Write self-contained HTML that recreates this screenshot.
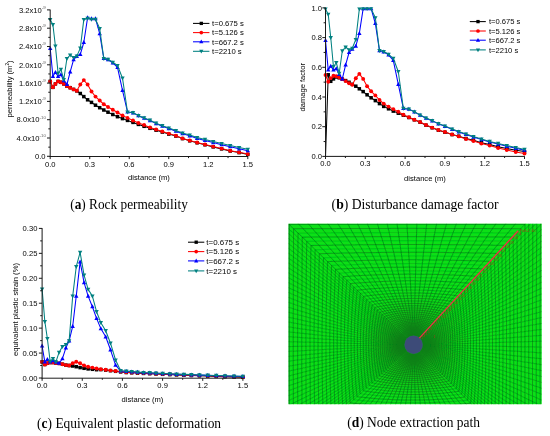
<!DOCTYPE html>
<html lang="en"><head><meta charset="utf-8"><title>Figure</title>
<style>html,body{margin:0;padding:0;background:#fff}svg{display:block}text{white-space:pre}</style>
</head><body>
<svg width="550" height="436" viewBox="0 0 550 436">
<rect width="550" height="436" fill="#ffffff"/>
<defs><filter id="soft" x="0" y="0" width="100%" height="100%" filterUnits="userSpaceOnUse"><feGaussianBlur stdDeviation="0.35"/></filter></defs>
<g filter="url(#soft)">
<clipPath id="ca"><rect x="47.2" y="9.3" width="203.60000000000002" height="149.6"/></clipPath>
<g clip-path="url(#ca)">
<polyline points="50.20,81.40 52.90,87.30 55.40,83.90 58.10,81.40 60.90,82.30 63.80,83.90 66.90,86.10 70.20,87.70 73.60,89.40 76.80,90.90 80.30,93.50 83.80,96.60 87.60,99.80 91.50,102.40 95.50,105.20 99.70,107.70 103.80,110.00 108.00,112.20 112.80,114.50 117.50,116.70 122.50,118.60 127.50,120.40 133.00,122.40 138.40,124.40 144.10,126.30 150.00,128.30 156.10,130.20 162.30,132.10 168.80,134.10 175.90,136.10 182.50,138.60 189.70,140.80 197.10,142.80 205.00,144.80 213.20,146.90 221.60,148.90 230.20,151.00 239.10,152.60 247.80,154.40" fill="none" stroke="#000000" stroke-width="1.05" stroke-linejoin="round"/>
<rect x="48.45" y="79.65" width="3.50" height="3.50" fill="#000000"/><rect x="51.15" y="85.55" width="3.50" height="3.50" fill="#000000"/><rect x="53.65" y="82.15" width="3.50" height="3.50" fill="#000000"/><rect x="56.35" y="79.65" width="3.50" height="3.50" fill="#000000"/><rect x="59.15" y="80.55" width="3.50" height="3.50" fill="#000000"/><rect x="62.05" y="82.15" width="3.50" height="3.50" fill="#000000"/><rect x="65.15" y="84.35" width="3.50" height="3.50" fill="#000000"/><rect x="68.45" y="85.95" width="3.50" height="3.50" fill="#000000"/><rect x="71.85" y="87.65" width="3.50" height="3.50" fill="#000000"/><rect x="75.05" y="89.15" width="3.50" height="3.50" fill="#000000"/><rect x="78.55" y="91.75" width="3.50" height="3.50" fill="#000000"/><rect x="82.05" y="94.85" width="3.50" height="3.50" fill="#000000"/><rect x="85.85" y="98.05" width="3.50" height="3.50" fill="#000000"/><rect x="89.75" y="100.65" width="3.50" height="3.50" fill="#000000"/><rect x="93.75" y="103.45" width="3.50" height="3.50" fill="#000000"/><rect x="97.95" y="105.95" width="3.50" height="3.50" fill="#000000"/><rect x="102.05" y="108.25" width="3.50" height="3.50" fill="#000000"/><rect x="106.25" y="110.45" width="3.50" height="3.50" fill="#000000"/><rect x="111.05" y="112.75" width="3.50" height="3.50" fill="#000000"/><rect x="115.75" y="114.95" width="3.50" height="3.50" fill="#000000"/><rect x="120.75" y="116.85" width="3.50" height="3.50" fill="#000000"/><rect x="125.75" y="118.65" width="3.50" height="3.50" fill="#000000"/><rect x="131.25" y="120.65" width="3.50" height="3.50" fill="#000000"/><rect x="136.65" y="122.65" width="3.50" height="3.50" fill="#000000"/><rect x="142.35" y="124.55" width="3.50" height="3.50" fill="#000000"/><rect x="148.25" y="126.55" width="3.50" height="3.50" fill="#000000"/><rect x="154.35" y="128.45" width="3.50" height="3.50" fill="#000000"/><rect x="160.55" y="130.35" width="3.50" height="3.50" fill="#000000"/><rect x="167.05" y="132.35" width="3.50" height="3.50" fill="#000000"/><rect x="174.15" y="134.35" width="3.50" height="3.50" fill="#000000"/><rect x="180.75" y="136.85" width="3.50" height="3.50" fill="#000000"/><rect x="187.95" y="139.05" width="3.50" height="3.50" fill="#000000"/><rect x="195.35" y="141.05" width="3.50" height="3.50" fill="#000000"/><rect x="203.25" y="143.05" width="3.50" height="3.50" fill="#000000"/><rect x="211.45" y="145.15" width="3.50" height="3.50" fill="#000000"/><rect x="219.85" y="147.15" width="3.50" height="3.50" fill="#000000"/><rect x="228.45" y="149.25" width="3.50" height="3.50" fill="#000000"/><rect x="237.35" y="150.85" width="3.50" height="3.50" fill="#000000"/><rect x="246.05" y="152.65" width="3.50" height="3.50" fill="#000000"/>
<polyline points="50.20,81.40 52.90,87.30 55.40,83.90 58.10,81.40 60.90,82.30 63.80,83.90 66.90,86.10 70.20,87.70 73.60,89.40 76.80,90.70 80.30,84.50 83.80,80.10 87.60,84.50 91.50,91.50 95.50,96.60 99.70,100.50 103.80,104.30 108.00,107.00 112.80,109.80 117.50,112.50 122.50,115.50 127.50,117.90 133.00,120.50 138.40,123.00 144.10,125.00 150.00,127.50 156.10,129.50 162.30,131.50 168.80,133.60 175.90,135.70 182.50,138.40 189.70,140.50 197.10,142.50 205.00,144.50 213.20,146.60 221.60,148.60 230.20,150.70 239.10,152.30 247.80,154.10" fill="none" stroke="#ff0000" stroke-width="1.05" stroke-linejoin="round"/>
<circle cx="50.20" cy="81.40" r="1.95" fill="#ff0000"/><circle cx="52.90" cy="87.30" r="1.95" fill="#ff0000"/><circle cx="55.40" cy="83.90" r="1.95" fill="#ff0000"/><circle cx="58.10" cy="81.40" r="1.95" fill="#ff0000"/><circle cx="60.90" cy="82.30" r="1.95" fill="#ff0000"/><circle cx="63.80" cy="83.90" r="1.95" fill="#ff0000"/><circle cx="66.90" cy="86.10" r="1.95" fill="#ff0000"/><circle cx="70.20" cy="87.70" r="1.95" fill="#ff0000"/><circle cx="73.60" cy="89.40" r="1.95" fill="#ff0000"/><circle cx="76.80" cy="90.70" r="1.95" fill="#ff0000"/><circle cx="80.30" cy="84.50" r="1.95" fill="#ff0000"/><circle cx="83.80" cy="80.10" r="1.95" fill="#ff0000"/><circle cx="87.60" cy="84.50" r="1.95" fill="#ff0000"/><circle cx="91.50" cy="91.50" r="1.95" fill="#ff0000"/><circle cx="95.50" cy="96.60" r="1.95" fill="#ff0000"/><circle cx="99.70" cy="100.50" r="1.95" fill="#ff0000"/><circle cx="103.80" cy="104.30" r="1.95" fill="#ff0000"/><circle cx="108.00" cy="107.00" r="1.95" fill="#ff0000"/><circle cx="112.80" cy="109.80" r="1.95" fill="#ff0000"/><circle cx="117.50" cy="112.50" r="1.95" fill="#ff0000"/><circle cx="122.50" cy="115.50" r="1.95" fill="#ff0000"/><circle cx="127.50" cy="117.90" r="1.95" fill="#ff0000"/><circle cx="133.00" cy="120.50" r="1.95" fill="#ff0000"/><circle cx="138.40" cy="123.00" r="1.95" fill="#ff0000"/><circle cx="144.10" cy="125.00" r="1.95" fill="#ff0000"/><circle cx="150.00" cy="127.50" r="1.95" fill="#ff0000"/><circle cx="156.10" cy="129.50" r="1.95" fill="#ff0000"/><circle cx="162.30" cy="131.50" r="1.95" fill="#ff0000"/><circle cx="168.80" cy="133.60" r="1.95" fill="#ff0000"/><circle cx="175.90" cy="135.70" r="1.95" fill="#ff0000"/><circle cx="182.50" cy="138.40" r="1.95" fill="#ff0000"/><circle cx="189.70" cy="140.50" r="1.95" fill="#ff0000"/><circle cx="197.10" cy="142.50" r="1.95" fill="#ff0000"/><circle cx="205.00" cy="144.50" r="1.95" fill="#ff0000"/><circle cx="213.20" cy="146.60" r="1.95" fill="#ff0000"/><circle cx="221.60" cy="148.60" r="1.95" fill="#ff0000"/><circle cx="230.20" cy="150.70" r="1.95" fill="#ff0000"/><circle cx="239.10" cy="152.30" r="1.95" fill="#ff0000"/><circle cx="247.80" cy="154.10" r="1.95" fill="#ff0000"/>
<polyline points="50.20,48.30 52.90,76.30 55.40,72.50 58.10,76.30 60.90,74.60 63.80,80.70 66.90,84.50 70.20,71.80 73.60,59.70 76.80,56.50 80.30,54.30 83.80,42.50 87.60,17.70 91.50,18.70 95.50,18.70 99.70,33.60 103.80,58.50 108.00,59.70 112.80,62.90 117.50,67.40 122.50,90.30 127.50,112.00 133.00,112.78 138.40,115.66 144.10,118.15 150.00,120.53 156.10,123.61 162.30,126.19 168.80,128.58 175.90,131.26 182.50,133.74 189.70,135.82 197.10,138.41 205.00,140.39 213.20,142.57 221.60,144.75 230.20,146.74 239.10,148.82 247.80,150.70" fill="none" stroke="#0000ff" stroke-width="1.05" stroke-linejoin="round"/>
<path d="M48.00 49.90L52.40 49.90L50.20 45.90Z" fill="#0000ff"/><path d="M50.70 77.90L55.10 77.90L52.90 73.90Z" fill="#0000ff"/><path d="M53.20 74.10L57.60 74.10L55.40 70.10Z" fill="#0000ff"/><path d="M55.90 77.90L60.30 77.90L58.10 73.90Z" fill="#0000ff"/><path d="M58.70 76.20L63.10 76.20L60.90 72.20Z" fill="#0000ff"/><path d="M61.60 82.30L66.00 82.30L63.80 78.30Z" fill="#0000ff"/><path d="M64.70 86.10L69.10 86.10L66.90 82.10Z" fill="#0000ff"/><path d="M68.00 73.40L72.40 73.40L70.20 69.40Z" fill="#0000ff"/><path d="M71.40 61.30L75.80 61.30L73.60 57.30Z" fill="#0000ff"/><path d="M74.60 58.10L79.00 58.10L76.80 54.10Z" fill="#0000ff"/><path d="M78.10 55.90L82.50 55.90L80.30 51.90Z" fill="#0000ff"/><path d="M81.60 44.10L86.00 44.10L83.80 40.10Z" fill="#0000ff"/><path d="M85.40 19.30L89.80 19.30L87.60 15.30Z" fill="#0000ff"/><path d="M89.30 20.30L93.70 20.30L91.50 16.30Z" fill="#0000ff"/><path d="M93.30 20.30L97.70 20.30L95.50 16.30Z" fill="#0000ff"/><path d="M97.50 35.20L101.90 35.20L99.70 31.20Z" fill="#0000ff"/><path d="M101.60 60.10L106.00 60.10L103.80 56.10Z" fill="#0000ff"/><path d="M105.80 61.30L110.20 61.30L108.00 57.30Z" fill="#0000ff"/><path d="M110.60 64.50L115.00 64.50L112.80 60.50Z" fill="#0000ff"/><path d="M115.30 69.00L119.70 69.00L117.50 65.00Z" fill="#0000ff"/><path d="M120.30 91.90L124.70 91.90L122.50 87.90Z" fill="#0000ff"/><path d="M125.30 113.60L129.70 113.60L127.50 109.60Z" fill="#0000ff"/><path d="M130.80 114.38L135.20 114.38L133.00 110.38Z" fill="#0000ff"/><path d="M136.20 117.26L140.60 117.26L138.40 113.26Z" fill="#0000ff"/><path d="M141.90 119.75L146.30 119.75L144.10 115.75Z" fill="#0000ff"/><path d="M147.80 122.13L152.20 122.13L150.00 118.13Z" fill="#0000ff"/><path d="M153.90 125.21L158.30 125.21L156.10 121.21Z" fill="#0000ff"/><path d="M160.10 127.79L164.50 127.79L162.30 123.79Z" fill="#0000ff"/><path d="M166.60 130.18L171.00 130.18L168.80 126.18Z" fill="#0000ff"/><path d="M173.70 132.86L178.10 132.86L175.90 128.86Z" fill="#0000ff"/><path d="M180.30 135.34L184.70 135.34L182.50 131.34Z" fill="#0000ff"/><path d="M187.50 137.42L191.90 137.42L189.70 133.42Z" fill="#0000ff"/><path d="M194.90 140.01L199.30 140.01L197.10 136.01Z" fill="#0000ff"/><path d="M202.80 141.99L207.20 141.99L205.00 137.99Z" fill="#0000ff"/><path d="M211.00 144.17L215.40 144.17L213.20 140.17Z" fill="#0000ff"/><path d="M219.40 146.35L223.80 146.35L221.60 142.35Z" fill="#0000ff"/><path d="M228.00 148.34L232.40 148.34L230.20 144.34Z" fill="#0000ff"/><path d="M236.90 150.42L241.30 150.42L239.10 146.42Z" fill="#0000ff"/><path d="M245.60 152.30L250.00 152.30L247.80 148.30Z" fill="#0000ff"/>
<polyline points="50.20,19.60 52.90,24.70 55.40,46.00 58.10,73.30 60.90,69.30 63.80,79.50 66.90,58.50 70.20,55.00 73.60,57.60 76.80,56.10 80.30,48.10 83.80,19.60 87.60,18.40 91.50,19.30 95.50,19.30 99.70,28.50 103.80,58.50 108.00,59.30 112.80,62.30 117.50,65.50 122.50,78.20 127.50,112.00 133.00,112.70 138.40,115.50 144.10,117.90 150.00,120.20 156.10,123.20 162.30,125.70 168.80,128.00 175.90,130.60 182.50,133.00 189.70,135.00 197.10,137.50 205.00,139.40 213.20,141.50 221.60,143.60 230.20,145.50 239.10,147.50 247.80,149.30" fill="none" stroke="#008080" stroke-width="1.05" stroke-linejoin="round"/>
<path d="M48.00 18.00L52.40 18.00L50.20 22.00Z" fill="#008080"/><path d="M50.70 23.10L55.10 23.10L52.90 27.10Z" fill="#008080"/><path d="M53.20 44.40L57.60 44.40L55.40 48.40Z" fill="#008080"/><path d="M55.90 71.70L60.30 71.70L58.10 75.70Z" fill="#008080"/><path d="M58.70 67.70L63.10 67.70L60.90 71.70Z" fill="#008080"/><path d="M61.60 77.90L66.00 77.90L63.80 81.90Z" fill="#008080"/><path d="M64.70 56.90L69.10 56.90L66.90 60.90Z" fill="#008080"/><path d="M68.00 53.40L72.40 53.40L70.20 57.40Z" fill="#008080"/><path d="M71.40 56.00L75.80 56.00L73.60 60.00Z" fill="#008080"/><path d="M74.60 54.50L79.00 54.50L76.80 58.50Z" fill="#008080"/><path d="M78.10 46.50L82.50 46.50L80.30 50.50Z" fill="#008080"/><path d="M81.60 18.00L86.00 18.00L83.80 22.00Z" fill="#008080"/><path d="M85.40 16.80L89.80 16.80L87.60 20.80Z" fill="#008080"/><path d="M89.30 17.70L93.70 17.70L91.50 21.70Z" fill="#008080"/><path d="M93.30 17.70L97.70 17.70L95.50 21.70Z" fill="#008080"/><path d="M97.50 26.90L101.90 26.90L99.70 30.90Z" fill="#008080"/><path d="M101.60 56.90L106.00 56.90L103.80 60.90Z" fill="#008080"/><path d="M105.80 57.70L110.20 57.70L108.00 61.70Z" fill="#008080"/><path d="M110.60 60.70L115.00 60.70L112.80 64.70Z" fill="#008080"/><path d="M115.30 63.90L119.70 63.90L117.50 67.90Z" fill="#008080"/><path d="M120.30 76.60L124.70 76.60L122.50 80.60Z" fill="#008080"/><path d="M125.30 110.40L129.70 110.40L127.50 114.40Z" fill="#008080"/><path d="M130.80 111.10L135.20 111.10L133.00 115.10Z" fill="#008080"/><path d="M136.20 113.90L140.60 113.90L138.40 117.90Z" fill="#008080"/><path d="M141.90 116.30L146.30 116.30L144.10 120.30Z" fill="#008080"/><path d="M147.80 118.60L152.20 118.60L150.00 122.60Z" fill="#008080"/><path d="M153.90 121.60L158.30 121.60L156.10 125.60Z" fill="#008080"/><path d="M160.10 124.10L164.50 124.10L162.30 128.10Z" fill="#008080"/><path d="M166.60 126.40L171.00 126.40L168.80 130.40Z" fill="#008080"/><path d="M173.70 129.00L178.10 129.00L175.90 133.00Z" fill="#008080"/><path d="M180.30 131.40L184.70 131.40L182.50 135.40Z" fill="#008080"/><path d="M187.50 133.40L191.90 133.40L189.70 137.40Z" fill="#008080"/><path d="M194.90 135.90L199.30 135.90L197.10 139.90Z" fill="#008080"/><path d="M202.80 137.80L207.20 137.80L205.00 141.80Z" fill="#008080"/><path d="M211.00 139.90L215.40 139.90L213.20 143.90Z" fill="#008080"/><path d="M219.40 142.00L223.80 142.00L221.60 146.00Z" fill="#008080"/><path d="M228.00 143.90L232.40 143.90L230.20 147.90Z" fill="#008080"/><path d="M236.90 145.90L241.30 145.90L239.10 149.90Z" fill="#008080"/><path d="M245.60 147.70L250.00 147.70L247.80 151.70Z" fill="#008080"/>
</g>
<g stroke="#1a1a1a" stroke-width="1" fill="none">
<path d="M50.20 9.60V157.00"/>
<path d="M49.70 156.50H248.10"/>
<path d="M47.00 156.30H50.20"/>
<path d="M48.30 147.15H50.20"/>
<path d="M47.00 138.00H50.20"/>
<path d="M48.30 128.85H50.20"/>
<path d="M47.00 119.70H50.20"/>
<path d="M48.30 110.55H50.20"/>
<path d="M47.00 101.40H50.20"/>
<path d="M48.30 92.25H50.20"/>
<path d="M47.00 83.10H50.20"/>
<path d="M48.30 73.95H50.20"/>
<path d="M47.00 64.80H50.20"/>
<path d="M48.30 55.65H50.20"/>
<path d="M47.00 46.50H50.20"/>
<path d="M48.30 37.35H50.20"/>
<path d="M47.00 28.20H50.20"/>
<path d="M48.30 19.05H50.20"/>
<path d="M47.00 9.90H50.20"/>
<path d="M50.20 156.50V159.10"/>
<path d="M69.96 156.50V158.10"/>
<path d="M89.72 156.50V159.10"/>
<path d="M109.48 156.50V158.10"/>
<path d="M129.24 156.50V159.10"/>
<path d="M149.00 156.50V158.10"/>
<path d="M168.76 156.50V159.10"/>
<path d="M188.52 156.50V158.10"/>
<path d="M208.28 156.50V159.10"/>
<path d="M228.04 156.50V158.10"/>
<path d="M247.80 156.50V159.10"/>
</g>
<g font-family='"Liberation Sans", Arial, sans-serif' font-size="7.6" fill="#0a0a0a">
<text x="50.20" y="167.30" text-anchor="middle">0.0</text>
<text x="89.72" y="167.30" text-anchor="middle">0.3</text>
<text x="129.24" y="167.30" text-anchor="middle">0.6</text>
<text x="168.76" y="167.30" text-anchor="middle">0.9</text>
<text x="208.28" y="167.30" text-anchor="middle">1.2</text>
<text x="247.80" y="167.30" text-anchor="middle">1.5</text>
<text x="45.50" y="159.05" text-anchor="end">0.0</text>
<text x="39.40" y="140.75" text-anchor="end">4.0x10</text>
<text x="39.60" y="136.80" font-size="4.4" fill="#666">-10</text>
<text x="39.40" y="122.45" text-anchor="end">8.0x10</text>
<text x="39.60" y="118.50" font-size="4.4" fill="#666">-10</text>
<text x="41.70" y="104.15" text-anchor="end">1.2x10</text>
<text x="41.90" y="100.20" font-size="4.4" fill="#666">-9</text>
<text x="41.70" y="85.85" text-anchor="end">1.6x10</text>
<text x="41.90" y="81.90" font-size="4.4" fill="#666">-9</text>
<text x="41.70" y="67.55" text-anchor="end">2.0x10</text>
<text x="41.90" y="63.60" font-size="4.4" fill="#666">-9</text>
<text x="41.70" y="49.25" text-anchor="end">2.4x10</text>
<text x="41.90" y="45.30" font-size="4.4" fill="#666">-9</text>
<text x="41.70" y="30.95" text-anchor="end">2.8x10</text>
<text x="41.90" y="27.00" font-size="4.4" fill="#666">-9</text>
<text x="41.70" y="12.65" text-anchor="end">3.2x10</text>
<text x="41.90" y="8.70" font-size="4.4" fill="#666">-9</text>
<text x="149.00" y="180.20" text-anchor="middle">distance (m)</text>
<text transform="translate(11.90 89.00) rotate(-90)" text-anchor="middle">permeability (m<tspan font-size="4.6" dy="-2.8">2</tspan><tspan dy="2.8">)</tspan></text>
<path d="M193 23.4H209.4" stroke="#000000" stroke-width="1.05"/>
<rect x="199.64" y="21.74" width="3.32" height="3.32" fill="#000000"/>
<text x="212" y="26.10" font-size="7.7">t=0.675 s</text>
<path d="M193 32.6H209.4" stroke="#ff0000" stroke-width="1.05"/>
<circle cx="201.30" cy="32.60" r="1.85" fill="#ff0000"/>
<text x="212" y="35.30" font-size="7.7">t=5.126 s</text>
<path d="M193 41.8H209.4" stroke="#0000ff" stroke-width="1.05"/>
<path d="M199.21 43.32L203.39 43.32L201.30 39.52Z" fill="#0000ff"/>
<text x="212" y="44.50" font-size="7.7">t=667.2 s</text>
<path d="M193 51.3H209.4" stroke="#008080" stroke-width="1.05"/>
<path d="M199.21 49.78L203.39 49.78L201.30 53.58Z" fill="#008080"/>
<text x="212" y="54.00" font-size="7.7">t=2210 s</text>
</g>
<clipPath id="cb"><rect x="322.5" y="7.300000000000001" width="205.0" height="151.5"/></clipPath>
<g clip-path="url(#cb)">
<polyline points="325.50,156.40 328.22,74.80 330.74,81.30 333.46,78.90 336.28,77.00 339.20,77.80 342.32,79.20 345.64,80.60 349.07,82.30 352.29,84.30 355.81,86.20 359.34,88.80 363.17,91.60 367.09,94.80 371.12,97.80 375.35,100.60 379.48,103.60 383.71,106.40 388.54,108.80 393.28,111.10 398.31,113.20 403.35,115.20 408.89,117.50 414.33,119.80 420.07,122.20 426.01,125.20 432.15,127.80 438.39,130.20 444.94,132.20 452.09,134.60 458.74,136.18 465.99,138.56 473.44,140.33 481.40,142.71 489.66,144.49 498.11,146.67 506.78,148.44 515.74,150.22 524.50,151.60" fill="none" stroke="#000000" stroke-width="1.05" stroke-linejoin="round"/>
<rect x="326.47" y="73.05" width="3.50" height="3.50" fill="#000000"/><rect x="328.99" y="79.55" width="3.50" height="3.50" fill="#000000"/><rect x="331.71" y="77.15" width="3.50" height="3.50" fill="#000000"/><rect x="334.53" y="75.25" width="3.50" height="3.50" fill="#000000"/><rect x="337.45" y="76.05" width="3.50" height="3.50" fill="#000000"/><rect x="340.57" y="77.45" width="3.50" height="3.50" fill="#000000"/><rect x="343.89" y="78.85" width="3.50" height="3.50" fill="#000000"/><rect x="347.32" y="80.55" width="3.50" height="3.50" fill="#000000"/><rect x="350.54" y="82.55" width="3.50" height="3.50" fill="#000000"/><rect x="354.06" y="84.45" width="3.50" height="3.50" fill="#000000"/><rect x="357.59" y="87.05" width="3.50" height="3.50" fill="#000000"/><rect x="361.42" y="89.85" width="3.50" height="3.50" fill="#000000"/><rect x="365.34" y="93.05" width="3.50" height="3.50" fill="#000000"/><rect x="369.37" y="96.05" width="3.50" height="3.50" fill="#000000"/><rect x="373.60" y="98.85" width="3.50" height="3.50" fill="#000000"/><rect x="377.73" y="101.85" width="3.50" height="3.50" fill="#000000"/><rect x="381.96" y="104.65" width="3.50" height="3.50" fill="#000000"/><rect x="386.79" y="107.05" width="3.50" height="3.50" fill="#000000"/><rect x="391.53" y="109.35" width="3.50" height="3.50" fill="#000000"/><rect x="396.56" y="111.45" width="3.50" height="3.50" fill="#000000"/><rect x="401.60" y="113.45" width="3.50" height="3.50" fill="#000000"/><rect x="407.14" y="115.75" width="3.50" height="3.50" fill="#000000"/><rect x="412.58" y="118.05" width="3.50" height="3.50" fill="#000000"/><rect x="418.32" y="120.45" width="3.50" height="3.50" fill="#000000"/><rect x="424.26" y="123.45" width="3.50" height="3.50" fill="#000000"/><rect x="430.40" y="126.05" width="3.50" height="3.50" fill="#000000"/><rect x="436.64" y="128.45" width="3.50" height="3.50" fill="#000000"/><rect x="443.19" y="130.45" width="3.50" height="3.50" fill="#000000"/><rect x="450.34" y="132.85" width="3.50" height="3.50" fill="#000000"/><rect x="456.99" y="134.43" width="3.50" height="3.50" fill="#000000"/><rect x="464.24" y="136.81" width="3.50" height="3.50" fill="#000000"/><rect x="471.69" y="138.58" width="3.50" height="3.50" fill="#000000"/><rect x="479.65" y="140.96" width="3.50" height="3.50" fill="#000000"/><rect x="487.91" y="142.74" width="3.50" height="3.50" fill="#000000"/><rect x="496.36" y="144.92" width="3.50" height="3.50" fill="#000000"/><rect x="505.03" y="146.69" width="3.50" height="3.50" fill="#000000"/><rect x="513.99" y="148.47" width="3.50" height="3.50" fill="#000000"/><rect x="522.75" y="149.85" width="3.50" height="3.50" fill="#000000"/>
<polyline points="325.50,75.00 328.22,81.70 330.74,78.10 333.46,75.80 336.28,76.20 339.20,77.40 342.32,79.00 345.64,81.10 349.07,83.30 352.29,84.80 355.81,78.20 359.34,73.90 363.17,78.90 367.09,86.20 371.12,91.30 375.35,95.40 379.48,100.00 383.71,103.60 388.54,106.60 393.28,109.10 398.31,111.80 403.35,114.80 408.89,117.30 414.33,119.70 420.07,122.00 426.01,125.00 432.15,127.60 438.39,130.00 444.94,132.00 452.09,134.40 458.74,136.40 465.99,139.00 473.44,141.00 481.40,143.60 489.66,145.60 498.11,148.00 506.78,150.00 515.74,152.00 524.50,153.60" fill="none" stroke="#ff0000" stroke-width="1.05" stroke-linejoin="round"/>
<circle cx="325.50" cy="75.00" r="1.95" fill="#ff0000"/><circle cx="328.22" cy="81.70" r="1.95" fill="#ff0000"/><circle cx="330.74" cy="78.10" r="1.95" fill="#ff0000"/><circle cx="333.46" cy="75.80" r="1.95" fill="#ff0000"/><circle cx="336.28" cy="76.20" r="1.95" fill="#ff0000"/><circle cx="339.20" cy="77.40" r="1.95" fill="#ff0000"/><circle cx="342.32" cy="79.00" r="1.95" fill="#ff0000"/><circle cx="345.64" cy="81.10" r="1.95" fill="#ff0000"/><circle cx="349.07" cy="83.30" r="1.95" fill="#ff0000"/><circle cx="352.29" cy="84.80" r="1.95" fill="#ff0000"/><circle cx="355.81" cy="78.20" r="1.95" fill="#ff0000"/><circle cx="359.34" cy="73.90" r="1.95" fill="#ff0000"/><circle cx="363.17" cy="78.90" r="1.95" fill="#ff0000"/><circle cx="367.09" cy="86.20" r="1.95" fill="#ff0000"/><circle cx="371.12" cy="91.30" r="1.95" fill="#ff0000"/><circle cx="375.35" cy="95.40" r="1.95" fill="#ff0000"/><circle cx="379.48" cy="100.00" r="1.95" fill="#ff0000"/><circle cx="383.71" cy="103.60" r="1.95" fill="#ff0000"/><circle cx="388.54" cy="106.60" r="1.95" fill="#ff0000"/><circle cx="393.28" cy="109.10" r="1.95" fill="#ff0000"/><circle cx="398.31" cy="111.80" r="1.95" fill="#ff0000"/><circle cx="403.35" cy="114.80" r="1.95" fill="#ff0000"/><circle cx="408.89" cy="117.30" r="1.95" fill="#ff0000"/><circle cx="414.33" cy="119.70" r="1.95" fill="#ff0000"/><circle cx="420.07" cy="122.00" r="1.95" fill="#ff0000"/><circle cx="426.01" cy="125.00" r="1.95" fill="#ff0000"/><circle cx="432.15" cy="127.60" r="1.95" fill="#ff0000"/><circle cx="438.39" cy="130.00" r="1.95" fill="#ff0000"/><circle cx="444.94" cy="132.00" r="1.95" fill="#ff0000"/><circle cx="452.09" cy="134.40" r="1.95" fill="#ff0000"/><circle cx="458.74" cy="136.40" r="1.95" fill="#ff0000"/><circle cx="465.99" cy="139.00" r="1.95" fill="#ff0000"/><circle cx="473.44" cy="141.00" r="1.95" fill="#ff0000"/><circle cx="481.40" cy="143.60" r="1.95" fill="#ff0000"/><circle cx="489.66" cy="145.60" r="1.95" fill="#ff0000"/><circle cx="498.11" cy="148.00" r="1.95" fill="#ff0000"/><circle cx="506.78" cy="150.00" r="1.95" fill="#ff0000"/><circle cx="515.74" cy="152.00" r="1.95" fill="#ff0000"/><circle cx="524.50" cy="153.60" r="1.95" fill="#ff0000"/>
<polyline points="325.50,40.50 328.22,69.90 330.74,66.10 333.46,69.90 336.28,68.60 339.20,74.40 342.32,78.80 345.64,64.80 349.07,52.50 352.29,49.10 355.81,46.10 359.34,33.30 363.17,8.70 367.09,8.70 371.12,8.70 375.35,23.50 379.48,50.60 383.71,51.80 388.54,54.80 393.28,60.30 398.31,84.40 403.35,108.40 408.89,109.15 414.33,111.89 420.07,115.14 426.01,118.19 432.15,120.84 438.39,123.88 444.94,126.33 452.09,129.38 458.74,132.02 465.99,134.47 473.44,137.12 481.40,139.56 489.66,142.01 498.11,144.06 506.78,146.31 515.74,148.35 524.50,150.20" fill="none" stroke="#0000ff" stroke-width="1.05" stroke-linejoin="round"/>
<path d="M323.30 42.10L327.70 42.10L325.50 38.10Z" fill="#0000ff"/><path d="M326.02 71.50L330.42 71.50L328.22 67.50Z" fill="#0000ff"/><path d="M328.54 67.70L332.94 67.70L330.74 63.70Z" fill="#0000ff"/><path d="M331.26 71.50L335.66 71.50L333.46 67.50Z" fill="#0000ff"/><path d="M334.08 70.20L338.48 70.20L336.28 66.20Z" fill="#0000ff"/><path d="M337.00 76.00L341.40 76.00L339.20 72.00Z" fill="#0000ff"/><path d="M340.12 80.40L344.52 80.40L342.32 76.40Z" fill="#0000ff"/><path d="M343.44 66.40L347.84 66.40L345.64 62.40Z" fill="#0000ff"/><path d="M346.87 54.10L351.27 54.10L349.07 50.10Z" fill="#0000ff"/><path d="M350.09 50.70L354.49 50.70L352.29 46.70Z" fill="#0000ff"/><path d="M353.61 47.70L358.01 47.70L355.81 43.70Z" fill="#0000ff"/><path d="M357.14 34.90L361.54 34.90L359.34 30.90Z" fill="#0000ff"/><path d="M360.97 10.30L365.37 10.30L363.17 6.30Z" fill="#0000ff"/><path d="M364.89 10.30L369.29 10.30L367.09 6.30Z" fill="#0000ff"/><path d="M368.92 10.30L373.32 10.30L371.12 6.30Z" fill="#0000ff"/><path d="M373.15 25.10L377.55 25.10L375.35 21.10Z" fill="#0000ff"/><path d="M377.28 52.20L381.68 52.20L379.48 48.20Z" fill="#0000ff"/><path d="M381.51 53.40L385.91 53.40L383.71 49.40Z" fill="#0000ff"/><path d="M386.34 56.40L390.74 56.40L388.54 52.40Z" fill="#0000ff"/><path d="M391.08 61.90L395.48 61.90L393.28 57.90Z" fill="#0000ff"/><path d="M396.11 86.00L400.51 86.00L398.31 82.00Z" fill="#0000ff"/><path d="M401.15 110.00L405.55 110.00L403.35 106.00Z" fill="#0000ff"/><path d="M406.69 110.75L411.09 110.75L408.89 106.75Z" fill="#0000ff"/><path d="M412.13 113.49L416.53 113.49L414.33 109.49Z" fill="#0000ff"/><path d="M417.87 116.74L422.27 116.74L420.07 112.74Z" fill="#0000ff"/><path d="M423.81 119.79L428.21 119.79L426.01 115.79Z" fill="#0000ff"/><path d="M429.95 122.44L434.35 122.44L432.15 118.44Z" fill="#0000ff"/><path d="M436.19 125.48L440.59 125.48L438.39 121.48Z" fill="#0000ff"/><path d="M442.74 127.93L447.14 127.93L444.94 123.93Z" fill="#0000ff"/><path d="M449.89 130.98L454.29 130.98L452.09 126.98Z" fill="#0000ff"/><path d="M456.54 133.62L460.94 133.62L458.74 129.62Z" fill="#0000ff"/><path d="M463.79 136.07L468.19 136.07L465.99 132.07Z" fill="#0000ff"/><path d="M471.24 138.72L475.64 138.72L473.44 134.72Z" fill="#0000ff"/><path d="M479.20 141.16L483.60 141.16L481.40 137.16Z" fill="#0000ff"/><path d="M487.46 143.61L491.86 143.61L489.66 139.61Z" fill="#0000ff"/><path d="M495.91 145.66L500.31 145.66L498.11 141.66Z" fill="#0000ff"/><path d="M504.58 147.91L508.98 147.91L506.78 143.91Z" fill="#0000ff"/><path d="M513.54 149.95L517.94 149.95L515.74 145.95Z" fill="#0000ff"/><path d="M522.30 151.80L526.70 151.80L524.50 147.80Z" fill="#0000ff"/>
<polyline points="325.50,8.90 328.22,14.30 330.74,37.50 333.46,66.70 336.28,62.70 339.20,73.30 342.32,50.80 345.64,47.00 349.07,49.90 352.29,48.30 355.81,39.50 359.34,8.90 363.17,8.70 367.09,8.70 371.12,8.70 375.35,17.80 379.48,50.60 383.71,51.50 388.54,54.30 393.28,58.30 398.31,71.70 403.35,108.40 408.89,109.10 414.33,111.80 420.07,115.00 426.01,118.00 432.15,120.60 438.39,123.60 444.94,126.00 452.09,129.00 458.74,131.60 465.99,134.00 473.44,136.60 481.40,139.00 489.66,141.40 498.11,143.40 506.78,145.60 515.74,147.60 524.50,149.40" fill="none" stroke="#008080" stroke-width="1.05" stroke-linejoin="round"/>
<path d="M323.30 7.30L327.70 7.30L325.50 11.30Z" fill="#008080"/><path d="M326.02 12.70L330.42 12.70L328.22 16.70Z" fill="#008080"/><path d="M328.54 35.90L332.94 35.90L330.74 39.90Z" fill="#008080"/><path d="M331.26 65.10L335.66 65.10L333.46 69.10Z" fill="#008080"/><path d="M334.08 61.10L338.48 61.10L336.28 65.10Z" fill="#008080"/><path d="M337.00 71.70L341.40 71.70L339.20 75.70Z" fill="#008080"/><path d="M340.12 49.20L344.52 49.20L342.32 53.20Z" fill="#008080"/><path d="M343.44 45.40L347.84 45.40L345.64 49.40Z" fill="#008080"/><path d="M346.87 48.30L351.27 48.30L349.07 52.30Z" fill="#008080"/><path d="M350.09 46.70L354.49 46.70L352.29 50.70Z" fill="#008080"/><path d="M353.61 37.90L358.01 37.90L355.81 41.90Z" fill="#008080"/><path d="M357.14 7.30L361.54 7.30L359.34 11.30Z" fill="#008080"/><path d="M360.97 7.10L365.37 7.10L363.17 11.10Z" fill="#008080"/><path d="M364.89 7.10L369.29 7.10L367.09 11.10Z" fill="#008080"/><path d="M368.92 7.10L373.32 7.10L371.12 11.10Z" fill="#008080"/><path d="M373.15 16.20L377.55 16.20L375.35 20.20Z" fill="#008080"/><path d="M377.28 49.00L381.68 49.00L379.48 53.00Z" fill="#008080"/><path d="M381.51 49.90L385.91 49.90L383.71 53.90Z" fill="#008080"/><path d="M386.34 52.70L390.74 52.70L388.54 56.70Z" fill="#008080"/><path d="M391.08 56.70L395.48 56.70L393.28 60.70Z" fill="#008080"/><path d="M396.11 70.10L400.51 70.10L398.31 74.10Z" fill="#008080"/><path d="M401.15 106.80L405.55 106.80L403.35 110.80Z" fill="#008080"/><path d="M406.69 107.50L411.09 107.50L408.89 111.50Z" fill="#008080"/><path d="M412.13 110.20L416.53 110.20L414.33 114.20Z" fill="#008080"/><path d="M417.87 113.40L422.27 113.40L420.07 117.40Z" fill="#008080"/><path d="M423.81 116.40L428.21 116.40L426.01 120.40Z" fill="#008080"/><path d="M429.95 119.00L434.35 119.00L432.15 123.00Z" fill="#008080"/><path d="M436.19 122.00L440.59 122.00L438.39 126.00Z" fill="#008080"/><path d="M442.74 124.40L447.14 124.40L444.94 128.40Z" fill="#008080"/><path d="M449.89 127.40L454.29 127.40L452.09 131.40Z" fill="#008080"/><path d="M456.54 130.00L460.94 130.00L458.74 134.00Z" fill="#008080"/><path d="M463.79 132.40L468.19 132.40L465.99 136.40Z" fill="#008080"/><path d="M471.24 135.00L475.64 135.00L473.44 139.00Z" fill="#008080"/><path d="M479.20 137.40L483.60 137.40L481.40 141.40Z" fill="#008080"/><path d="M487.46 139.80L491.86 139.80L489.66 143.80Z" fill="#008080"/><path d="M495.91 141.80L500.31 141.80L498.11 145.80Z" fill="#008080"/><path d="M504.58 144.00L508.98 144.00L506.78 148.00Z" fill="#008080"/><path d="M513.54 146.00L517.94 146.00L515.74 150.00Z" fill="#008080"/><path d="M522.30 147.80L526.70 147.80L524.50 151.80Z" fill="#008080"/>
</g>
<g stroke="#1a1a1a" stroke-width="1" fill="none">
<path d="M325.50 7.60V156.90"/>
<path d="M325.00 156.40H524.80"/>
<path d="M322.30 156.40H325.50"/>
<path d="M323.60 141.55H325.50"/>
<path d="M322.30 126.70H325.50"/>
<path d="M323.60 111.85H325.50"/>
<path d="M322.30 97.00H325.50"/>
<path d="M323.60 82.15H325.50"/>
<path d="M322.30 67.30H325.50"/>
<path d="M323.60 52.45H325.50"/>
<path d="M322.30 37.60H325.50"/>
<path d="M323.60 22.75H325.50"/>
<path d="M322.30 7.90H325.50"/>
<path d="M325.50 156.40V159.00"/>
<path d="M345.40 156.40V158.00"/>
<path d="M365.30 156.40V159.00"/>
<path d="M385.20 156.40V158.00"/>
<path d="M405.10 156.40V159.00"/>
<path d="M425.00 156.40V158.00"/>
<path d="M444.90 156.40V159.00"/>
<path d="M464.80 156.40V158.00"/>
<path d="M484.70 156.40V159.00"/>
<path d="M504.60 156.40V158.00"/>
<path d="M524.50 156.40V159.00"/>
</g>
<g font-family='"Liberation Sans", Arial, sans-serif' font-size="7.6" fill="#0a0a0a">
<text x="325.50" y="166.10" text-anchor="middle">0.0</text>
<text x="365.30" y="166.10" text-anchor="middle">0.3</text>
<text x="405.10" y="166.10" text-anchor="middle">0.6</text>
<text x="444.90" y="166.10" text-anchor="middle">0.9</text>
<text x="484.70" y="166.10" text-anchor="middle">1.2</text>
<text x="524.50" y="166.10" text-anchor="middle">1.5</text>
<text x="322.00" y="159.15" text-anchor="end">0.0</text>
<text x="322.00" y="129.45" text-anchor="end">0.2</text>
<text x="322.00" y="99.75" text-anchor="end">0.4</text>
<text x="322.00" y="70.05" text-anchor="end">0.6</text>
<text x="322.00" y="40.35" text-anchor="end">0.8</text>
<text x="322.00" y="10.65" text-anchor="end">1.0</text>
<text x="425.00" y="180.60" text-anchor="middle">distance (m)</text>
<text transform="translate(305.10 87.30) rotate(-90)" text-anchor="middle">damage factor</text>
<path d="M469.8 21.6H485.8" stroke="#000000" stroke-width="1.05"/>
<rect x="476.34" y="19.94" width="3.32" height="3.32" fill="#000000"/>
<text x="488.9" y="24.30" font-size="7.6">t=0.675 s</text>
<path d="M469.8 31H485.8" stroke="#ff0000" stroke-width="1.05"/>
<circle cx="478.00" cy="31.00" r="1.85" fill="#ff0000"/>
<text x="488.9" y="33.70" font-size="7.6">t=5.126 s</text>
<path d="M469.8 40.2H485.8" stroke="#0000ff" stroke-width="1.05"/>
<path d="M475.91 41.72L480.09 41.72L478.00 37.92Z" fill="#0000ff"/>
<text x="488.9" y="42.90" font-size="7.6">t=667.2 s</text>
<path d="M469.8 49.9H485.8" stroke="#008080" stroke-width="1.05"/>
<path d="M475.91 48.38L480.09 48.38L478.00 52.18Z" fill="#008080"/>
<text x="488.9" y="52.60" font-size="7.6">t=2210 s</text>
</g>
<clipPath id="cc"><rect x="39.1" y="227.8" width="206.8" height="152.79999999999998"/></clipPath>
<g clip-path="url(#cc)">
<polyline points="42.10,361.90 44.84,364.50 47.38,363.20 50.13,362.50 52.97,362.50 55.92,363.00 59.07,363.40 62.42,364.20 65.88,365.10 69.13,365.50 72.69,366.00 76.24,366.70 80.11,367.60 84.07,368.30 88.13,368.90 92.40,369.30 96.57,369.70 100.84,369.60 105.71,370.10 110.49,370.70 115.57,371.30 120.65,371.90 126.24,372.50 131.73,372.80 137.52,373.10 143.52,373.40 149.72,373.70 156.02,374.00 162.62,374.30 169.84,374.60 176.54,374.90 183.86,375.20 191.38,375.50 199.41,375.80 207.74,376.10 216.28,376.40 225.02,376.70 234.06,377.00 242.90,377.30" fill="none" stroke="#000000" stroke-width="1.05" stroke-linejoin="round"/>
<rect x="40.35" y="360.15" width="3.50" height="3.50" fill="#000000"/><rect x="43.09" y="362.75" width="3.50" height="3.50" fill="#000000"/><rect x="45.63" y="361.45" width="3.50" height="3.50" fill="#000000"/><rect x="48.38" y="360.75" width="3.50" height="3.50" fill="#000000"/><rect x="51.22" y="360.75" width="3.50" height="3.50" fill="#000000"/><rect x="54.17" y="361.25" width="3.50" height="3.50" fill="#000000"/><rect x="57.32" y="361.65" width="3.50" height="3.50" fill="#000000"/><rect x="60.67" y="362.45" width="3.50" height="3.50" fill="#000000"/><rect x="64.13" y="363.35" width="3.50" height="3.50" fill="#000000"/><rect x="67.38" y="363.75" width="3.50" height="3.50" fill="#000000"/><rect x="70.94" y="364.25" width="3.50" height="3.50" fill="#000000"/><rect x="74.49" y="364.95" width="3.50" height="3.50" fill="#000000"/><rect x="78.36" y="365.85" width="3.50" height="3.50" fill="#000000"/><rect x="82.32" y="366.55" width="3.50" height="3.50" fill="#000000"/><rect x="86.38" y="367.15" width="3.50" height="3.50" fill="#000000"/><rect x="90.65" y="367.55" width="3.50" height="3.50" fill="#000000"/><rect x="94.82" y="367.95" width="3.50" height="3.50" fill="#000000"/><rect x="99.09" y="367.85" width="3.50" height="3.50" fill="#000000"/><rect x="103.96" y="368.35" width="3.50" height="3.50" fill="#000000"/><rect x="108.74" y="368.95" width="3.50" height="3.50" fill="#000000"/><rect x="113.82" y="369.55" width="3.50" height="3.50" fill="#000000"/><rect x="118.90" y="370.15" width="3.50" height="3.50" fill="#000000"/><rect x="124.49" y="370.75" width="3.50" height="3.50" fill="#000000"/><rect x="129.98" y="371.05" width="3.50" height="3.50" fill="#000000"/><rect x="135.77" y="371.35" width="3.50" height="3.50" fill="#000000"/><rect x="141.77" y="371.65" width="3.50" height="3.50" fill="#000000"/><rect x="147.97" y="371.95" width="3.50" height="3.50" fill="#000000"/><rect x="154.27" y="372.25" width="3.50" height="3.50" fill="#000000"/><rect x="160.87" y="372.55" width="3.50" height="3.50" fill="#000000"/><rect x="168.09" y="372.85" width="3.50" height="3.50" fill="#000000"/><rect x="174.79" y="373.15" width="3.50" height="3.50" fill="#000000"/><rect x="182.11" y="373.45" width="3.50" height="3.50" fill="#000000"/><rect x="189.63" y="373.75" width="3.50" height="3.50" fill="#000000"/><rect x="197.66" y="374.05" width="3.50" height="3.50" fill="#000000"/><rect x="205.99" y="374.35" width="3.50" height="3.50" fill="#000000"/><rect x="214.53" y="374.65" width="3.50" height="3.50" fill="#000000"/><rect x="223.27" y="374.95" width="3.50" height="3.50" fill="#000000"/><rect x="232.31" y="375.25" width="3.50" height="3.50" fill="#000000"/><rect x="241.15" y="375.55" width="3.50" height="3.50" fill="#000000"/>
<polyline points="42.10,361.90 44.84,364.50 47.38,363.20 50.13,362.50 52.97,362.50 55.92,363.00 59.07,363.40 62.42,364.20 65.88,365.10 69.13,365.50 72.69,363.20 76.24,361.70 80.11,363.20 84.07,365.50 88.13,366.70 92.40,367.60 96.57,368.50 100.84,369.30 105.71,369.80 110.49,370.40 115.57,371.00 120.65,371.60 126.24,372.20 131.73,372.50 137.52,372.80 143.52,373.10 149.72,373.40 156.02,373.70 162.62,374.00 169.84,374.30 176.54,374.60 183.86,374.90 191.38,375.20 199.41,375.50 207.74,375.80 216.28,376.10 225.02,376.40 234.06,376.70 242.90,377.00" fill="none" stroke="#ff0000" stroke-width="1.05" stroke-linejoin="round"/>
<circle cx="42.10" cy="361.90" r="1.95" fill="#ff0000"/><circle cx="44.84" cy="364.50" r="1.95" fill="#ff0000"/><circle cx="47.38" cy="363.20" r="1.95" fill="#ff0000"/><circle cx="50.13" cy="362.50" r="1.95" fill="#ff0000"/><circle cx="52.97" cy="362.50" r="1.95" fill="#ff0000"/><circle cx="55.92" cy="363.00" r="1.95" fill="#ff0000"/><circle cx="59.07" cy="363.40" r="1.95" fill="#ff0000"/><circle cx="62.42" cy="364.20" r="1.95" fill="#ff0000"/><circle cx="65.88" cy="365.10" r="1.95" fill="#ff0000"/><circle cx="69.13" cy="365.50" r="1.95" fill="#ff0000"/><circle cx="72.69" cy="363.20" r="1.95" fill="#ff0000"/><circle cx="76.24" cy="361.70" r="1.95" fill="#ff0000"/><circle cx="80.11" cy="363.20" r="1.95" fill="#ff0000"/><circle cx="84.07" cy="365.50" r="1.95" fill="#ff0000"/><circle cx="88.13" cy="366.70" r="1.95" fill="#ff0000"/><circle cx="92.40" cy="367.60" r="1.95" fill="#ff0000"/><circle cx="96.57" cy="368.50" r="1.95" fill="#ff0000"/><circle cx="100.84" cy="369.30" r="1.95" fill="#ff0000"/><circle cx="105.71" cy="369.80" r="1.95" fill="#ff0000"/><circle cx="110.49" cy="370.40" r="1.95" fill="#ff0000"/><circle cx="115.57" cy="371.00" r="1.95" fill="#ff0000"/><circle cx="120.65" cy="371.60" r="1.95" fill="#ff0000"/><circle cx="126.24" cy="372.20" r="1.95" fill="#ff0000"/><circle cx="131.73" cy="372.50" r="1.95" fill="#ff0000"/><circle cx="137.52" cy="372.80" r="1.95" fill="#ff0000"/><circle cx="143.52" cy="373.10" r="1.95" fill="#ff0000"/><circle cx="149.72" cy="373.40" r="1.95" fill="#ff0000"/><circle cx="156.02" cy="373.70" r="1.95" fill="#ff0000"/><circle cx="162.62" cy="374.00" r="1.95" fill="#ff0000"/><circle cx="169.84" cy="374.30" r="1.95" fill="#ff0000"/><circle cx="176.54" cy="374.60" r="1.95" fill="#ff0000"/><circle cx="183.86" cy="374.90" r="1.95" fill="#ff0000"/><circle cx="191.38" cy="375.20" r="1.95" fill="#ff0000"/><circle cx="199.41" cy="375.50" r="1.95" fill="#ff0000"/><circle cx="207.74" cy="375.80" r="1.95" fill="#ff0000"/><circle cx="216.28" cy="376.10" r="1.95" fill="#ff0000"/><circle cx="225.02" cy="376.40" r="1.95" fill="#ff0000"/><circle cx="234.06" cy="376.70" r="1.95" fill="#ff0000"/><circle cx="242.90" cy="377.00" r="1.95" fill="#ff0000"/>
<polyline points="42.10,346.00 44.84,361.90 47.38,359.40 50.13,361.90 52.97,360.60 55.92,362.20 59.07,363.20 62.42,358.70 65.88,347.90 69.13,340.90 72.69,326.30 76.24,296.10 80.11,261.90 84.07,282.70 88.13,296.10 92.40,306.70 96.57,318.40 100.84,328.60 105.71,336.80 110.49,349.80 115.57,365.20 120.65,371.00 126.24,371.30 131.73,371.80 137.52,372.20 143.52,372.70 149.72,372.90 156.02,373.20 162.62,373.60 169.84,374.00 176.54,374.28 183.86,374.56 191.38,374.83 199.41,375.11 207.74,375.39 216.28,375.67 225.02,375.94 234.06,376.22 242.90,376.50" fill="none" stroke="#0000ff" stroke-width="1.05" stroke-linejoin="round"/>
<path d="M39.90 347.60L44.30 347.60L42.10 343.60Z" fill="#0000ff"/><path d="M42.64 363.50L47.04 363.50L44.84 359.50Z" fill="#0000ff"/><path d="M45.18 361.00L49.58 361.00L47.38 357.00Z" fill="#0000ff"/><path d="M47.93 363.50L52.33 363.50L50.13 359.50Z" fill="#0000ff"/><path d="M50.77 362.20L55.17 362.20L52.97 358.20Z" fill="#0000ff"/><path d="M53.72 363.80L58.12 363.80L55.92 359.80Z" fill="#0000ff"/><path d="M56.87 364.80L61.27 364.80L59.07 360.80Z" fill="#0000ff"/><path d="M60.22 360.30L64.62 360.30L62.42 356.30Z" fill="#0000ff"/><path d="M63.68 349.50L68.08 349.50L65.88 345.50Z" fill="#0000ff"/><path d="M66.93 342.50L71.33 342.50L69.13 338.50Z" fill="#0000ff"/><path d="M70.49 327.90L74.89 327.90L72.69 323.90Z" fill="#0000ff"/><path d="M74.04 297.70L78.44 297.70L76.24 293.70Z" fill="#0000ff"/><path d="M77.91 263.50L82.31 263.50L80.11 259.50Z" fill="#0000ff"/><path d="M81.87 284.30L86.27 284.30L84.07 280.30Z" fill="#0000ff"/><path d="M85.93 297.70L90.33 297.70L88.13 293.70Z" fill="#0000ff"/><path d="M90.20 308.30L94.60 308.30L92.40 304.30Z" fill="#0000ff"/><path d="M94.37 320.00L98.77 320.00L96.57 316.00Z" fill="#0000ff"/><path d="M98.64 330.20L103.04 330.20L100.84 326.20Z" fill="#0000ff"/><path d="M103.51 338.40L107.91 338.40L105.71 334.40Z" fill="#0000ff"/><path d="M108.29 351.40L112.69 351.40L110.49 347.40Z" fill="#0000ff"/><path d="M113.37 366.80L117.77 366.80L115.57 362.80Z" fill="#0000ff"/><path d="M118.45 372.60L122.85 372.60L120.65 368.60Z" fill="#0000ff"/><path d="M124.04 372.90L128.44 372.90L126.24 368.90Z" fill="#0000ff"/><path d="M129.53 373.40L133.93 373.40L131.73 369.40Z" fill="#0000ff"/><path d="M135.32 373.80L139.72 373.80L137.52 369.80Z" fill="#0000ff"/><path d="M141.32 374.30L145.72 374.30L143.52 370.30Z" fill="#0000ff"/><path d="M147.52 374.50L151.92 374.50L149.72 370.50Z" fill="#0000ff"/><path d="M153.82 374.80L158.22 374.80L156.02 370.80Z" fill="#0000ff"/><path d="M160.42 375.20L164.82 375.20L162.62 371.20Z" fill="#0000ff"/><path d="M167.64 375.60L172.04 375.60L169.84 371.60Z" fill="#0000ff"/><path d="M174.34 375.88L178.74 375.88L176.54 371.88Z" fill="#0000ff"/><path d="M181.66 376.16L186.06 376.16L183.86 372.16Z" fill="#0000ff"/><path d="M189.18 376.43L193.58 376.43L191.38 372.43Z" fill="#0000ff"/><path d="M197.21 376.71L201.61 376.71L199.41 372.71Z" fill="#0000ff"/><path d="M205.54 376.99L209.94 376.99L207.74 372.99Z" fill="#0000ff"/><path d="M214.08 377.27L218.48 377.27L216.28 373.27Z" fill="#0000ff"/><path d="M222.82 377.54L227.22 377.54L225.02 373.54Z" fill="#0000ff"/><path d="M231.86 377.82L236.26 377.82L234.06 373.82Z" fill="#0000ff"/><path d="M240.70 378.10L245.10 378.10L242.90 374.10Z" fill="#0000ff"/>
<polyline points="42.10,289.10 44.84,321.50 47.38,338.70 50.13,361.30 52.97,358.70 55.92,361.90 59.07,352.40 62.42,346.60 65.88,344.70 69.13,340.90 72.69,296.10 76.24,266.70 80.11,252.40 84.07,275.10 88.13,289.30 92.40,296.10 96.57,311.70 100.84,322.70 105.71,330.70 110.49,343.20 115.57,360.00 120.65,370.70 126.24,371.10 131.73,371.60 137.52,372.00 143.52,372.50 149.72,372.70 156.02,373.00 162.62,373.40 169.84,373.80 176.54,374.08 183.86,374.36 191.38,374.63 199.41,374.91 207.74,375.19 216.28,375.47 225.02,375.74 234.06,376.02 242.90,376.30" fill="none" stroke="#008080" stroke-width="1.05" stroke-linejoin="round"/>
<path d="M39.90 287.50L44.30 287.50L42.10 291.50Z" fill="#008080"/><path d="M42.64 319.90L47.04 319.90L44.84 323.90Z" fill="#008080"/><path d="M45.18 337.10L49.58 337.10L47.38 341.10Z" fill="#008080"/><path d="M47.93 359.70L52.33 359.70L50.13 363.70Z" fill="#008080"/><path d="M50.77 357.10L55.17 357.10L52.97 361.10Z" fill="#008080"/><path d="M53.72 360.30L58.12 360.30L55.92 364.30Z" fill="#008080"/><path d="M56.87 350.80L61.27 350.80L59.07 354.80Z" fill="#008080"/><path d="M60.22 345.00L64.62 345.00L62.42 349.00Z" fill="#008080"/><path d="M63.68 343.10L68.08 343.10L65.88 347.10Z" fill="#008080"/><path d="M66.93 339.30L71.33 339.30L69.13 343.30Z" fill="#008080"/><path d="M70.49 294.50L74.89 294.50L72.69 298.50Z" fill="#008080"/><path d="M74.04 265.10L78.44 265.10L76.24 269.10Z" fill="#008080"/><path d="M77.91 250.80L82.31 250.80L80.11 254.80Z" fill="#008080"/><path d="M81.87 273.50L86.27 273.50L84.07 277.50Z" fill="#008080"/><path d="M85.93 287.70L90.33 287.70L88.13 291.70Z" fill="#008080"/><path d="M90.20 294.50L94.60 294.50L92.40 298.50Z" fill="#008080"/><path d="M94.37 310.10L98.77 310.10L96.57 314.10Z" fill="#008080"/><path d="M98.64 321.10L103.04 321.10L100.84 325.10Z" fill="#008080"/><path d="M103.51 329.10L107.91 329.10L105.71 333.10Z" fill="#008080"/><path d="M108.29 341.60L112.69 341.60L110.49 345.60Z" fill="#008080"/><path d="M113.37 358.40L117.77 358.40L115.57 362.40Z" fill="#008080"/><path d="M118.45 369.10L122.85 369.10L120.65 373.10Z" fill="#008080"/><path d="M124.04 369.50L128.44 369.50L126.24 373.50Z" fill="#008080"/><path d="M129.53 370.00L133.93 370.00L131.73 374.00Z" fill="#008080"/><path d="M135.32 370.40L139.72 370.40L137.52 374.40Z" fill="#008080"/><path d="M141.32 370.90L145.72 370.90L143.52 374.90Z" fill="#008080"/><path d="M147.52 371.10L151.92 371.10L149.72 375.10Z" fill="#008080"/><path d="M153.82 371.40L158.22 371.40L156.02 375.40Z" fill="#008080"/><path d="M160.42 371.80L164.82 371.80L162.62 375.80Z" fill="#008080"/><path d="M167.64 372.20L172.04 372.20L169.84 376.20Z" fill="#008080"/><path d="M174.34 372.48L178.74 372.48L176.54 376.48Z" fill="#008080"/><path d="M181.66 372.76L186.06 372.76L183.86 376.76Z" fill="#008080"/><path d="M189.18 373.03L193.58 373.03L191.38 377.03Z" fill="#008080"/><path d="M197.21 373.31L201.61 373.31L199.41 377.31Z" fill="#008080"/><path d="M205.54 373.59L209.94 373.59L207.74 377.59Z" fill="#008080"/><path d="M214.08 373.87L218.48 373.87L216.28 377.87Z" fill="#008080"/><path d="M222.82 374.14L227.22 374.14L225.02 378.14Z" fill="#008080"/><path d="M231.86 374.42L236.26 374.42L234.06 378.42Z" fill="#008080"/><path d="M240.70 374.70L245.10 374.70L242.90 378.70Z" fill="#008080"/>
</g>
<g stroke="#1a1a1a" stroke-width="1" fill="none">
<path d="M42.10 228.10V378.70"/>
<path d="M41.60 378.20H243.20"/>
<path d="M38.90 378.00H42.10"/>
<path d="M40.20 365.53H42.10"/>
<path d="M38.90 353.07H42.10"/>
<path d="M40.20 340.61H42.10"/>
<path d="M38.90 328.14H42.10"/>
<path d="M40.20 315.68H42.10"/>
<path d="M38.90 303.21H42.10"/>
<path d="M40.20 290.75H42.10"/>
<path d="M38.90 278.28H42.10"/>
<path d="M40.20 265.81H42.10"/>
<path d="M38.90 253.35H42.10"/>
<path d="M40.20 240.88H42.10"/>
<path d="M38.90 228.42H42.10"/>
<path d="M42.10 378.20V380.80"/>
<path d="M62.18 378.20V379.80"/>
<path d="M82.26 378.20V380.80"/>
<path d="M102.34 378.20V379.80"/>
<path d="M122.42 378.20V380.80"/>
<path d="M142.50 378.20V379.80"/>
<path d="M162.58 378.20V380.80"/>
<path d="M182.66 378.20V379.80"/>
<path d="M202.74 378.20V380.80"/>
<path d="M222.82 378.20V379.80"/>
<path d="M242.90 378.20V380.80"/>
</g>
<g font-family='"Liberation Sans", Arial, sans-serif' font-size="7.6" fill="#0a0a0a">
<text x="42.10" y="388.40" text-anchor="middle">0.0</text>
<text x="82.26" y="388.40" text-anchor="middle">0.3</text>
<text x="122.42" y="388.40" text-anchor="middle">0.6</text>
<text x="162.58" y="388.40" text-anchor="middle">0.9</text>
<text x="202.74" y="388.40" text-anchor="middle">1.2</text>
<text x="242.90" y="388.40" text-anchor="middle">1.5</text>
<text x="37.40" y="380.75" text-anchor="end">0.00</text>
<text x="37.40" y="355.82" text-anchor="end">0.05</text>
<text x="37.40" y="330.89" text-anchor="end">0.10</text>
<text x="37.40" y="305.96" text-anchor="end">0.15</text>
<text x="37.40" y="281.03" text-anchor="end">0.20</text>
<text x="37.40" y="256.10" text-anchor="end">0.25</text>
<text x="37.40" y="231.17" text-anchor="end">0.30</text>
<text x="142.50" y="402.20" text-anchor="middle">distance (m)</text>
<text transform="translate(17.50 309.50) rotate(-90)" text-anchor="middle">equivalent plastic strain (%)</text>
<path d="M188 242.2H204.3" stroke="#000000" stroke-width="1.05"/>
<rect x="194.54" y="240.54" width="3.32" height="3.32" fill="#000000"/>
<text x="206.3" y="244.90" font-size="7.95">t=0.675 s</text>
<path d="M188 251.6H204.3" stroke="#ff0000" stroke-width="1.05"/>
<circle cx="196.20" cy="251.60" r="1.85" fill="#ff0000"/>
<text x="206.3" y="254.30" font-size="7.95">t=5.126 s</text>
<path d="M188 260.9H204.3" stroke="#0000ff" stroke-width="1.05"/>
<path d="M194.11 262.42L198.29 262.42L196.20 258.62Z" fill="#0000ff"/>
<text x="206.3" y="263.60" font-size="7.95">t=667.2 s</text>
<path d="M188 270.9H204.3" stroke="#008080" stroke-width="1.05"/>
<path d="M194.11 269.38L198.29 269.38L196.20 273.18Z" fill="#008080"/>
<text x="206.3" y="273.60" font-size="7.95">t=2210 s</text>
</g>
<clipPath id="cm"><rect x="288.5" y="223.7" width="253.20000000000005" height="180.5"/></clipPath>
<rect x="288.5" y="223.7" width="253.20000000000005" height="180.5" fill="#07df14"/>
<defs><radialGradient id="rg" gradientUnits="userSpaceOnUse" cx="413.6" cy="344.8" r="40"><stop offset="0" stop-color="#999"/><stop offset="0.3" stop-color="#999"/><stop offset="0.6" stop-color="#ddd"/><stop offset="1" stop-color="#fff"/></radialGradient><mask id="mk" maskUnits="userSpaceOnUse" x="280" y="215" width="270" height="200"><rect x="280" y="215" width="270" height="200" fill="url(#rg)"/></mask></defs>
<defs><radialGradient id="rg2" gradientUnits="userSpaceOnUse" cx="413.6" cy="344.8" r="110"><stop offset="0" stop-color="#fff"/><stop offset="0.35" stop-color="#fff"/><stop offset="0.7" stop-color="#777"/><stop offset="1" stop-color="#6a6a6a"/></radialGradient><mask id="mk2" maskUnits="userSpaceOnUse" x="280" y="215" width="270" height="200"><rect x="280" y="215" width="270" height="200" fill="url(#rg2)"/></mask></defs>
<defs><radialGradient id="halo" gradientUnits="userSpaceOnUse" cx="413.6" cy="344.8" r="58"><stop offset="0" stop-color="#126a24" stop-opacity="0.55"/><stop offset="0.28" stop-color="#126a24" stop-opacity="0.5"/><stop offset="0.48" stop-color="#127024" stop-opacity="0.27"/><stop offset="0.75" stop-color="#127024" stop-opacity="0.09"/><stop offset="1" stop-color="#127024" stop-opacity="0"/></radialGradient></defs>
<g clip-path="url(#cm)">
<circle cx="413.6" cy="344.8" r="58" fill="url(#halo)"/>
<g mask="url(#mk)">
<path d="M407.0 338.4L401.4 333.0L261.9 198.1M407.4 338.0L402.2 332.2L273.9 198.2M407.9 337.6L403.0 331.5L285.9 198.4M408.3 337.3L403.9 330.9L297.9 198.6M408.8 336.9L404.8 330.3L309.9 198.7M409.4 336.6L405.8 329.7L321.9 198.8M409.9 336.4L406.7 329.2L333.8 198.9M410.4 336.2L407.8 328.8L345.8 199.0M411.0 336.0L408.8 328.5L357.7 199.1M411.6 335.8L409.9 328.2L369.7 199.2M412.2 335.7L410.9 328.0L381.6 199.2M412.7 335.6L412.0 327.9L393.6 199.3M413.3 335.6L413.1 327.8L405.5 199.3M413.9 335.6L414.2 327.8L417.4 199.3M414.5 335.6L415.3 327.9L429.4 199.3M415.1 335.7L416.4 328.0L441.3 199.2M415.7 335.8L417.5 328.2L453.3 199.2M416.3 336.0L418.5 328.5L465.2 199.1M416.8 336.2L419.6 328.9L477.2 199.0M417.4 336.4L420.6 329.3L489.1 198.9M417.9 336.7L421.6 329.8L501.1 198.8M418.4 337.0L422.5 330.3L513.1 198.7M418.9 337.3L423.4 330.9L525.0 198.6M419.4 337.7L424.3 331.6L537.0 198.4M406.1 337.5L406.5 337.0L407.1 336.6L407.6 336.2L408.2 335.8L408.8 335.5L409.4 335.2L410.0 334.9L410.6 334.7L411.3 334.6L412.0 334.4L412.6 334.4L413.3 334.3L414.0 334.3L414.7 334.4L415.3 334.5L416.0 334.6L416.6 334.8L417.3 335.0L417.9 335.2L418.5 335.5L419.1 335.9L419.7 336.2L420.2 336.7L420.7 337.1M405.0 336.5L405.6 335.9L406.1 335.4L406.8 335.0L407.4 334.6L408.1 334.2L408.8 333.9L409.5 333.6L410.2 333.3L411.0 333.1L411.7 333.0L412.5 332.9L413.3 332.8L414.0 332.8L414.8 332.9L415.6 333.0L416.3 333.2L417.1 333.4L417.8 333.6L418.5 333.9L419.2 334.2L419.9 334.6L420.5 335.0L421.1 335.5L421.7 336.0M403.8 335.3L404.4 334.7L405.1 334.1L405.8 333.6L406.5 333.1L407.3 332.7L408.1 332.3L408.9 332.0L409.8 331.7L410.6 331.5L411.5 331.3L412.3 331.2L413.2 331.2L414.1 331.2L415.0 331.2L415.8 331.4L416.7 331.5L417.6 331.8L418.4 332.0L419.2 332.4L420.0 332.8L420.8 333.2L421.5 333.7L422.2 334.2L422.9 334.8M402.4 334.0L403.2 333.3L403.9 332.7L404.7 332.1L405.6 331.5L406.4 331.0L407.3 330.6L408.3 330.2L409.2 329.9L410.2 329.7L411.2 329.5L412.2 329.3L413.2 329.3L414.2 329.3L415.2 329.4L416.2 329.5L417.1 329.7L418.1 329.9L419.1 330.3L420.0 330.6L420.9 331.1L421.7 331.6L422.6 332.1L423.4 332.7L424.1 333.4M400.7 332.3L401.5 331.5L402.4 330.8L403.3 330.2L404.3 329.6L405.3 329.1L406.4 328.6L407.4 328.2L408.5 327.8L409.7 327.6L410.8 327.4L411.9 327.2L413.1 327.2L414.2 327.2L415.4 327.2L416.5 327.4L417.7 327.6L418.8 327.9L419.9 328.2L420.9 328.6L422.0 329.1L423.0 329.7L424.0 330.3L424.9 330.9L425.8 331.6M398.1 329.8L399.2 329.1L400.3 328.4L401.4 327.8L402.6 327.2L403.8 326.7L405.0 326.2L406.3 325.8L407.6 325.5L408.9 325.2L410.3 325.0L411.6 324.9L412.9 324.8L414.3 324.8L415.6 324.9L417.0 325.0L418.3 325.2L419.6 325.5L420.9 325.9L422.2 326.3L423.4 326.7L424.6 327.3L425.8 327.8L426.9 328.5L428.0 329.2M395.3 327.1L396.5 326.3L397.9 325.7L399.2 325.0L400.6 324.5L402.1 324.0L403.5 323.5L405.0 323.1L406.6 322.8L408.1 322.6L409.7 322.4L411.2 322.2L412.8 322.2L414.4 322.2L415.9 322.2L417.5 322.4L419.0 322.6L420.6 322.9L422.1 323.2L423.6 323.6L425.1 324.0L426.5 324.6L427.9 325.1L429.3 325.8L430.6 326.4M392.0 323.9L393.6 323.2L395.2 322.6L396.8 322.0L398.4 321.4L400.1 320.9L401.9 320.5L403.6 320.1L405.4 319.8L407.2 319.6L409.0 319.4L410.8 319.3L412.6 319.2L414.4 319.2L416.3 319.3L418.1 319.4L419.9 319.6L421.7 319.9L423.4 320.2L425.2 320.6L426.9 321.0L428.6 321.5L430.2 322.1L431.9 322.7L433.4 323.3M388.4 320.4L390.2 319.8L392.1 319.1L394.0 318.6L396.0 318.0L398.0 317.5L400.0 317.1L402.0 316.8L404.1 316.5L406.1 316.2L408.2 316.0L410.3 315.9L412.4 315.9L414.5 315.9L416.6 315.9L418.7 316.1L420.8 316.2L422.9 316.5L424.9 316.8L427.0 317.2L429.0 317.6L430.9 318.1L432.9 318.6L434.8 319.2L436.7 319.8M384.4 316.5L386.5 315.9L388.7 315.3L391.0 314.7L393.2 314.2L395.5 313.8L397.8 313.3L400.2 313.0L402.6 312.7L405.0 312.5L407.4 312.3L409.8 312.2L412.2 312.1L414.6 312.1L417.0 312.2L419.4 312.3L421.8 312.5L424.2 312.7L426.6 313.0L428.9 313.4L431.3 313.8L433.6 314.3L435.8 314.8L438.1 315.3L440.3 316.0M379.9 312.2L382.4 311.6L384.9 311.0L387.5 310.5L390.2 310.0L392.8 309.5L395.5 309.2L398.2 308.8L400.9 308.5L403.7 308.3L406.4 308.2L409.2 308.0L411.9 308.0L414.7 308.0L417.5 308.1L420.2 308.2L423.0 308.3L425.7 308.6L428.5 308.9L431.2 309.2L433.8 309.6L436.5 310.0L439.1 310.5L441.7 311.1L444.2 311.6M374.9 307.4L377.8 306.8L380.8 306.3L383.8 305.8L386.8 305.3L389.8 304.9L392.9 304.5L396.0 304.2L399.1 303.9L402.2 303.7L405.4 303.6L408.5 303.5L411.7 303.4L414.8 303.4L418.0 303.5L421.1 303.6L424.3 303.8L427.4 304.0L430.5 304.2L433.6 304.6L436.7 304.9L439.7 305.4L442.7 305.8L445.7 306.3L448.6 306.9M369.5 302.1L372.8 301.6L376.2 301.1L379.6 300.6L383.1 300.2L386.6 299.8L390.1 299.4L393.6 299.2L397.1 298.9L400.7 298.7L404.2 298.6L407.8 298.5L411.4 298.4L415.0 298.4L418.5 298.5L422.1 298.6L425.7 298.7L429.2 298.9L432.7 299.2L436.3 299.5L439.8 299.8L443.2 300.2L446.7 300.7L450.1 301.1L453.5 301.6M363.6 296.4L367.4 295.9L371.3 295.4L375.2 295.0L379.1 294.6L383.0 294.2L387.0 293.9L391.0 293.6L395.0 293.4L399.0 293.2L403.0 293.1L407.0 293.0L411.1 293.0L415.1 293.0L419.1 293.0L423.2 293.1L427.2 293.3L431.2 293.4L435.2 293.7L439.2 294.0L443.1 294.3L447.1 294.6L451.0 295.0L454.9 295.5L458.7 296.0M357.2 290.2L361.5 289.8L365.9 289.3L370.3 288.9L374.7 288.6L379.2 288.3L383.6 288.0L388.1 287.7L392.6 287.5L397.1 287.3L401.7 287.2L406.2 287.1L410.7 287.1L415.2 287.1L419.8 287.1L424.3 287.2L428.8 287.4L433.3 287.5L437.8 287.7L442.3 288.0L446.8 288.3L451.2 288.6L455.6 289.0L460.0 289.4L464.4 289.8M350.4 283.6L355.3 283.2L360.2 282.8L365.1 282.5L370.1 282.2L375.1 281.9L380.1 281.6L385.1 281.4L390.1 281.2L395.2 281.0L400.2 280.9L405.3 280.8L410.3 280.8L415.4 280.8L420.5 280.9L425.5 280.9L430.6 281.1L435.6 281.2L440.6 281.4L445.6 281.6L450.6 281.9L455.6 282.2L460.6 282.5L465.5 282.9L470.4 283.3M343.1 276.7L348.6 276.3L354.1 275.9L359.6 275.6L365.2 275.3L370.7 275.1L376.3 274.8L381.9 274.6L387.5 274.5L393.1 274.3L398.7 274.2L404.3 274.2L409.9 274.1L415.6 274.2L421.2 274.2L426.8 274.3L432.4 274.4L438.0 274.5L443.6 274.7L449.2 274.9L454.8 275.1L460.3 275.4L465.9 275.7L471.4 276.0L476.9 276.3M335.6 269.3L341.6 269.0L347.7 268.7L353.9 268.4L360.0 268.2L366.2 267.9L372.3 267.7L378.5 267.6L384.7 267.4L390.9 267.3L397.1 267.2L403.3 267.2L409.5 267.1L415.7 267.2L422.0 267.2L428.2 267.2L434.4 267.3L440.6 267.5L446.8 267.6L452.9 267.8L459.1 268.0L465.3 268.2L471.4 268.5L477.5 268.7L483.6 269.0M327.6 261.6L334.4 261.4L341.1 261.1L347.8 260.9L354.6 260.7L361.4 260.5L368.2 260.3L375.0 260.2L381.8 260.1L388.6 260.0L395.4 259.9L402.3 259.9L409.1 259.8L415.9 259.8L422.8 259.9L429.6 259.9L436.4 260.0L443.2 260.1L450.0 260.2L456.8 260.4L463.6 260.5L470.4 260.7L477.2 260.9L483.9 261.2L490.7 261.4M319.4 253.7L326.8 253.5L334.2 253.3L341.6 253.1L349.0 253.0L356.5 252.8L363.9 252.7L371.3 252.6L378.8 252.5L386.3 252.4L393.7 252.3L401.2 252.3L408.6 252.3L416.1 252.3L423.6 252.3L431.0 252.4L438.5 252.4L446.0 252.5L453.4 252.6L460.9 252.7L468.3 252.8L475.7 253.0L483.1 253.1L490.5 253.3L497.9 253.5M311.0 245.5L319.0 245.4L327.1 245.3L335.2 245.1L343.3 245.0L351.4 244.9L359.5 244.8L367.6 244.7L375.7 244.6L383.8 244.6L391.9 244.6L400.1 244.5L408.2 244.5L416.3 244.5L424.4 244.5L432.6 244.6L440.7 244.6L448.8 244.7L456.9 244.7L465.0 244.8L473.1 244.9L481.2 245.0L489.3 245.1L497.4 245.3L505.4 245.4M302.3 237.2L311.1 237.1L319.9 237.0L328.6 236.9L337.4 236.9L346.2 236.8L355.0 236.7L363.8 236.7L372.5 236.6L381.3 236.6L390.1 236.6L398.9 236.6L407.7 236.6L416.5 236.6L425.3 236.6L434.1 236.6L442.9 236.6L451.7 236.6L460.5 236.7L469.2 236.7L478.0 236.8L486.8 236.9L495.6 236.9L504.3 237.0L513.1 237.1M293.6 228.7L303.0 228.6L312.5 228.6L322.0 228.6L331.4 228.6L340.9 228.5L350.4 228.5L359.8 228.5L369.3 228.5L378.8 228.5L388.3 228.5L397.8 228.4L407.2 228.4L416.7 228.4L426.2 228.5L435.7 228.5L445.1 228.5L454.6 228.5L464.1 228.5L473.6 228.5L483.0 228.5L492.5 228.6L502.0 228.6L511.5 228.6L520.9 228.7M284.6 220.0L294.8 220.1L305.0 220.1L315.2 220.1L325.3 220.1L335.5 220.2L345.7 220.2L355.9 220.2L366.1 220.2L376.2 220.2L386.4 220.2L396.6 220.2L406.7 220.2L416.9 220.2L427.1 220.2L437.3 220.2L447.4 220.2L457.6 220.2L467.8 220.2L478.0 220.2L488.1 220.2L498.3 220.1L508.5 220.1L518.7 220.1L528.9 220.1M275.6 211.3L286.5 211.4L297.4 211.5L308.3 211.6L319.2 211.6L330.1 211.7L341.0 211.7L351.9 211.8L362.7 211.8L373.6 211.9L384.5 211.9L395.4 211.9L406.3 211.9L417.1 211.9L428.0 211.9L438.9 211.9L449.8 211.9L460.6 211.8L471.5 211.8L482.4 211.7L493.3 211.7L504.2 211.6L515.1 211.5L526.0 211.5L536.9 211.4M266.5 202.5L278.1 202.6L289.8 202.8L301.4 202.9L313.0 203.0L324.6 203.1L336.2 203.2L347.8 203.3L359.4 203.4L371.0 203.4L382.6 203.5L394.2 203.5L405.8 203.5L417.3 203.5L428.9 203.5L440.5 203.5L452.1 203.4L463.7 203.4L475.3 203.3L486.9 203.2L498.5 203.1L510.1 203.0L521.7 202.9L533.3 202.8L545.0 202.6M420.3 337.6L420.5 337.8L420.8 338.1L421.0 338.3L421.2 338.6L421.4 338.9L421.6 339.1L421.8 339.4L422.0 339.7L422.2 340.0L422.4 340.3L422.5 340.6L422.6 341.0L422.8 341.3L422.9 341.6L423.0 341.9L423.1 342.3L423.2 342.6L423.2 342.9L423.3 343.3L423.4 343.6L423.4 344.0L423.4 344.3L423.4 344.7L423.4 345.0L423.4 345.4L423.4 345.7L423.3 346.1L423.3 346.4L423.2 346.7L423.2 347.1L423.1 347.4L423.0 347.7L422.9 348.1L422.7 348.4L422.6 348.7L422.5 349.0L422.3 349.3L422.1 349.6L422.0 349.9L421.8 350.2L421.6 350.5L421.4 350.8L421.2 351.1L420.9 351.3L420.7 351.6L420.5 351.8M420.7 337.1L421.0 337.4L421.2 337.6L421.5 337.9L421.7 338.2L422.0 338.5L422.2 338.8L422.4 339.1L422.6 339.4L422.8 339.7L422.9 340.0L423.1 340.4L423.3 340.7L423.4 341.0L423.5 341.4L423.6 341.7L423.7 342.1L423.8 342.5L423.9 342.8L424.0 343.2L424.0 343.6L424.1 343.9L424.1 344.3L424.1 344.7L424.1 345.0L424.1 345.4L424.0 345.8L424.0 346.1L424.0 346.5L423.9 346.9L423.8 347.2L423.7 347.6L423.6 347.9L423.5 348.3L423.4 348.6L423.2 349.0L423.1 349.3L422.9 349.7L422.7 350.0L422.5 350.3L422.3 350.6L422.1 350.9L421.9 351.2L421.7 351.5L421.4 351.8L421.2 352.0L420.9 352.3M421.2 336.6L421.5 336.8L421.8 337.1L422.0 337.4L422.3 337.7L422.5 338.0L422.8 338.4L423.0 338.7L423.2 339.0L423.4 339.4L423.6 339.7L423.8 340.1L423.9 340.4L424.1 340.8L424.2 341.2L424.3 341.5L424.4 341.9L424.5 342.3L424.6 342.7L424.7 343.1L424.7 343.5L424.8 343.9L424.8 344.3L424.8 344.7L424.8 345.0L424.8 345.4L424.8 345.8L424.7 346.2L424.7 346.6L424.6 347.0L424.5 347.4L424.4 347.8L424.3 348.2L424.2 348.5L424.0 348.9L423.9 349.3L423.7 349.6L423.5 350.0L423.3 350.3L423.1 350.7L422.9 351.0L422.7 351.3L422.5 351.6L422.2 352.0L422.0 352.3L421.7 352.5L421.4 352.8M421.7 336.0L422.0 336.3L422.3 336.6L422.6 336.9L422.9 337.2L423.1 337.6L423.4 337.9L423.6 338.3L423.8 338.6L424.1 339.0L424.3 339.4L424.4 339.7L424.6 340.1L424.8 340.5L424.9 340.9L425.0 341.3L425.2 341.7L425.3 342.1L425.3 342.5L425.4 343.0L425.5 343.4L425.5 343.8L425.5 344.2L425.6 344.6L425.6 345.1L425.5 345.5L425.5 345.9L425.5 346.3L425.4 346.7L425.3 347.2L425.2 347.6L425.1 348.0L425.0 348.4L424.9 348.8L424.7 349.2L424.6 349.6L424.4 350.0L424.2 350.3L424.0 350.7L423.8 351.1L423.6 351.4L423.3 351.8L423.1 352.1L422.8 352.4L422.5 352.8L422.2 353.1L421.9 353.4M422.3 335.4L422.6 335.7L422.9 336.1L423.2 336.4L423.5 336.7L423.8 337.1L424.0 337.5L424.3 337.8L424.5 338.2L424.8 338.6L425.0 339.0L425.2 339.4L425.4 339.8L425.5 340.2L425.7 340.7L425.8 341.1L425.9 341.5L426.0 342.0L426.1 342.4L426.2 342.8L426.3 343.3L426.3 343.7L426.4 344.2L426.4 344.6L426.4 345.1L426.3 345.5L426.3 346.0L426.3 346.4L426.2 346.9L426.1 347.3L426.0 347.8L425.9 348.2L425.8 348.6L425.6 349.1L425.5 349.5L425.3 349.9L425.1 350.3L424.9 350.7L424.7 351.1L424.5 351.5L424.2 351.9L424.0 352.2L423.7 352.6L423.4 353.0L423.1 353.3L422.8 353.6L422.5 353.9M422.9 334.8L423.2 335.1L423.5 335.5L423.9 335.8L424.2 336.2L424.5 336.6L424.7 337.0L425.0 337.4L425.3 337.8L425.5 338.2L425.7 338.6L426.0 339.0L426.1 339.5L426.3 339.9L426.5 340.4L426.6 340.8L426.8 341.3L426.9 341.8L427.0 342.2L427.1 342.7L427.1 343.2L427.2 343.7L427.2 344.1L427.2 344.6L427.2 345.1L427.2 345.6L427.2 346.1L427.1 346.5L427.1 347.0L427.0 347.5L426.9 348.0L426.7 348.4L426.6 348.9L426.5 349.3L426.3 349.8L426.1 350.2L425.9 350.7L425.7 351.1L425.5 351.5L425.2 351.9L425.0 352.3L424.7 352.7L424.4 353.1L424.1 353.5L423.8 353.9L423.5 354.2L423.1 354.6M423.5 334.1L423.8 334.5L424.2 334.8L424.5 335.2L424.9 335.6L425.2 336.0L425.5 336.4L425.8 336.9L426.1 337.3L426.3 337.7L426.6 338.2L426.8 338.6L427.0 339.1L427.2 339.6L427.4 340.1L427.5 340.6L427.7 341.1L427.8 341.6L427.9 342.1L428.0 342.6L428.0 343.1L428.1 343.6L428.1 344.1L428.1 344.6L428.1 345.1L428.1 345.6L428.1 346.1L428.0 346.7L428.0 347.2L427.9 347.7L427.8 348.2L427.6 348.7L427.5 349.2L427.3 349.6L427.1 350.1L426.9 350.6L426.7 351.1L426.5 351.5L426.3 352.0L426.0 352.4L425.7 352.9L425.4 353.3L425.1 353.7L424.8 354.1L424.5 354.5L424.1 354.9L423.8 355.2M424.1 333.4L424.5 333.8L424.9 334.2L425.3 334.6L425.6 335.0L426.0 335.4L426.3 335.9L426.6 336.3L426.9 336.8L427.2 337.3L427.4 337.7L427.7 338.2L427.9 338.7L428.1 339.2L428.3 339.8L428.5 340.3L428.6 340.8L428.7 341.3L428.8 341.9L428.9 342.4L429.0 343.0L429.1 343.5L429.1 344.0L429.1 344.6L429.1 345.1L429.1 345.7L429.1 346.2L429.0 346.8L428.9 347.3L428.8 347.9L428.7 348.4L428.6 348.9L428.4 349.5L428.2 350.0L428.1 350.5L427.8 351.0L427.6 351.5L427.4 352.0L427.1 352.5L426.8 352.9L426.5 353.4L426.2 353.8L425.9 354.3L425.6 354.7L425.2 355.1L424.8 355.5L424.4 355.9M424.8 332.6L425.3 333.0L425.7 333.5L426.1 333.9L426.4 334.3L426.8 334.8L427.2 335.3L427.5 335.7L427.8 336.2L428.1 336.7L428.4 337.3L428.6 337.8L428.9 338.3L429.1 338.9L429.3 339.4L429.5 340.0L429.6 340.5L429.8 341.1L429.9 341.7L430.0 342.3L430.1 342.8L430.1 343.4L430.2 344.0L430.2 344.6L430.2 345.2L430.1 345.7L430.1 346.3L430.0 346.9L429.9 347.5L429.8 348.1L429.7 348.6L429.6 349.2L429.4 349.8L429.2 350.3L429.0 350.9L428.8 351.4L428.6 351.9L428.3 352.5L428.0 353.0L427.7 353.5L427.4 354.0L427.1 354.5L426.7 354.9L426.4 355.4L426.0 355.8L425.6 356.3L425.2 356.7M425.8 331.6L426.2 332.1L426.6 332.5L427.0 333.0L427.4 333.5L427.8 334.0L428.1 334.5L428.5 335.0L428.8 335.6L429.1 336.1L429.3 336.7L429.6 337.2L429.9 337.8L430.1 338.4L430.3 339.0L430.5 339.6L430.6 340.2L430.8 340.8L430.9 341.4L431.0 342.1L431.1 342.7L431.1 343.3L431.2 343.9L431.2 344.6L431.2 345.2L431.2 345.8L431.1 346.4L431.1 347.1L431.0 347.7L430.9 348.3L430.7 348.9L430.6 349.5L430.4 350.1L430.2 350.7L430.0 351.3L429.8 351.9L429.5 352.5L429.3 353.0L429.0 353.6L428.7 354.1L428.4 354.7L428.0 355.2L427.7 355.7L427.3 356.2L426.9 356.7L426.5 357.2L426.1 357.6M426.9 330.4L427.3 330.9L427.7 331.5L428.1 332.0L428.5 332.5L428.8 333.1L429.2 333.6L429.5 334.2L429.8 334.8L430.1 335.4L430.4 336.0L430.7 336.6L430.9 337.2L431.1 337.9L431.3 338.5L431.5 339.2L431.7 339.8L431.8 340.5L431.9 341.2L432.0 341.8L432.1 342.5L432.2 343.2L432.2 343.8L432.2 344.5L432.2 345.2L432.2 345.9L432.2 346.6L432.1 347.2L432.0 347.9L431.9 348.6L431.8 349.2L431.6 349.9L431.5 350.5L431.3 351.2L431.1 351.8L430.8 352.5L430.6 353.1L430.3 353.7L430.1 354.3L429.8 354.9L429.4 355.5L429.1 356.1L428.8 356.6L428.4 357.2L428.0 357.7L427.6 358.2L427.2 358.7M428.0 329.2L428.4 329.7L428.9 330.3L429.2 330.9L429.6 331.5L430.0 332.1L430.3 332.7L430.6 333.3L431.0 334.0L431.3 334.6L431.5 335.3L431.8 336.0L432.0 336.6L432.2 337.3L432.4 338.0L432.6 338.7L432.8 339.4L432.9 340.1L433.0 340.9L433.1 341.6L433.2 342.3L433.3 343.0L433.3 343.8L433.3 344.5L433.3 345.2L433.3 345.9L433.3 346.7L433.2 347.4L433.1 348.1L433.0 348.8L432.9 349.6L432.7 350.3L432.6 351.0L432.4 351.7L432.2 352.4L432.0 353.1L431.7 353.7L431.5 354.4L431.2 355.1L430.9 355.7L430.6 356.4L430.2 357.0L429.9 357.6L429.5 358.2L429.1 358.8L428.8 359.4L428.3 359.9M429.3 327.9L429.7 328.5L430.1 329.1L430.5 329.7L430.8 330.4L431.2 331.0L431.5 331.7L431.9 332.4L432.2 333.1L432.4 333.8L432.7 334.5L433.0 335.2L433.2 336.0L433.4 336.7L433.6 337.5L433.8 338.2L433.9 339.0L434.1 339.8L434.2 340.5L434.3 341.3L434.4 342.1L434.4 342.9L434.5 343.7L434.5 344.5L434.5 345.2L434.5 346.0L434.4 346.8L434.4 347.6L434.3 348.4L434.2 349.1L434.1 349.9L433.9 350.7L433.8 351.4L433.6 352.2L433.4 353.0L433.1 353.7L432.9 354.4L432.7 355.2L432.4 355.9L432.1 356.6L431.8 357.3L431.4 358.0L431.1 358.6L430.7 359.3L430.4 359.9L430.0 360.6L429.6 361.2M430.6 326.4L431.0 327.1L431.4 327.8L431.8 328.5L432.1 329.2L432.5 329.9L432.8 330.7L433.1 331.4L433.4 332.2L433.7 332.9L434.0 333.7L434.2 334.5L434.5 335.3L434.7 336.1L434.9 336.9L435.0 337.7L435.2 338.5L435.3 339.4L435.5 340.2L435.5 341.0L435.6 341.9L435.7 342.7L435.7 343.6L435.7 344.4L435.7 345.3L435.7 346.1L435.7 346.9L435.6 347.8L435.5 348.6L435.4 349.5L435.3 350.3L435.2 351.1L435.0 351.9L434.8 352.8L434.6 353.6L434.4 354.4L434.2 355.2L433.9 356.0L433.6 356.7L433.4 357.5L433.1 358.2L432.7 359.0L432.4 359.7L432.0 360.4L431.7 361.2L431.3 361.9L430.9 362.5M432.0 324.9L432.4 325.7L432.8 326.4L433.1 327.2L433.5 327.9L433.8 328.7L434.2 329.5L434.5 330.3L434.8 331.2L435.1 332.0L435.3 332.8L435.6 333.7L435.8 334.6L436.0 335.4L436.2 336.3L436.4 337.2L436.5 338.1L436.7 339.0L436.8 339.9L436.9 340.8L436.9 341.7L437.0 342.6L437.0 343.5L437.1 344.4L437.1 345.3L437.0 346.2L437.0 347.1L436.9 348.0L436.8 348.9L436.7 349.8L436.6 350.7L436.5 351.6L436.3 352.5L436.2 353.4L436.0 354.2L435.7 355.1L435.5 355.9L435.3 356.8L435.0 357.6L434.7 358.5L434.4 359.3L434.1 360.1L433.8 360.9L433.4 361.7L433.0 362.4L432.7 363.2L432.3 364.0M433.4 323.3L433.8 324.1L434.2 325.0L434.6 325.8L434.9 326.6L435.3 327.5L435.6 328.4L435.9 329.2L436.2 330.1L436.5 331.0L436.7 331.9L437.0 332.9L437.2 333.8L437.4 334.7L437.6 335.7L437.8 336.6L437.9 337.6L438.1 338.5L438.2 339.5L438.3 340.4L438.3 341.4L438.4 342.4L438.4 343.4L438.5 344.3L438.4 345.3L438.4 346.3L438.4 347.3L438.3 348.2L438.2 349.2L438.1 350.2L438.0 351.1L437.9 352.1L437.7 353.0L437.6 354.0L437.4 354.9L437.2 355.8L436.9 356.8L436.7 357.7L436.4 358.6L436.1 359.5L435.8 360.4L435.5 361.3L435.2 362.1L434.9 363.0L434.5 363.8L434.1 364.6L433.7 365.5M435.0 321.6L435.4 322.5L435.8 323.4L436.1 324.3L436.5 325.2L436.8 326.2L437.1 327.1L437.4 328.0L437.7 329.0L438.0 330.0L438.3 331.0L438.5 332.0L438.7 333.0L438.9 334.0L439.1 335.0L439.3 336.0L439.4 337.0L439.5 338.0L439.7 339.1L439.7 340.1L439.8 341.2L439.9 342.2L439.9 343.2L439.9 344.3L439.9 345.3L439.9 346.4L439.9 347.4L439.8 348.5L439.7 349.5L439.6 350.5L439.5 351.6L439.4 352.6L439.2 353.6L439.1 354.6L438.9 355.6L438.7 356.7L438.4 357.6L438.2 358.6L437.9 359.6L437.7 360.6L437.4 361.5L437.1 362.5L436.7 363.4L436.4 364.4L436.0 365.3L435.7 366.2L435.3 367.1M436.7 319.8L437.0 320.8L437.4 321.8L437.8 322.8L438.1 323.7L438.4 324.8L438.8 325.8L439.1 326.8L439.3 327.8L439.6 328.9L439.8 329.9L440.1 331.0L440.3 332.1L440.5 333.2L440.7 334.3L440.8 335.3L441.0 336.4L441.1 337.5L441.2 338.7L441.3 339.8L441.4 340.9L441.4 342.0L441.5 343.1L441.5 344.2L441.5 345.4L441.5 346.5L441.4 347.6L441.4 348.7L441.3 349.8L441.2 350.9L441.1 352.0L441.0 353.1L440.8 354.2L440.6 355.3L440.5 356.4L440.2 357.5L440.0 358.6L439.8 359.6L439.5 360.7L439.3 361.7L439.0 362.8L438.7 363.8L438.4 364.8L438.0 365.8L437.7 366.8L437.3 367.8L437.0 368.8M438.4 318.0L438.8 319.0L439.1 320.0L439.5 321.1L439.8 322.2L440.2 323.3L440.5 324.4L440.8 325.5L441.0 326.6L441.3 327.7L441.5 328.9L441.8 330.0L442.0 331.2L442.2 332.3L442.3 333.5L442.5 334.7L442.7 335.8L442.8 337.0L442.9 338.2L443.0 339.4L443.0 340.6L443.1 341.8L443.1 343.0L443.1 344.2L443.1 345.4L443.1 346.6L443.1 347.8L443.0 349.0L443.0 350.2L442.9 351.4L442.7 352.5L442.6 353.7L442.5 354.9L442.3 356.1L442.1 357.2L441.9 358.4L441.7 359.6L441.5 360.7L441.2 361.8L441.0 363.0L440.7 364.1L440.4 365.2L440.1 366.3L439.8 367.4L439.4 368.4L439.1 369.5L438.7 370.5M440.3 316.0L440.6 317.1L441.0 318.2L441.3 319.4L441.6 320.5L442.0 321.7L442.3 322.9L442.5 324.1L442.8 325.3L443.1 326.5L443.3 327.7L443.5 329.0L443.7 330.2L443.9 331.4L444.1 332.7L444.3 333.9L444.4 335.2L444.5 336.5L444.6 337.7L444.7 339.0L444.8 340.3L444.8 341.6L444.9 342.9L444.9 344.1L444.9 345.4L444.9 346.7L444.8 348.0L444.8 349.3L444.7 350.5L444.6 351.8L444.5 353.1L444.4 354.3L444.2 355.6L444.1 356.9L443.9 358.1L443.7 359.3L443.5 360.6L443.3 361.8L443.0 363.0L442.8 364.2L442.5 365.4L442.2 366.6L441.9 367.8L441.6 369.0L441.2 370.1L440.9 371.3L440.5 372.4M442.2 313.9L442.6 315.1L442.9 316.3L443.2 317.5L443.6 318.8L443.9 320.1L444.2 321.3L444.4 322.6L444.7 323.9L445.0 325.2L445.2 326.5L445.4 327.8L445.6 329.2L445.8 330.5L446.0 331.8L446.1 333.2L446.3 334.5L446.4 335.9L446.5 337.2L446.6 338.6L446.6 340.0L446.7 341.3L446.7 342.7L446.7 344.1L446.7 345.4L446.7 346.8L446.7 348.2L446.6 349.5L446.5 350.9L446.5 352.3L446.3 353.6L446.2 355.0L446.1 356.3L445.9 357.7L445.8 359.0L445.6 360.3L445.4 361.7L445.1 363.0L444.9 364.3L444.6 365.6L444.4 366.9L444.1 368.2L443.8 369.4L443.5 370.7L443.2 372.0L442.8 373.2L442.5 374.4M444.2 311.6L444.6 313.0L444.9 314.3L445.3 315.6L445.6 317.0L445.9 318.3L446.2 319.7L446.4 321.1L446.7 322.5L446.9 323.8L447.2 325.3L447.4 326.7L447.6 328.1L447.8 329.5L447.9 330.9L448.1 332.4L448.2 333.8L448.3 335.3L448.4 336.7L448.5 338.2L448.6 339.6L448.6 341.1L448.6 342.6L448.7 344.0L448.7 345.5L448.6 346.9L448.6 348.4L448.6 349.9L448.5 351.3L448.4 352.8L448.3 354.2L448.2 355.7L448.0 357.1L447.9 358.5L447.7 360.0L447.5 361.4L447.3 362.8L447.1 364.2L446.9 365.6L446.6 367.0L446.4 368.4L446.1 369.8L445.8 371.2L445.5 372.5L445.2 373.9L444.8 375.2L444.5 376.5M446.4 309.3L446.7 310.7L447.1 312.2L447.4 313.6L447.7 315.0L448.0 316.5L448.3 318.0L448.5 319.4L448.8 320.9L449.0 322.4L449.2 323.9L449.4 325.4L449.6 327.0L449.8 328.5L450.0 330.0L450.1 331.5L450.2 333.1L450.4 334.6L450.5 336.2L450.5 337.7L450.6 339.3L450.6 340.8L450.7 342.4L450.7 344.0L450.7 345.5L450.7 347.1L450.6 348.6L450.6 350.2L450.5 351.7L450.4 353.3L450.3 354.8L450.2 356.4L450.1 357.9L449.9 359.5L449.8 361.0L449.6 362.5L449.4 364.0L449.2 365.5L449.0 367.0L448.7 368.5L448.5 370.0L448.2 371.5L447.9 373.0L447.6 374.4L447.3 375.9L447.0 377.3L446.7 378.7M448.6 306.9L449.0 308.4L449.3 309.9L449.6 311.5L449.9 313.0L450.2 314.6L450.5 316.2L450.7 317.7L451.0 319.3L451.2 320.9L451.4 322.5L451.6 324.1L451.8 325.8L452.0 327.4L452.1 329.0L452.3 330.7L452.4 332.3L452.5 333.9L452.6 335.6L452.7 337.3L452.7 338.9L452.8 340.6L452.8 342.2L452.8 343.9L452.8 345.5L452.8 347.2L452.8 348.9L452.7 350.5L452.7 352.2L452.6 353.8L452.5 355.5L452.4 357.1L452.2 358.8L452.1 360.4L451.9 362.0L451.7 363.7L451.6 365.3L451.4 366.9L451.1 368.5L450.9 370.1L450.7 371.7L450.4 373.3L450.1 374.8L449.8 376.4L449.5 377.9L449.2 379.5L448.9 381.0M451.0 304.3L451.3 305.9L451.6 307.6L451.9 309.2L452.2 310.9L452.5 312.6L452.8 314.3L453.0 315.9L453.2 317.6L453.5 319.4L453.7 321.1L453.9 322.8L454.1 324.5L454.2 326.3L454.4 328.0L454.5 329.7L454.6 331.5L454.7 333.2L454.8 335.0L454.9 336.8L455.0 338.5L455.0 340.3L455.0 342.1L455.1 343.8L455.1 345.6L455.0 347.4L455.0 349.1L455.0 350.9L454.9 352.6L454.8 354.4L454.7 356.2L454.6 357.9L454.5 359.7L454.3 361.4L454.2 363.1L454.0 364.9L453.8 366.6L453.6 368.3L453.4 370.0L453.2 371.7L453.0 373.4L452.7 375.1L452.4 376.8L452.2 378.5L451.9 380.1L451.6 381.8L451.3 383.4M453.5 301.6L453.8 303.4L454.1 305.1L454.4 306.9L454.7 308.7L454.9 310.5L455.2 312.3L455.4 314.1L455.6 315.9L455.9 317.7L456.1 319.5L456.2 321.4L456.4 323.2L456.6 325.1L456.7 326.9L456.9 328.8L457.0 330.6L457.1 332.5L457.2 334.4L457.2 336.2L457.3 338.1L457.4 340.0L457.4 341.9L457.4 343.7L457.4 345.6L457.4 347.5L457.3 349.4L457.3 351.3L457.2 353.1L457.2 355.0L457.1 356.9L457.0 358.7L456.8 360.6L456.7 362.5L456.5 364.3L456.4 366.1L456.2 368.0L456.0 369.8L455.8 371.6L455.6 373.5L455.4 375.3L455.1 377.1L454.9 378.9L454.6 380.7L454.3 382.4L454.0 384.2L453.7 385.9M456.0 298.9L456.3 300.7L456.6 302.6L456.9 304.5L457.2 306.4L457.4 308.3L457.7 310.2L457.9 312.1L458.1 314.1L458.3 316.0L458.5 317.9L458.7 319.9L458.9 321.9L459.0 323.8L459.2 325.8L459.3 327.8L459.4 329.7L459.5 331.7L459.6 333.7L459.7 335.7L459.7 337.7L459.8 339.7L459.8 341.7L459.8 343.7L459.8 345.7L459.8 347.7L459.8 349.7L459.7 351.6L459.7 353.6L459.6 355.6L459.5 357.6L459.4 359.6L459.3 361.6L459.2 363.5L459.0 365.5L458.9 367.5L458.7 369.4L458.5 371.4L458.3 373.3L458.1 375.3L457.9 377.2L457.6 379.1L457.4 381.0L457.1 382.9L456.8 384.8L456.6 386.7L456.3 388.6M458.7 296.0L459.0 298.0L459.3 300.0L459.6 302.0L459.8 304.0L460.1 306.0L460.3 308.1L460.5 310.1L460.7 312.2L460.9 314.2L461.1 316.3L461.3 318.4L461.5 320.4L461.6 322.5L461.7 324.6L461.9 326.7L462.0 328.8L462.1 330.9L462.2 333.0L462.2 335.1L462.3 337.3L462.3 339.4L462.3 341.5L462.4 343.6L462.4 345.7L462.3 347.8L462.3 349.9L462.3 352.1L462.2 354.2L462.1 356.3L462.1 358.4L462.0 360.5L461.8 362.6L461.7 364.7L461.6 366.8L461.4 368.8L461.3 370.9L461.1 373.0L460.9 375.1L460.7 377.1L460.5 379.2L460.2 381.2L460.0 383.3L459.8 385.3L459.5 387.3L459.2 389.3L458.9 391.3M461.5 293.0L461.8 295.1L462.0 297.2L462.3 299.4L462.6 301.5L462.8 303.7L463.0 305.8L463.2 308.0L463.4 310.2L463.6 312.4L463.8 314.6L464.0 316.8L464.1 319.0L464.3 321.2L464.4 323.4L464.5 325.6L464.6 327.9L464.7 330.1L464.8 332.3L464.9 334.6L464.9 336.8L465.0 339.0L465.0 341.3L465.0 343.5L465.0 345.8L465.0 348.0L464.9 350.2L464.9 352.5L464.8 354.7L464.8 356.9L464.7 359.2L464.6 361.4L464.5 363.6L464.4 365.9L464.2 368.1L464.1 370.3L463.9 372.5L463.8 374.7L463.6 376.9L463.4 379.1L463.2 381.2L463.0 383.4L462.7 385.6L462.5 387.7L462.2 389.9L462.0 392.0L461.7 394.2M464.4 289.8L464.7 292.1L464.9 294.4L465.2 296.6L465.4 298.9L465.6 301.2L465.8 303.5L466.0 305.8L466.2 308.1L466.4 310.5L466.6 312.8L466.7 315.1L466.9 317.5L467.0 319.8L467.2 322.2L467.3 324.5L467.4 326.9L467.5 329.2L467.5 331.6L467.6 334.0L467.6 336.3L467.7 338.7L467.7 341.1L467.7 343.4L467.7 345.8L467.7 348.2L467.7 350.5L467.6 352.9L467.6 355.3L467.5 357.6L467.4 360.0L467.3 362.4L467.2 364.7L467.1 367.1L467.0 369.4L466.9 371.8L466.7 374.1L466.5 376.4L466.4 378.8L466.2 381.1L466.0 383.4L465.8 385.7L465.6 388.0L465.3 390.3L465.1 392.6L464.8 394.8L464.6 397.1M467.4 286.6L467.6 289.0L467.9 291.4L468.1 293.8L468.3 296.3L468.5 298.7L468.7 301.1L468.9 303.6L469.1 306.0L469.3 308.5L469.5 310.9L469.6 313.4L469.8 315.9L469.9 318.4L470.0 320.9L470.1 323.3L470.2 325.8L470.3 328.3L470.4 330.8L470.4 333.3L470.5 335.8L470.5 338.3L470.5 340.8L470.5 343.3L470.5 345.8L470.5 348.4L470.5 350.9L470.5 353.4L470.4 355.9L470.3 358.4L470.3 360.9L470.2 363.4L470.1 365.8L470.0 368.3L469.9 370.8L469.7 373.3L469.6 375.8L469.4 378.2L469.3 380.7L469.1 383.2L468.9 385.6L468.7 388.1L468.5 390.5L468.3 392.9L468.0 395.3L467.8 397.8L467.6 400.2M470.4 283.3L470.7 285.8L470.9 288.4L471.1 290.9L471.3 293.5L471.5 296.1L471.7 298.7L471.9 301.2L472.1 303.8L472.3 306.4L472.4 309.0L472.6 311.7L472.7 314.3L472.8 316.9L472.9 319.5L473.0 322.1L473.1 324.8L473.2 327.4L473.3 330.0L473.3 332.7L473.4 335.3L473.4 338.0L473.4 340.6L473.4 343.3L473.4 345.9L473.4 348.5L473.4 351.2L473.4 353.8L473.3 356.5L473.3 359.1L473.2 361.7L473.1 364.4L473.0 367.0L472.9 369.6L472.8 372.3L472.7 374.9L472.5 377.5L472.4 380.1L472.2 382.7L472.1 385.3L471.9 387.9L471.7 390.5L471.5 393.1L471.3 395.6L471.1 398.2L470.9 400.8L470.6 403.3M473.6 279.9L473.8 282.5L474.1 285.2L474.3 288.0L474.5 290.7L474.7 293.4L474.8 296.1L475.0 298.8L475.2 301.6L475.3 304.3L475.5 307.1L475.6 309.8L475.7 312.6L475.9 315.4L476.0 318.1L476.1 320.9L476.1 323.7L476.2 326.5L476.3 329.2L476.3 332.0L476.4 334.8L476.4 337.6L476.4 340.4L476.4 343.2L476.4 345.9L476.4 348.7L476.4 351.5L476.4 354.3L476.3 357.1L476.3 359.9L476.2 362.7L476.1 365.4L476.0 368.2L475.9 371.0L475.8 373.7L475.7 376.5L475.6 379.3L475.4 382.0L475.3 384.8L475.1 387.5L475.0 390.3L474.8 393.0L474.6 395.7L474.4 398.4L474.2 401.1L474.0 403.8L473.8 406.5M476.9 276.3L477.1 279.2L477.3 282.0L477.5 284.9L477.7 287.8L477.8 290.6L478.0 293.5L478.2 296.4L478.3 299.3L478.5 302.2L478.6 305.1L478.7 308.0L478.9 310.9L479.0 313.8L479.1 316.7L479.2 319.6L479.2 322.6L479.3 325.5L479.4 328.4L479.4 331.3L479.5 334.3L479.5 337.2L479.5 340.1L479.5 343.1L479.5 346.0L479.5 348.9L479.5 351.9L479.4 354.8L479.4 357.7L479.4 360.7L479.3 363.6L479.2 366.5L479.1 369.4L479.0 372.4L478.9 375.3L478.8 378.2L478.7 381.1L478.6 384.0L478.4 386.9L478.3 389.8L478.1 392.7L478.0 395.6L477.8 398.4L477.6 401.3L477.4 404.2L477.2 407.0L477.0 409.9M480.2 272.7L480.4 275.7L480.6 278.7L480.8 281.7L480.9 284.8L481.1 287.8L481.3 290.8L481.4 293.9L481.6 296.9L481.7 300.0L481.8 303.0L481.9 306.1L482.1 309.1L482.2 312.2L482.3 315.3L482.3 318.3L482.4 321.4L482.5 324.5L482.5 327.6L482.6 330.6L482.6 333.7L482.6 336.8L482.7 339.9L482.7 343.0L482.7 346.1L482.7 349.1L482.6 352.2L482.6 355.3L482.6 358.4L482.5 361.5L482.5 364.5L482.4 367.6L482.3 370.7L482.2 373.8L482.1 376.8L482.0 379.9L481.9 383.0L481.8 386.0L481.7 389.1L481.5 392.1L481.4 395.1L481.2 398.2L481.1 401.2L480.9 404.2L480.7 407.3L480.5 410.3L480.3 413.3M483.6 269.0L483.8 272.2L484.0 275.4L484.1 278.5L484.3 281.7L484.5 284.9L484.6 288.1L484.7 291.3L484.9 294.5L485.0 297.7L485.1 300.9L485.2 304.1L485.3 307.3L485.4 310.5L485.5 313.8L485.6 317.0L485.7 320.2L485.7 323.5L485.8 326.7L485.8 329.9L485.8 333.2L485.9 336.4L485.9 339.6L485.9 342.9L485.9 346.1L485.9 349.3L485.9 352.6L485.8 355.8L485.8 359.1L485.8 362.3L485.7 365.5L485.6 368.8L485.6 372.0L485.5 375.2L485.4 378.4L485.3 381.6L485.2 384.9L485.1 388.1L485.0 391.3L484.8 394.5L484.7 397.7L484.6 400.9L484.4 404.1L484.3 407.3L484.1 410.4L483.9 413.6L483.8 416.8M487.1 265.3L487.3 268.6L487.4 271.9L487.6 275.2L487.7 278.6L487.9 281.9L488.0 285.3L488.1 288.6L488.3 292.0L488.4 295.4L488.5 298.7L488.6 302.1L488.7 305.5L488.8 308.9L488.8 312.2L488.9 315.6L489.0 319.0L489.0 322.4L489.1 325.8L489.1 329.2L489.1 332.6L489.2 336.0L489.2 339.4L489.2 342.8L489.2 346.2L489.2 349.6L489.2 353.0L489.1 356.3L489.1 359.7L489.1 363.1L489.0 366.5L489.0 369.9L488.9 373.3L488.8 376.7L488.7 380.1L488.7 383.4L488.6 386.8L488.5 390.2L488.3 393.6L488.2 396.9L488.1 400.3L488.0 403.6L487.8 407.0L487.7 410.3L487.5 413.7L487.4 417.0L487.2 420.3M490.7 261.4L490.8 264.9L490.9 268.4L491.1 271.9L491.2 275.4L491.4 278.9L491.5 282.4L491.6 286.0L491.7 289.5L491.8 293.0L491.9 296.5L492.0 300.1L492.1 303.6L492.2 307.2L492.2 310.7L492.3 314.2L492.3 317.8L492.4 321.3L492.4 324.9L492.5 328.4L492.5 332.0L492.5 335.6L492.5 339.1L492.5 342.7L492.5 346.2L492.5 349.8L492.5 353.3L492.5 356.9L492.5 360.4L492.4 364.0L492.4 367.5L492.3 371.1L492.3 374.6L492.2 378.2L492.1 381.7L492.1 385.3L492.0 388.8L491.9 392.3L491.8 395.9L491.7 399.4L491.6 402.9L491.4 406.4L491.3 410.0L491.2 413.5L491.1 417.0L490.9 420.5L490.8 424.0M494.3 257.5L494.4 261.2L494.5 264.8L494.7 268.5L494.8 272.2L494.9 275.9L495.0 279.5L495.1 283.2L495.2 286.9L495.3 290.6L495.4 294.3L495.5 298.0L495.5 301.7L495.6 305.4L495.7 309.1L495.7 312.8L495.8 316.5L495.8 320.3L495.9 324.0L495.9 327.7L495.9 331.4L495.9 335.1L496.0 338.8L496.0 342.6L496.0 346.3L496.0 350.0L495.9 353.7L495.9 357.4L495.9 361.2L495.9 364.9L495.8 368.6L495.8 372.3L495.7 376.0L495.7 379.7L495.6 383.4L495.5 387.1L495.5 390.8L495.4 394.5L495.3 398.2L495.2 401.9L495.1 405.6L495.0 409.3L494.9 413.0L494.7 416.7L494.6 420.3L494.5 424.0L494.4 427.7M497.9 253.5L498.1 257.4L498.2 261.2L498.3 265.0L498.4 268.9L498.5 272.7L498.6 276.6L498.7 280.4L498.8 284.3L498.9 288.2L498.9 292.0L499.0 295.9L499.1 299.8L499.1 303.6L499.2 307.5L499.2 311.4L499.3 315.3L499.3 319.2L499.4 323.0L499.4 326.9L499.4 330.8L499.4 334.7L499.4 338.6L499.4 342.5L499.4 346.3L499.4 350.2L499.4 354.1L499.4 358.0L499.4 361.9L499.3 365.8L499.3 369.6L499.3 373.5L499.2 377.4L499.2 381.3L499.1 385.1L499.1 389.0L499.0 392.9L498.9 396.8L498.8 400.6L498.7 404.5L498.7 408.3L498.6 412.2L498.5 416.0L498.4 419.9L498.3 423.7L498.1 427.6L498.0 431.4M501.7 249.5L501.8 253.5L501.9 257.5L502.0 261.5L502.1 265.6L502.1 269.6L502.2 273.6L502.3 277.6L502.4 281.7L502.5 285.7L502.5 289.7L502.6 293.8L502.6 297.8L502.7 301.8L502.7 305.9L502.8 309.9L502.8 314.0L502.9 318.0L502.9 322.1L502.9 326.1L502.9 330.2L502.9 334.2L503.0 338.3L503.0 342.3L503.0 346.4L503.0 350.4L502.9 354.5L502.9 358.6L502.9 362.6L502.9 366.7L502.9 370.7L502.8 374.8L502.8 378.8L502.7 382.8L502.7 386.9L502.6 390.9L502.6 395.0L502.5 399.0L502.4 403.0L502.4 407.1L502.3 411.1L502.2 415.1L502.1 419.2L502.0 423.2L501.9 427.2L501.8 431.2L501.7 435.2M505.4 245.4L505.5 249.6L505.6 253.8L505.7 258.0L505.8 262.2L505.8 266.4L505.9 270.6L506.0 274.8L506.0 279.0L506.1 283.2L506.2 287.4L506.2 291.6L506.3 295.8L506.3 300.0L506.3 304.2L506.4 308.5L506.4 312.7L506.4 316.9L506.5 321.1L506.5 325.3L506.5 329.6L506.5 333.8L506.5 338.0L506.5 342.2L506.5 346.5L506.5 350.7L506.5 354.9L506.5 359.1L506.5 363.3L506.5 367.6L506.4 371.8L506.4 376.0L506.4 380.2L506.3 384.4L506.3 388.7L506.2 392.9L506.2 397.1L506.1 401.3L506.1 405.5L506.0 409.7L506.0 413.9L505.9 418.1L505.8 422.3L505.7 426.5L505.7 430.7L505.6 434.9L505.5 439.1M509.3 241.3L509.3 245.6L509.4 250.0L509.5 254.4L509.5 258.8L509.6 263.1L509.6 267.5L509.7 271.9L509.7 276.3L509.8 280.6L509.8 285.0L509.9 289.4L509.9 293.8L510.0 298.2L510.0 302.6L510.0 307.0L510.0 311.4L510.1 315.8L510.1 320.2L510.1 324.5L510.1 328.9L510.1 333.3L510.1 337.7L510.1 342.1L510.1 346.5L510.1 350.9L510.1 355.3L510.1 359.7L510.1 364.1L510.1 368.5L510.1 372.9L510.0 377.3L510.0 381.7L510.0 386.1L509.9 390.4L509.9 394.8L509.9 399.2L509.8 403.6L509.8 408.0L509.7 412.4L509.7 416.8L509.6 421.1L509.6 425.5L509.5 429.9L509.4 434.3L509.4 438.6L509.3 443.0M513.1 237.1L513.2 241.7L513.2 246.2L513.3 250.8L513.3 255.3L513.4 259.9L513.4 264.4L513.4 269.0L513.5 273.5L513.5 278.1L513.6 282.6L513.6 287.2L513.6 291.8L513.6 296.3L513.7 300.9L513.7 305.5L513.7 310.0L513.7 314.6L513.7 319.2L513.8 323.7L513.8 328.3L513.8 332.9L513.8 337.4L513.8 342.0L513.8 346.6L513.8 351.1L513.8 355.7L513.8 360.3L513.8 364.9L513.7 369.4L513.7 374.0L513.7 378.6L513.7 383.1L513.7 387.7L513.6 392.3L513.6 396.8L513.6 401.4L513.5 405.9L513.5 410.5L513.5 415.1L513.4 419.6L513.4 424.2L513.3 428.7L513.3 433.3L513.3 437.8L513.2 442.4L513.1 446.9M517.0 232.9L517.0 237.6L517.1 242.4L517.1 247.1L517.1 251.8L517.2 256.6L517.2 261.3L517.2 266.0L517.3 270.8L517.3 275.5L517.3 280.2L517.3 285.0L517.3 289.7L517.4 294.5L517.4 299.2L517.4 303.9L517.4 308.7L517.4 313.4L517.4 318.2L517.4 322.9L517.5 327.7L517.5 332.4L517.5 337.2L517.5 341.9L517.5 346.6L517.5 351.4L517.5 356.1L517.5 360.9L517.4 365.6L517.4 370.4L517.4 375.1L517.4 379.9L517.4 384.6L517.4 389.3L517.4 394.1L517.3 398.8L517.3 403.6L517.3 408.3L517.3 413.0L517.3 417.8L517.2 422.5L517.2 427.2L517.2 432.0L517.1 436.7L517.1 441.4L517.1 446.2L517.0 450.9M520.9 228.7L520.9 233.6L521.0 238.5L521.0 243.4L521.0 248.3L521.0 253.2L521.0 258.1L521.0 263.1L521.1 268.0L521.1 272.9L521.1 277.8L521.1 282.7L521.1 287.7L521.1 292.6L521.1 297.5L521.1 302.4L521.1 307.3L521.2 312.3L521.2 317.2L521.2 322.1L521.2 327.0L521.2 331.9L521.2 336.9L521.2 341.8L521.2 346.7L521.2 351.6L521.2 356.5L521.2 361.5L521.2 366.4L521.2 371.3L521.2 376.2L521.1 381.2L521.1 386.1L521.1 391.0L521.1 395.9L521.1 400.8L521.1 405.8L521.1 410.7L521.1 415.6L521.1 420.5L521.0 425.4L521.0 430.3L521.0 435.3L521.0 440.2L521.0 445.1L521.0 450.0L520.9 454.9M524.9 224.4L524.9 229.5L524.9 234.6L524.9 239.7L524.9 244.8L524.9 249.9L524.9 255.0L524.9 260.1L524.9 265.2L524.9 270.3L524.9 275.4L524.9 280.5L524.9 285.6L524.9 290.7L524.9 295.8L524.9 300.9L524.9 306.0L524.9 311.1L524.9 316.2L524.9 321.3L524.9 326.4L524.9 331.5L524.9 336.6L524.9 341.7L524.9 346.8L524.9 351.9L524.9 357.0L524.9 362.1L524.9 367.2L524.9 372.3L524.9 377.4L524.9 382.5L524.9 387.6L524.9 392.7L524.9 397.8L524.9 402.9L524.9 408.0L524.9 413.1L524.9 418.2L524.9 423.3L524.9 428.4L524.9 433.5L524.9 438.6L524.9 443.7L524.9 448.8L524.9 453.9L524.9 459.0M528.9 220.1L528.8 225.4L528.8 230.6L528.8 235.9L528.8 241.2L528.8 246.5L528.8 251.8L528.8 257.1L528.8 262.3L528.7 267.6L528.7 272.9L528.7 278.2L528.7 283.5L528.7 288.8L528.7 294.0L528.7 299.3L528.7 304.6L528.7 309.9L528.7 315.2L528.7 320.4L528.7 325.7L528.7 331.0L528.7 336.3L528.7 341.6L528.7 346.8L528.7 352.1L528.7 357.4L528.7 362.7L528.7 368.0L528.7 373.2L528.7 378.5L528.7 383.8L528.7 389.1L528.7 394.4L528.7 399.6L528.7 404.9L528.7 410.2L528.7 415.5L528.7 420.8L528.8 426.0L528.8 431.3L528.8 436.6L528.8 441.9L528.8 447.2L528.8 452.5L528.8 457.7L528.8 463.0M532.9 215.7L532.8 221.2L532.8 226.7L532.8 232.2L532.7 237.6L532.7 243.1L532.7 248.6L532.7 254.0L532.6 259.5L532.6 265.0L532.6 270.4L532.6 275.9L532.6 281.4L532.5 286.8L532.5 292.3L532.5 297.7L532.5 303.2L532.5 308.7L532.5 314.1L532.5 319.6L532.5 325.1L532.5 330.5L532.5 336.0L532.5 341.4L532.5 346.9L532.5 352.4L532.5 357.8L532.5 363.3L532.5 368.7L532.5 374.2L532.5 379.7L532.5 385.1L532.5 390.6L532.5 396.0L532.5 401.5L532.6 407.0L532.6 412.4L532.6 417.9L532.6 423.4L532.6 428.8L532.7 434.3L532.7 439.8L532.7 445.2L532.7 450.7L532.8 456.2L532.8 461.6L532.8 467.1M536.9 211.4L536.8 217.1L536.8 222.7L536.7 228.4L536.7 234.0L536.6 239.7L536.6 245.3L536.6 251.0L536.5 256.6L536.5 262.3L536.5 267.9L536.4 273.6L536.4 279.2L536.4 284.9L536.4 290.5L536.3 296.2L536.3 301.8L536.3 307.5L536.3 313.1L536.3 318.8L536.3 324.4L536.3 330.0L536.3 335.7L536.3 341.3L536.3 347.0L536.3 352.6L536.3 358.2L536.3 363.9L536.3 369.5L536.3 375.2L536.3 380.8L536.3 386.5L536.3 392.1L536.4 397.7L536.4 403.4L536.4 409.0L536.4 414.7L536.5 420.3L536.5 426.0L536.5 431.6L536.6 437.3L536.6 442.9L536.7 448.6L536.7 454.3L536.7 459.9L536.8 465.6L536.8 471.2M540.9 207.0L540.8 212.9L540.8 218.7L540.7 224.6L540.7 230.4L540.6 236.3L540.6 242.1L540.5 247.9L540.4 253.8L540.4 259.6L540.4 265.4L540.3 271.3L540.3 277.1L540.2 282.9L540.2 288.8L540.2 294.6L540.2 300.4L540.1 306.3L540.1 312.1L540.1 317.9L540.1 323.7L540.1 329.6L540.1 335.4L540.1 341.2L540.1 347.0L540.1 352.8L540.1 358.7L540.1 364.5L540.1 370.3L540.1 376.1L540.1 382.0L540.2 387.8L540.2 393.6L540.2 399.5L540.3 405.3L540.3 411.1L540.3 416.9L540.4 422.8L540.4 428.6L540.5 434.5L540.5 440.3L540.6 446.1L540.6 452.0L540.7 457.8L540.7 463.7L540.8 469.5L540.9 475.4M545.0 202.6L544.9 208.7L544.8 214.7L544.7 220.8L544.7 226.8L544.6 232.8L544.5 238.8L544.4 244.9L544.4 250.9L544.3 256.9L544.3 262.9L544.2 269.0L544.2 275.0L544.1 281.0L544.1 287.0L544.1 293.0L544.0 299.0L544.0 305.0L544.0 311.0L543.9 317.1L543.9 323.1L543.9 329.1L543.9 335.1L543.9 341.1L543.9 347.1L543.9 353.1L543.9 359.1L543.9 365.1L544.0 371.1L544.0 377.1L544.0 383.1L544.0 389.1L544.1 395.2L544.1 401.2L544.1 407.2L544.2 413.2L544.2 419.2L544.3 425.2L544.3 431.3L544.4 437.3L544.5 443.3L544.5 449.3L544.6 455.4L544.7 461.4L544.7 467.4L544.8 473.5L544.9 479.5M549.0 198.2L548.9 204.5L548.8 210.7L548.7 216.9L548.7 223.1L548.6 229.4L548.5 235.6L548.4 241.8L548.3 248.0L548.3 254.2L548.2 260.4L548.1 266.6L548.1 272.8L548.0 279.0L548.0 285.2L547.9 291.4L547.9 297.6L547.9 303.8L547.8 310.0L547.8 316.2L547.8 322.4L547.8 328.6L547.8 334.8L547.8 341.0L547.8 347.2L547.8 353.3L547.8 359.5L547.8 365.7L547.8 371.9L547.8 378.1L547.9 384.3L547.9 390.5L547.9 396.7L548.0 402.9L548.0 409.1L548.1 415.3L548.1 421.5L548.2 427.7L548.3 433.9L548.3 440.1L548.4 446.3L548.5 452.5L548.6 458.8L548.7 465.0L548.8 471.2L548.9 477.4L549.0 483.7M420.0 351.4L425.5 357.0L549.0 483.7M419.6 351.8L424.6 357.7L537.0 483.5M419.1 352.2L423.7 358.4L525.0 483.3M418.6 352.5L422.8 359.1L513.0 483.2M418.1 352.8L421.8 359.7L501.0 483.0M417.5 353.1L420.8 360.2L489.1 482.9M416.9 353.4L419.8 360.6L477.1 482.8M416.4 353.6L418.7 361.0L465.2 482.7M415.8 353.7L417.6 361.3L453.2 482.6M415.2 353.9L416.5 361.5L441.3 482.6M414.6 353.9L415.4 361.7L429.4 482.6M414.0 354.0L414.3 361.8L417.4 482.5M413.3 354.0L413.1 361.8L405.5 482.5M412.7 354.0L412.0 361.7L393.6 482.6M412.1 353.9L410.9 361.6L381.6 482.6M411.5 353.8L409.8 361.4L369.7 482.6M410.9 353.6L408.7 361.1L357.8 482.7M410.3 353.4L407.6 360.7L345.8 482.8M409.8 353.2L406.5 360.3L333.9 482.9M409.2 352.9L405.5 359.8L321.9 483.0M408.7 352.6L404.5 359.2L309.9 483.1M408.2 352.2L403.6 358.6L298.0 483.3M407.7 351.9L402.7 357.9L286.0 483.5M407.2 351.5L401.9 357.1L274.0 483.6M420.9 352.3L420.4 352.8L419.9 353.2L419.3 353.6L418.7 354.0L418.1 354.3L417.4 354.6L416.8 354.8L416.1 355.0L415.4 355.1L414.7 355.2L414.0 355.3L413.3 355.3L412.6 355.2L411.9 355.2L411.2 355.0L410.6 354.8L409.9 354.6L409.2 354.3L408.6 354.0L408.0 353.7L407.4 353.3L406.9 352.9L406.4 352.4L405.9 351.9M421.9 353.4L421.4 353.9L420.7 354.4L420.1 354.9L419.4 355.3L418.7 355.6L418.0 355.9L417.2 356.2L416.4 356.4L415.6 356.6L414.9 356.7L414.1 356.8L413.3 356.8L412.5 356.7L411.7 356.6L410.9 356.5L410.1 356.2L409.4 356.0L408.6 355.7L407.9 355.3L407.2 354.9L406.6 354.5L405.9 354.0L405.3 353.5L404.8 352.9M423.1 354.6L422.4 355.2L421.7 355.7L421.0 356.3L420.2 356.7L419.4 357.1L418.6 357.5L417.7 357.8L416.8 358.0L415.9 358.2L415.0 358.4L414.1 358.4L413.2 358.4L412.3 358.4L411.4 358.3L410.5 358.1L409.6 357.8L408.8 357.5L407.9 357.2L407.1 356.8L406.3 356.3L405.6 355.8L404.9 355.3L404.2 354.7L403.6 354.0M424.4 355.9L423.7 356.6L422.9 357.3L422.0 357.9L421.1 358.4L420.2 358.9L419.2 359.3L418.3 359.6L417.3 359.9L416.3 360.1L415.2 360.2L414.2 360.3L413.2 360.3L412.1 360.3L411.1 360.1L410.1 359.9L409.1 359.7L408.1 359.3L407.1 358.9L406.2 358.5L405.3 357.9L404.5 357.4L403.7 356.7L402.9 356.0L402.2 355.3M426.1 357.6L425.2 358.4L424.3 359.1L423.3 359.7L422.2 360.3L421.2 360.8L420.1 361.3L419.0 361.6L417.8 361.9L416.6 362.2L415.5 362.3L414.3 362.4L413.1 362.4L411.9 362.3L410.7 362.2L409.6 362.0L408.4 361.7L407.3 361.3L406.2 360.9L405.1 360.4L404.1 359.8L403.1 359.2L402.1 358.5L401.2 357.7L400.4 356.9M428.3 359.9L427.2 360.7L426.1 361.4L424.9 362.0L423.7 362.5L422.4 363.0L421.1 363.5L419.8 363.8L418.5 364.1L417.1 364.4L415.7 364.5L414.3 364.6L412.9 364.6L411.6 364.5L410.2 364.4L408.8 364.2L407.5 363.9L406.1 363.5L404.8 363.1L403.6 362.6L402.3 362.1L401.1 361.5L400.0 360.8L398.9 360.0L397.8 359.3M430.9 362.5L429.6 363.3L428.2 363.9L426.8 364.5L425.3 365.1L423.8 365.6L422.3 366.0L420.8 366.4L419.2 366.6L417.6 366.9L416.0 367.0L414.4 367.1L412.8 367.1L411.2 367.0L409.6 366.9L408.0 366.7L406.4 366.4L404.9 366.1L403.4 365.6L401.9 365.2L400.4 364.6L399.0 364.0L397.6 363.4L396.3 362.7L395.0 361.9M433.7 365.5L432.2 366.2L430.5 366.8L428.9 367.4L427.1 367.9L425.4 368.4L423.6 368.8L421.8 369.2L420.0 369.4L418.2 369.7L416.3 369.8L414.5 369.9L412.6 369.9L410.8 369.8L408.9 369.7L407.1 369.5L405.2 369.2L403.4 368.9L401.7 368.5L399.9 368.0L398.2 367.5L396.5 366.9L394.9 366.3L393.3 365.6L391.7 364.8M437.0 368.8L435.1 369.4L433.2 370.1L431.2 370.6L429.2 371.1L427.2 371.6L425.1 372.0L423.0 372.3L420.9 372.6L418.8 372.8L416.7 372.9L414.6 373.0L412.4 373.0L410.3 373.0L408.1 372.8L406.0 372.6L403.9 372.4L401.8 372.1L399.8 371.7L397.7 371.2L395.7 370.7L393.8 370.2L391.9 369.5L390.0 368.9L388.1 368.1M440.5 372.4L438.3 373.1L436.1 373.7L433.8 374.2L431.5 374.7L429.2 375.2L426.8 375.5L424.4 375.9L422.0 376.1L419.5 376.3L417.1 376.4L414.6 376.5L412.2 376.5L409.7 376.5L407.3 376.3L404.9 376.2L402.5 375.9L400.1 375.6L397.7 375.2L395.3 374.8L393.0 374.3L390.7 373.8L388.5 373.2L386.3 372.5L384.1 371.8M444.5 376.5L441.9 377.1L439.3 377.7L436.7 378.2L434.0 378.7L431.3 379.1L428.6 379.5L425.9 379.8L423.1 380.0L420.3 380.2L417.5 380.3L414.7 380.4L411.9 380.4L409.2 380.4L406.4 380.2L403.6 380.1L400.8 379.8L398.1 379.5L395.3 379.2L392.6 378.8L390.0 378.3L387.3 377.8L384.7 377.2L382.1 376.6L379.6 376.0M448.9 381.0L445.9 381.6L442.9 382.1L439.9 382.6L436.9 383.1L433.8 383.5L430.7 383.8L427.5 384.1L424.4 384.3L421.2 384.5L418.0 384.6L414.9 384.7L411.7 384.7L408.5 384.6L405.3 384.5L402.2 384.4L399.0 384.1L395.9 383.9L392.8 383.5L389.7 383.1L386.6 382.7L383.6 382.2L380.6 381.7L377.6 381.1L374.7 380.5M453.7 385.9L450.3 386.5L446.9 387.0L443.4 387.5L439.9 387.9L436.4 388.3L432.9 388.6L429.3 388.8L425.8 389.1L422.2 389.2L418.6 389.3L415.0 389.4L411.4 389.4L407.8 389.4L404.2 389.3L400.6 389.1L397.0 388.9L393.5 388.6L389.9 388.3L386.4 387.9L382.9 387.5L379.4 387.1L376.0 386.6L372.6 386.0L369.3 385.5M458.9 391.3L455.1 391.8L451.2 392.3L447.3 392.7L443.3 393.1L439.3 393.5L435.3 393.8L431.3 394.0L427.3 394.2L423.2 394.4L419.2 394.5L415.1 394.5L411.1 394.5L407.0 394.5L402.9 394.4L398.9 394.2L394.9 394.0L390.8 393.8L386.8 393.5L382.9 393.2L378.9 392.8L375.0 392.4L371.1 391.9L367.2 391.4L363.4 390.9M464.6 397.1L460.2 397.6L455.8 398.0L451.4 398.4L446.9 398.8L442.4 399.1L437.9 399.3L433.4 399.6L428.9 399.8L424.4 399.9L419.8 400.0L415.3 400.0L410.7 400.0L406.2 400.0L401.6 399.9L397.1 399.8L392.5 399.6L388.0 399.4L383.5 399.1L379.0 398.8L374.6 398.5L370.1 398.1L365.7 397.6L361.4 397.2L357.0 396.7M470.6 403.3L465.7 403.7L460.8 404.1L455.8 404.5L450.8 404.8L445.8 405.1L440.7 405.3L435.7 405.5L430.6 405.7L425.6 405.8L420.5 405.9L415.4 405.9L410.3 405.9L405.3 405.9L400.2 405.8L395.1 405.7L390.0 405.5L385.0 405.3L380.0 405.1L374.9 404.8L370.0 404.5L365.0 404.2L360.0 403.8L355.1 403.4L350.2 402.9M477.0 409.9L471.5 410.2L466.0 410.6L460.5 410.9L454.9 411.2L449.3 411.4L443.7 411.6L438.1 411.8L432.5 412.0L426.9 412.1L421.2 412.2L415.6 412.2L409.9 412.2L404.3 412.2L398.7 412.1L393.0 412.0L387.4 411.9L381.8 411.7L376.2 411.5L370.6 411.2L365.0 410.9L359.5 410.6L354.0 410.3L348.5 409.9L343.0 409.5M483.8 416.8L477.6 417.1L471.5 417.4L465.4 417.7L459.2 417.9L453.0 418.1L446.8 418.3L440.6 418.5L434.4 418.6L428.2 418.7L422.0 418.7L415.8 418.8L409.5 418.8L403.3 418.8L397.1 418.7L390.9 418.6L384.6 418.5L378.4 418.3L372.2 418.1L366.1 417.9L359.9 417.7L353.7 417.4L347.6 417.1L341.5 416.8L335.4 416.5M490.8 424.0L484.0 424.2L477.3 424.5L470.5 424.7L463.7 424.9L456.9 425.1L450.1 425.2L443.3 425.4L436.5 425.5L429.6 425.6L422.8 425.6L415.9 425.6L409.1 425.6L402.3 425.6L395.4 425.6L388.6 425.5L381.7 425.4L374.9 425.3L368.1 425.1L361.3 424.9L354.5 424.7L347.7 424.5L341.0 424.3L334.2 424.0L327.5 423.7M498.0 431.4L490.6 431.6L483.2 431.8L475.8 432.0L468.4 432.2L460.9 432.3L453.5 432.4L446.0 432.5L438.5 432.6L431.1 432.7L423.6 432.7L416.1 432.7L408.6 432.7L401.2 432.7L393.7 432.7L386.2 432.6L378.8 432.5L371.3 432.4L363.8 432.3L356.4 432.2L349.0 432.0L341.5 431.9L334.1 431.7L326.7 431.5L319.3 431.2M505.5 439.1L497.4 439.2L489.3 439.4L481.3 439.5L473.2 439.6L465.1 439.7L456.9 439.8L448.8 439.9L440.7 440.0L432.6 440.0L424.4 440.0L416.3 440.0L408.2 440.0L400.1 440.0L391.9 440.0L383.8 440.0L375.7 439.9L367.6 439.8L359.4 439.7L351.3 439.6L343.2 439.5L335.1 439.4L327.1 439.3L319.0 439.1L310.9 438.9M513.1 446.9L504.4 447.0L495.6 447.1L486.8 447.2L478.1 447.3L469.3 447.3L460.5 447.4L451.7 447.4L442.9 447.5L434.1 447.5L425.3 447.5L416.5 447.5L407.7 447.5L398.9 447.5L390.1 447.5L381.3 447.5L372.5 447.4L363.7 447.4L354.9 447.3L346.2 447.3L337.4 447.2L328.6 447.1L319.8 447.0L311.1 446.9L302.3 446.8M520.9 454.9L511.5 455.0L502.0 455.0L492.5 455.0L483.1 455.0L473.6 455.1L464.1 455.1L454.6 455.1L445.2 455.1L435.7 455.1L426.2 455.1L416.7 455.1L407.2 455.1L397.8 455.1L388.3 455.1L378.8 455.1L369.3 455.1L359.8 455.1L350.4 455.1L340.9 455.0L331.4 455.0L321.9 455.0L312.5 455.0L303.0 454.9L293.5 454.9M528.8 463.0L518.7 463.0L508.5 463.0L498.3 463.0L488.1 462.9L478.0 462.9L467.8 462.9L457.6 462.9L447.4 462.9L437.3 462.9L427.1 462.9L416.9 462.9L406.7 462.9L396.6 462.9L386.4 462.9L376.2 462.9L366.1 462.9L355.9 462.9L345.7 462.9L335.5 462.9L325.4 463.0L315.2 463.0L305.0 463.0L294.8 463.0L284.6 463.1M536.8 471.2L525.9 471.1L515.0 471.1L504.1 471.0L493.3 470.9L482.4 470.9L471.5 470.8L460.6 470.8L449.7 470.7L438.9 470.7L428.0 470.7L417.1 470.7L406.3 470.7L395.4 470.7L384.5 470.7L373.6 470.7L362.8 470.8L351.9 470.8L341.0 470.9L330.1 470.9L319.2 471.0L308.3 471.1L297.4 471.1L286.5 471.2L275.6 471.3M544.9 479.5L533.3 479.4L521.6 479.2L510.0 479.1L498.4 479.0L486.8 478.9L475.2 478.8L463.6 478.7L452.1 478.7L440.5 478.6L428.9 478.6L417.3 478.6L405.8 478.6L394.2 478.6L382.6 478.6L371.0 478.7L359.4 478.7L347.8 478.8L336.3 478.9L324.7 479.0L313.1 479.1L301.4 479.2L289.8 479.3L278.2 479.5L266.5 479.6M406.4 351.4L406.2 351.2L406.0 351.0L405.8 350.7L405.6 350.5L405.4 350.2L405.2 350.0L405.1 349.7L404.9 349.4L404.8 349.2L404.7 348.9L404.5 348.6L404.4 348.3L404.3 348.0L404.2 347.7L404.1 347.4L404.1 347.1L404.0 346.8L403.9 346.5L403.9 346.2L403.8 345.9L403.8 345.6L403.8 345.3L403.8 345.0L403.8 344.7L403.8 344.4L403.8 344.1L403.8 343.7L403.9 343.4L403.9 343.1L404.0 342.8L404.0 342.5L404.1 342.2L404.2 341.9L404.3 341.6L404.4 341.3L404.5 341.1L404.6 340.8L404.8 340.5L404.9 340.2L405.1 339.9L405.2 339.7L405.4 339.4L405.6 339.2L405.7 338.9L405.9 338.7L406.1 338.4L406.3 338.2L406.5 338.0M405.9 351.9L405.6 351.6L405.4 351.4L405.2 351.1L405.0 350.9L404.9 350.6L404.7 350.3L404.5 350.0L404.3 349.7L404.2 349.4L404.1 349.1L403.9 348.8L403.8 348.5L403.7 348.2L403.6 347.9L403.5 347.6L403.4 347.3L403.3 347.0L403.3 346.6L403.2 346.3L403.2 346.0L403.1 345.6L403.1 345.3L403.1 345.0L403.1 344.7L403.1 344.3L403.1 344.0L403.2 343.7L403.2 343.3L403.3 343.0L403.3 342.7L403.4 342.4L403.5 342.1L403.6 341.7L403.7 341.4L403.8 341.1L403.9 340.8L404.0 340.5L404.2 340.2L404.3 339.9L404.5 339.6L404.6 339.3L404.8 339.1L405.0 338.8L405.2 338.5L405.4 338.2L405.6 338.0L405.8 337.7L406.1 337.5M405.3 352.4L405.1 352.1L404.9 351.8L404.7 351.6L404.5 351.3L404.3 351.0L404.1 350.7L403.9 350.4L403.7 350.1L403.6 349.8L403.4 349.4L403.3 349.1L403.1 348.8L403.0 348.5L402.9 348.1L402.8 347.8L402.7 347.4L402.6 347.1L402.6 346.8L402.5 346.4L402.5 346.1L402.4 345.7L402.4 345.4L402.4 345.0L402.4 344.7L402.4 344.3L402.4 343.9L402.5 343.6L402.5 343.2L402.6 342.9L402.6 342.6L402.7 342.2L402.8 341.9L402.9 341.5L403.0 341.2L403.1 340.9L403.2 340.5L403.4 340.2L403.5 339.9L403.7 339.6L403.9 339.3L404.0 339.0L404.2 338.7L404.4 338.4L404.6 338.1L404.8 337.8L405.1 337.5L405.3 337.3L405.5 337.0M404.8 352.9L404.5 352.6L404.3 352.3L404.1 352.0L403.8 351.7L403.6 351.4L403.4 351.1L403.2 350.8L403.0 350.4L402.9 350.1L402.7 349.8L402.6 349.4L402.4 349.1L402.3 348.7L402.2 348.4L402.1 348.0L402.0 347.6L401.9 347.3L401.8 346.9L401.8 346.5L401.7 346.1L401.7 345.8L401.7 345.4L401.6 345.0L401.6 344.6L401.7 344.3L401.7 343.9L401.7 343.5L401.8 343.1L401.8 342.8L401.9 342.4L402.0 342.0L402.1 341.7L402.2 341.3L402.3 340.9L402.4 340.6L402.5 340.2L402.7 339.9L402.9 339.6L403.0 339.2L403.2 338.9L403.4 338.6L403.6 338.2L403.8 337.9L404.0 337.6L404.3 337.3L404.5 337.0L404.7 336.8L405.0 336.5M404.2 353.4L403.9 353.1L403.7 352.8L403.4 352.5L403.2 352.2L403.0 351.8L402.7 351.5L402.5 351.2L402.3 350.8L402.2 350.5L402.0 350.1L401.8 349.7L401.7 349.4L401.5 349.0L401.4 348.6L401.3 348.2L401.2 347.8L401.1 347.4L401.0 347.0L401.0 346.6L400.9 346.2L400.9 345.8L400.8 345.4L400.8 345.0L400.8 344.6L400.8 344.2L400.9 343.8L400.9 343.4L401.0 343.0L401.0 342.6L401.1 342.2L401.2 341.8L401.3 341.5L401.4 341.1L401.5 340.7L401.6 340.3L401.8 339.9L402.0 339.6L402.1 339.2L402.3 338.8L402.5 338.5L402.7 338.1L402.9 337.8L403.1 337.5L403.4 337.1L403.6 336.8L403.9 336.5L404.1 336.2L404.4 335.9M403.6 354.0L403.3 353.7L403.0 353.4L402.7 353.0L402.5 352.7L402.2 352.3L402.0 352.0L401.8 351.6L401.6 351.2L401.4 350.8L401.2 350.4L401.0 350.1L400.9 349.7L400.7 349.3L400.6 348.8L400.5 348.4L400.4 348.0L400.3 347.6L400.2 347.2L400.1 346.8L400.1 346.3L400.0 345.9L400.0 345.5L400.0 345.0L400.0 344.6L400.0 344.2L400.0 343.8L400.0 343.3L400.1 342.9L400.2 342.5L400.2 342.1L400.3 341.6L400.4 341.2L400.6 340.8L400.7 340.4L400.8 340.0L401.0 339.6L401.2 339.2L401.3 338.8L401.5 338.4L401.7 338.1L402.0 337.7L402.2 337.3L402.4 337.0L402.7 336.6L403.0 336.3L403.2 336.0L403.5 335.6L403.8 335.3M402.9 354.6L402.6 354.3L402.3 353.9L402.0 353.6L401.7 353.2L401.5 352.8L401.2 352.4L401.0 352.1L400.8 351.7L400.6 351.2L400.4 350.8L400.2 350.4L400.0 350.0L399.8 349.6L399.7 349.1L399.6 348.7L399.5 348.2L399.4 347.8L399.3 347.3L399.2 346.9L399.1 346.4L399.1 346.0L399.1 345.5L399.1 345.1L399.1 344.6L399.1 344.1L399.1 343.7L399.1 343.2L399.2 342.8L399.3 342.3L399.3 341.9L399.4 341.4L399.6 341.0L399.7 340.5L399.8 340.1L400.0 339.7L400.1 339.3L400.3 338.8L400.5 338.4L400.7 338.0L401.0 337.6L401.2 337.2L401.4 336.8L401.7 336.4L402.0 336.1L402.2 335.7L402.5 335.4L402.8 335.0L403.1 334.7M402.2 355.3L401.8 354.9L401.5 354.6L401.2 354.2L400.9 353.8L400.7 353.4L400.4 353.0L400.1 352.5L399.9 352.1L399.7 351.7L399.5 351.2L399.3 350.8L399.1 350.3L398.9 349.9L398.8 349.4L398.6 348.9L398.5 348.5L398.4 348.0L398.3 347.5L398.2 347.0L398.2 346.5L398.1 346.1L398.1 345.6L398.1 345.1L398.1 344.6L398.1 344.1L398.1 343.6L398.2 343.1L398.2 342.6L398.3 342.2L398.4 341.7L398.5 341.2L398.6 340.7L398.8 340.3L398.9 339.8L399.1 339.3L399.2 338.9L399.4 338.4L399.6 338.0L399.9 337.6L400.1 337.1L400.3 336.7L400.6 336.3L400.9 335.9L401.2 335.5L401.5 335.1L401.8 334.7L402.1 334.4L402.4 334.0M401.4 356.0L401.0 355.6L400.7 355.2L400.4 354.8L400.1 354.4L399.8 353.9L399.5 353.5L399.2 353.1L399.0 352.6L398.7 352.1L398.5 351.7L398.3 351.2L398.1 350.7L397.9 350.2L397.8 349.7L397.6 349.2L397.5 348.7L397.4 348.2L397.3 347.7L397.2 347.2L397.1 346.7L397.1 346.1L397.1 345.6L397.0 345.1L397.0 344.6L397.0 344.1L397.1 343.5L397.1 343.0L397.2 342.5L397.3 342.0L397.4 341.5L397.5 341.0L397.6 340.5L397.8 340.0L397.9 339.5L398.1 339.0L398.3 338.5L398.5 338.0L398.7 337.5L398.9 337.1L399.2 336.6L399.5 336.2L399.7 335.7L400.0 335.3L400.3 334.9L400.7 334.5L401.0 334.1L401.3 333.7L401.7 333.3M400.4 356.9L400.0 356.5L399.7 356.1L399.3 355.6L399.0 355.2L398.7 354.7L398.4 354.2L398.2 353.7L397.9 353.2L397.7 352.7L397.4 352.2L397.2 351.7L397.0 351.2L396.8 350.6L396.7 350.1L396.5 349.6L396.4 349.0L396.3 348.5L396.2 347.9L396.1 347.4L396.0 346.8L396.0 346.2L395.9 345.7L395.9 345.1L395.9 344.6L395.9 344.0L396.0 343.4L396.0 342.9L396.1 342.3L396.2 341.8L396.3 341.2L396.4 340.7L396.5 340.1L396.7 339.6L396.8 339.0L397.0 338.5L397.2 338.0L397.4 337.5L397.6 336.9L397.9 336.4L398.1 335.9L398.4 335.4L398.7 335.0L399.0 334.5L399.3 334.0L399.6 333.6L400.0 333.1L400.3 332.7L400.7 332.3M399.1 358.1L398.8 357.6L398.4 357.1L398.1 356.6L397.8 356.1L397.5 355.6L397.2 355.0L397.0 354.5L396.7 354.0L396.5 353.4L396.2 352.9L396.0 352.3L395.8 351.7L395.7 351.1L395.5 350.6L395.3 350.0L395.2 349.4L395.1 348.8L395.0 348.2L394.9 347.6L394.8 347.0L394.8 346.4L394.8 345.7L394.7 345.1L394.7 344.5L394.8 343.9L394.8 343.3L394.8 342.7L394.9 342.1L395.0 341.5L395.1 340.9L395.2 340.3L395.3 339.7L395.5 339.1L395.6 338.5L395.8 337.9L396.0 337.4L396.2 336.8L396.4 336.2L396.7 335.7L396.9 335.1L397.2 334.6L397.5 334.1L397.8 333.6L398.1 333.0L398.4 332.5L398.7 332.1L399.1 331.6L399.4 331.1M397.8 359.3L397.5 358.7L397.2 358.2L396.8 357.6L396.5 357.1L396.2 356.5L396.0 355.9L395.7 355.3L395.4 354.7L395.2 354.1L395.0 353.5L394.8 352.9L394.6 352.3L394.4 351.7L394.2 351.0L394.1 350.4L394.0 349.7L393.8 349.1L393.7 348.4L393.7 347.8L393.6 347.1L393.5 346.5L393.5 345.8L393.5 345.2L393.5 344.5L393.5 343.8L393.5 343.2L393.6 342.5L393.6 341.9L393.7 341.2L393.8 340.5L393.9 339.9L394.1 339.3L394.2 338.6L394.4 338.0L394.5 337.3L394.7 336.7L394.9 336.1L395.2 335.5L395.4 334.9L395.6 334.3L395.9 333.7L396.2 333.1L396.5 332.5L396.8 332.0L397.1 331.4L397.4 330.9L397.8 330.4L398.1 329.8M396.4 360.5L396.1 359.9L395.8 359.4L395.5 358.7L395.2 358.1L394.9 357.5L394.6 356.9L394.3 356.2L394.1 355.6L393.8 354.9L393.6 354.3L393.4 353.6L393.2 352.9L393.0 352.2L392.9 351.5L392.7 350.8L392.6 350.1L392.5 349.4L392.4 348.7L392.3 348.0L392.3 347.3L392.2 346.6L392.2 345.9L392.2 345.2L392.2 344.5L392.2 343.7L392.2 343.0L392.2 342.3L392.3 341.6L392.4 340.9L392.5 340.2L392.6 339.5L392.7 338.8L392.9 338.1L393.0 337.4L393.2 336.7L393.4 336.0L393.6 335.4L393.8 334.7L394.0 334.0L394.3 333.4L394.5 332.7L394.8 332.1L395.1 331.5L395.4 330.9L395.7 330.3L396.0 329.7L396.4 329.1L396.7 328.5M395.0 361.9L394.6 361.2L394.3 360.6L394.0 359.9L393.7 359.2L393.4 358.6L393.1 357.9L392.9 357.2L392.6 356.5L392.4 355.7L392.2 355.0L392.0 354.3L391.8 353.6L391.6 352.8L391.5 352.1L391.3 351.3L391.2 350.6L391.1 349.8L391.0 349.0L390.9 348.3L390.8 347.5L390.8 346.7L390.8 346.0L390.7 345.2L390.7 344.4L390.8 343.6L390.8 342.9L390.8 342.1L390.9 341.3L391.0 340.6L391.1 339.8L391.2 339.0L391.3 338.3L391.4 337.5L391.6 336.8L391.8 336.0L392.0 335.3L392.2 334.6L392.4 333.9L392.6 333.1L392.8 332.4L393.1 331.7L393.4 331.0L393.7 330.3L393.9 329.7L394.3 329.0L394.6 328.3L394.9 327.7L395.3 327.1M393.4 363.3L393.1 362.6L392.8 361.9L392.4 361.2L392.2 360.4L391.9 359.7L391.6 358.9L391.3 358.2L391.1 357.4L390.9 356.6L390.7 355.8L390.5 355.0L390.3 354.2L390.1 353.4L390.0 352.6L389.8 351.8L389.7 351.0L389.6 350.2L389.5 349.4L389.4 348.5L389.3 347.7L389.3 346.9L389.3 346.0L389.2 345.2L389.2 344.4L389.3 343.5L389.3 342.7L389.3 341.9L389.4 341.0L389.5 340.2L389.6 339.4L389.7 338.6L389.8 337.8L389.9 336.9L390.1 336.1L390.3 335.3L390.4 334.5L390.6 333.7L390.8 333.0L391.1 332.2L391.3 331.4L391.6 330.6L391.8 329.9L392.1 329.1L392.4 328.4L392.7 327.7L393.0 327.0L393.4 326.2L393.7 325.5M391.7 364.8L391.4 364.1L391.1 363.3L390.8 362.5L390.5 361.7L390.2 360.9L390.0 360.1L389.7 359.2L389.5 358.4L389.3 357.5L389.0 356.7L388.9 355.8L388.7 355.0L388.5 354.1L388.4 353.2L388.2 352.4L388.1 351.5L388.0 350.6L387.9 349.7L387.8 348.8L387.7 347.9L387.7 347.0L387.7 346.1L387.6 345.2L387.6 344.3L387.7 343.4L387.7 342.5L387.7 341.6L387.8 340.7L387.9 339.9L388.0 339.0L388.1 338.1L388.2 337.2L388.3 336.3L388.5 335.4L388.6 334.6L388.8 333.7L389.0 332.9L389.2 332.0L389.4 331.2L389.7 330.3L389.9 329.5L390.2 328.7L390.5 327.9L390.8 327.1L391.1 326.3L391.4 325.5L391.7 324.7L392.0 323.9M390.0 366.4L389.7 365.6L389.4 364.7L389.1 363.9L388.8 363.0L388.5 362.1L388.2 361.2L388.0 360.3L387.8 359.4L387.5 358.5L387.3 357.6L387.1 356.7L387.0 355.8L386.8 354.8L386.7 353.9L386.5 352.9L386.4 352.0L386.3 351.0L386.2 350.1L386.1 349.1L386.1 348.1L386.0 347.2L386.0 346.2L386.0 345.3L386.0 344.3L386.0 343.3L386.0 342.4L386.1 341.4L386.1 340.4L386.2 339.5L386.3 338.5L386.4 337.6L386.5 336.6L386.6 335.7L386.8 334.7L386.9 333.8L387.1 332.8L387.3 331.9L387.5 331.0L387.7 330.1L388.0 329.2L388.2 328.3L388.5 327.4L388.7 326.5L389.0 325.6L389.3 324.8L389.6 323.9L389.9 323.1L390.3 322.2M388.1 368.1L387.8 367.2L387.5 366.3L387.2 365.4L386.9 364.4L386.7 363.5L386.4 362.5L386.2 361.5L386.0 360.6L385.7 359.6L385.5 358.6L385.3 357.6L385.2 356.6L385.0 355.6L384.9 354.5L384.7 353.5L384.6 352.5L384.5 351.5L384.4 350.5L384.3 349.4L384.3 348.4L384.2 347.4L384.2 346.3L384.2 345.3L384.2 344.2L384.2 343.2L384.2 342.2L384.3 341.1L384.3 340.1L384.4 339.1L384.5 338.0L384.6 337.0L384.7 336.0L384.8 335.0L385.0 333.9L385.1 332.9L385.3 331.9L385.5 330.9L385.7 329.9L385.9 329.0L386.1 328.0L386.4 327.0L386.6 326.0L386.9 325.1L387.2 324.1L387.5 323.2L387.8 322.3L388.1 321.3L388.4 320.4M386.2 369.9L385.9 369.0L385.6 367.9L385.3 366.9L385.0 365.9L384.7 364.9L384.5 363.8L384.3 362.8L384.0 361.7L383.8 360.7L383.6 359.6L383.4 358.5L383.3 357.4L383.1 356.4L383.0 355.3L382.8 354.2L382.7 353.1L382.6 352.0L382.5 350.9L382.4 349.8L382.4 348.6L382.3 347.5L382.3 346.4L382.3 345.3L382.3 344.2L382.3 343.1L382.3 342.0L382.4 340.8L382.4 339.7L382.5 338.6L382.6 337.5L382.7 336.4L382.8 335.3L382.9 334.2L383.1 333.1L383.2 332.0L383.4 331.0L383.6 329.9L383.8 328.8L384.0 327.8L384.2 326.7L384.5 325.6L384.7 324.6L385.0 323.6L385.2 322.5L385.5 321.5L385.8 320.5L386.1 319.5L386.4 318.5M384.1 371.8L383.8 370.8L383.5 369.7L383.2 368.6L383.0 367.5L382.7 366.4L382.5 365.2L382.2 364.1L382.0 363.0L381.8 361.8L381.6 360.7L381.4 359.5L381.3 358.4L381.1 357.2L381.0 356.0L380.8 354.8L380.7 353.7L380.6 352.5L380.5 351.3L380.5 350.1L380.4 348.9L380.4 347.7L380.3 346.5L380.3 345.3L380.3 344.1L380.3 342.9L380.3 341.7L380.4 340.6L380.4 339.4L380.5 338.2L380.6 337.0L380.7 335.8L380.8 334.6L380.9 333.4L381.1 332.3L381.2 331.1L381.4 329.9L381.6 328.8L381.8 327.6L382.0 326.5L382.2 325.3L382.4 324.2L382.7 323.1L382.9 322.0L383.2 320.9L383.5 319.8L383.8 318.7L384.1 317.6L384.4 316.5M381.9 373.8L381.6 372.7L381.3 371.5L381.1 370.3L380.8 369.1L380.6 367.9L380.3 366.7L380.1 365.5L379.9 364.3L379.7 363.0L379.5 361.8L379.3 360.6L379.1 359.3L379.0 358.1L378.8 356.8L378.7 355.5L378.6 354.3L378.5 353.0L378.4 351.7L378.4 350.5L378.3 349.2L378.3 347.9L378.2 346.6L378.2 345.4L378.2 344.1L378.2 342.8L378.3 341.5L378.3 340.2L378.3 339.0L378.4 337.7L378.5 336.4L378.6 335.2L378.7 333.9L378.8 332.6L379.0 331.4L379.1 330.1L379.3 328.9L379.5 327.6L379.6 326.4L379.8 325.2L380.1 323.9L380.3 322.7L380.5 321.5L380.8 320.3L381.0 319.1L381.3 317.9L381.6 316.7L381.9 315.6L382.2 314.4M379.6 376.0L379.3 374.7L379.1 373.4L378.8 372.2L378.5 370.9L378.3 369.6L378.1 368.3L377.8 367.0L377.6 365.6L377.4 364.3L377.2 363.0L377.1 361.7L376.9 360.3L376.8 359.0L376.6 357.6L376.5 356.3L376.4 354.9L376.3 353.6L376.2 352.2L376.1 350.9L376.1 349.5L376.0 348.1L376.0 346.8L376.0 345.4L376.0 344.0L376.0 342.6L376.0 341.3L376.1 339.9L376.1 338.5L376.2 337.2L376.3 335.8L376.4 334.5L376.5 333.1L376.6 331.8L376.7 330.4L376.9 329.1L377.0 327.7L377.2 326.4L377.4 325.1L377.6 323.7L377.8 322.4L378.0 321.1L378.3 319.8L378.5 318.5L378.8 317.2L379.0 316.0L379.3 314.7L379.6 313.4L379.9 312.2M377.2 378.2L376.9 376.8L376.7 375.4L376.4 374.1L376.2 372.7L375.9 371.3L375.7 369.9L375.5 368.5L375.3 367.1L375.1 365.7L374.9 364.3L374.7 362.8L374.6 361.4L374.4 360.0L374.3 358.5L374.2 357.1L374.1 355.6L374.0 354.2L373.9 352.7L373.8 351.3L373.8 349.8L373.7 348.3L373.7 346.9L373.7 345.4L373.7 344.0L373.7 342.5L373.7 341.0L373.8 339.6L373.8 338.1L373.9 336.7L374.0 335.2L374.1 333.7L374.2 332.3L374.3 330.8L374.4 329.4L374.5 328.0L374.7 326.5L374.9 325.1L375.0 323.7L375.2 322.3L375.4 320.9L375.7 319.5L375.9 318.1L376.1 316.7L376.4 315.3L376.6 313.9L376.9 312.5L377.2 311.2L377.5 309.8M374.7 380.5L374.4 379.0L374.1 377.6L373.9 376.1L373.6 374.6L373.4 373.1L373.2 371.6L373.0 370.1L372.8 368.6L372.6 367.1L372.4 365.6L372.3 364.0L372.1 362.5L372.0 361.0L371.8 359.4L371.7 357.9L371.6 356.3L371.5 354.8L371.5 353.2L371.4 351.7L371.3 350.1L371.3 348.6L371.3 347.0L371.3 345.4L371.3 343.9L371.3 342.3L371.3 340.8L371.3 339.2L371.4 337.7L371.4 336.1L371.5 334.5L371.6 333.0L371.7 331.4L371.8 329.9L371.9 328.4L372.1 326.8L372.2 325.3L372.4 323.8L372.6 322.2L372.8 320.7L373.0 319.2L373.2 317.7L373.4 316.2L373.6 314.7L373.9 313.2L374.1 311.8L374.4 310.3L374.6 308.8L374.9 307.4M372.0 382.9L371.8 381.4L371.5 379.8L371.3 378.2L371.0 376.6L370.8 375.0L370.6 373.4L370.4 371.8L370.2 370.2L370.0 368.6L369.8 367.0L369.7 365.3L369.5 363.7L369.4 362.0L369.3 360.4L369.2 358.8L369.1 357.1L369.0 355.4L368.9 353.8L368.8 352.1L368.8 350.5L368.8 348.8L368.7 347.1L368.7 345.5L368.7 343.8L368.7 342.2L368.7 340.5L368.8 338.8L368.8 337.2L368.9 335.5L369.0 333.9L369.1 332.2L369.2 330.5L369.3 328.9L369.4 327.3L369.5 325.6L369.7 324.0L369.8 322.3L370.0 320.7L370.2 319.1L370.4 317.5L370.6 315.9L370.8 314.3L371.0 312.7L371.2 311.1L371.5 309.5L371.7 307.9L372.0 306.4L372.3 304.8M369.3 385.5L369.0 383.8L368.8 382.1L368.5 380.4L368.3 378.7L368.1 377.0L367.9 375.3L367.7 373.6L367.5 371.9L367.3 370.1L367.1 368.4L367.0 366.7L366.9 364.9L366.7 363.2L366.6 361.4L366.5 359.7L366.4 357.9L366.3 356.1L366.2 354.4L366.2 352.6L366.1 350.8L366.1 349.1L366.1 347.3L366.1 345.5L366.1 343.7L366.1 342.0L366.1 340.2L366.1 338.4L366.2 336.7L366.2 334.9L366.3 333.1L366.4 331.4L366.5 329.6L366.6 327.9L366.7 326.1L366.8 324.4L367.0 322.6L367.1 320.9L367.3 319.1L367.5 317.4L367.6 315.7L367.8 314.0L368.0 312.2L368.3 310.5L368.5 308.8L368.7 307.2L369.0 305.5L369.2 303.8L369.5 302.1M366.4 388.1L366.1 386.3L365.9 384.5L365.7 382.7L365.4 380.9L365.2 379.1L365.0 377.3L364.8 375.4L364.7 373.6L364.5 371.7L364.3 369.9L364.2 368.0L364.0 366.2L363.9 364.3L363.8 362.5L363.7 360.6L363.6 358.7L363.5 356.8L363.5 355.0L363.4 353.1L363.4 351.2L363.3 349.3L363.3 347.4L363.3 345.6L363.3 343.7L363.3 341.8L363.3 339.9L363.3 338.0L363.4 336.1L363.4 334.3L363.5 332.4L363.6 330.5L363.7 328.6L363.8 326.8L363.9 324.9L364.0 323.0L364.2 321.2L364.3 319.3L364.5 317.5L364.6 315.6L364.8 313.8L365.0 312.0L365.2 310.1L365.4 308.3L365.6 306.5L365.9 304.7L366.1 302.9L366.3 301.1L366.6 299.3M363.4 390.9L363.1 389.0L362.9 387.0L362.7 385.1L362.5 383.2L362.3 381.2L362.1 379.3L361.9 377.3L361.7 375.4L361.6 373.4L361.4 371.5L361.3 369.5L361.1 367.5L361.0 365.5L360.9 363.6L360.8 361.6L360.7 359.6L360.6 357.6L360.6 355.6L360.5 353.6L360.5 351.6L360.4 349.6L360.4 347.6L360.4 345.6L360.4 343.6L360.4 341.6L360.4 339.6L360.5 337.6L360.5 335.6L360.6 333.6L360.6 331.6L360.7 329.6L360.8 327.6L360.9 325.6L361.0 323.7L361.1 321.7L361.2 319.7L361.4 317.7L361.5 315.8L361.7 313.8L361.9 311.8L362.0 309.9L362.2 307.9L362.4 306.0L362.6 304.1L362.9 302.1L363.1 300.2L363.3 298.3L363.6 296.4M360.2 393.7L360.0 391.7L359.8 389.6L359.6 387.6L359.4 385.5L359.2 383.5L359.0 381.4L358.8 379.3L358.7 377.3L358.5 375.2L358.4 373.1L358.2 371.0L358.1 368.9L358.0 366.8L357.9 364.7L357.8 362.6L357.7 360.5L357.6 358.4L357.6 356.2L357.5 354.1L357.5 352.0L357.4 349.9L357.4 347.8L357.4 345.6L357.4 343.5L357.4 341.4L357.4 339.3L357.5 337.1L357.5 335.0L357.5 332.9L357.6 330.8L357.7 328.7L357.8 326.6L357.9 324.5L358.0 322.4L358.1 320.3L358.2 318.2L358.3 316.1L358.5 314.0L358.6 311.9L358.8 309.8L359.0 307.7L359.2 305.7L359.4 303.6L359.6 301.5L359.8 299.5L360.0 297.4L360.2 295.4L360.4 293.4M357.0 396.7L356.8 394.5L356.6 392.4L356.4 390.2L356.2 388.0L356.0 385.8L355.8 383.6L355.7 381.4L355.5 379.2L355.4 377.0L355.2 374.8L355.1 372.5L355.0 370.3L354.9 368.1L354.8 365.9L354.7 363.6L354.6 361.4L354.5 359.2L354.4 356.9L354.4 354.7L354.3 352.4L354.3 350.2L354.3 347.9L354.3 345.7L354.3 343.4L354.3 341.2L354.3 338.9L354.3 336.7L354.4 334.4L354.4 332.2L354.5 330.0L354.6 327.7L354.6 325.5L354.7 323.2L354.8 321.0L354.9 318.8L355.1 316.6L355.2 314.3L355.3 312.1L355.5 309.9L355.6 307.7L355.8 305.5L356.0 303.3L356.2 301.1L356.3 298.9L356.5 296.7L356.8 294.6L357.0 292.4L357.2 290.2M353.7 399.8L353.5 397.5L353.3 395.2L353.1 392.8L352.9 390.5L352.7 388.2L352.5 385.9L352.4 383.5L352.2 381.2L352.1 378.9L352.0 376.5L351.8 374.2L351.7 371.8L351.6 369.4L351.5 367.1L351.4 364.7L351.3 362.3L351.3 360.0L351.2 357.6L351.2 355.2L351.1 352.9L351.1 350.5L351.1 348.1L351.1 345.7L351.1 343.3L351.1 341.0L351.1 338.6L351.1 336.2L351.2 333.8L351.2 331.5L351.3 329.1L351.3 326.7L351.4 324.4L351.5 322.0L351.6 319.6L351.7 317.3L351.8 314.9L351.9 312.6L352.1 310.2L352.2 307.9L352.4 305.5L352.5 303.2L352.7 300.9L352.9 298.5L353.0 296.2L353.2 293.9L353.4 291.6L353.6 289.3L353.8 287.0M350.2 402.9L350.0 400.5L349.8 398.0L349.6 395.6L349.5 393.1L349.3 390.7L349.1 388.2L349.0 385.7L348.9 383.3L348.7 380.8L348.6 378.3L348.5 375.8L348.4 373.3L348.3 370.8L348.2 368.3L348.1 365.8L348.0 363.3L348.0 360.8L347.9 358.3L347.9 355.8L347.8 353.3L347.8 350.8L347.8 348.3L347.8 345.8L347.8 343.3L347.8 340.7L347.8 338.2L347.8 335.7L347.8 333.2L347.9 330.7L347.9 328.2L348.0 325.7L348.1 323.2L348.2 320.7L348.3 318.2L348.4 315.7L348.5 313.2L348.6 310.7L348.7 308.2L348.8 305.7L349.0 303.3L349.1 300.8L349.3 298.3L349.4 295.9L349.6 293.4L349.8 291.0L350.0 288.5L350.2 286.1L350.4 283.6M346.7 406.2L346.5 403.6L346.3 401.0L346.1 398.4L346.0 395.8L345.8 393.2L345.7 390.6L345.5 388.0L345.4 385.4L345.2 382.8L345.1 380.2L345.0 377.5L344.9 374.9L344.8 372.3L344.7 369.6L344.7 367.0L344.6 364.3L344.5 361.7L344.5 359.1L344.4 356.4L344.4 353.8L344.4 351.1L344.4 348.5L344.3 345.8L344.3 343.2L344.3 340.5L344.4 337.9L344.4 335.2L344.4 332.6L344.5 329.9L344.5 327.3L344.6 324.6L344.6 322.0L344.7 319.3L344.8 316.7L344.9 314.1L345.0 311.4L345.1 308.8L345.2 306.2L345.4 303.6L345.5 301.0L345.6 298.3L345.8 295.7L345.9 293.1L346.1 290.5L346.3 287.9L346.4 285.4L346.6 282.8L346.8 280.2M343.0 409.5L342.8 406.8L342.7 404.1L342.5 401.3L342.3 398.6L342.2 395.9L342.1 393.1L341.9 390.3L341.8 387.6L341.7 384.8L341.6 382.1L341.5 379.3L341.4 376.5L341.3 373.7L341.2 371.0L341.1 368.2L341.1 365.4L341.0 362.6L341.0 359.8L340.9 357.0L340.9 354.2L340.9 351.4L340.8 348.7L340.8 345.9L340.8 343.1L340.8 340.3L340.9 337.5L340.9 334.7L340.9 331.9L341.0 329.1L341.0 326.3L341.1 323.5L341.1 320.8L341.2 318.0L341.3 315.2L341.4 312.4L341.5 309.6L341.6 306.9L341.7 304.1L341.8 301.3L341.9 298.6L342.0 295.8L342.2 293.1L342.3 290.3L342.5 287.6L342.6 284.8L342.8 282.1L343.0 279.4L343.1 276.7M339.3 413.0L339.1 410.1L338.9 407.2L338.8 404.3L338.6 401.4L338.5 398.5L338.4 395.6L338.3 392.7L338.1 389.8L338.0 386.9L337.9 384.0L337.8 381.1L337.7 378.2L337.7 375.2L337.6 372.3L337.5 369.4L337.5 366.5L337.4 363.5L337.4 360.6L337.3 357.7L337.3 354.7L337.3 351.8L337.2 348.8L337.2 345.9L337.2 343.0L337.2 340.0L337.3 337.1L337.3 334.2L337.3 331.2L337.3 328.3L337.4 325.4L337.4 322.4L337.5 319.5L337.6 316.6L337.6 313.6L337.7 310.7L337.8 307.8L337.9 304.9L338.0 302.0L338.1 299.0L338.2 296.1L338.4 293.2L338.5 290.3L338.6 287.4L338.8 284.5L338.9 281.7L339.1 278.8L339.2 275.9L339.4 273.0M335.4 416.5L335.3 413.5L335.1 410.4L335.0 407.4L334.9 404.3L334.7 401.3L334.6 398.2L334.5 395.2L334.4 392.1L334.3 389.1L334.2 386.0L334.1 382.9L334.0 379.9L333.9 376.8L333.9 373.7L333.8 370.6L333.8 367.5L333.7 364.5L333.7 361.4L333.6 358.3L333.6 355.2L333.6 352.1L333.6 349.0L333.6 346.0L333.6 342.9L333.6 339.8L333.6 336.7L333.6 333.6L333.6 330.5L333.7 327.4L333.7 324.4L333.7 321.3L333.8 318.2L333.9 315.1L333.9 312.0L334.0 309.0L334.1 305.9L334.2 302.8L334.3 299.8L334.4 296.7L334.5 293.6L334.6 290.6L334.7 287.5L334.8 284.5L335.0 281.4L335.1 278.4L335.3 275.4L335.4 272.3L335.6 269.3M331.5 420.1L331.4 416.9L331.2 413.7L331.1 410.5L331.0 407.3L330.9 404.1L330.8 400.9L330.7 397.7L330.6 394.5L330.5 391.2L330.4 388.0L330.3 384.8L330.2 381.6L330.2 378.4L330.1 375.1L330.0 371.9L330.0 368.7L329.9 365.4L329.9 362.2L329.9 359.0L329.8 355.7L329.8 352.5L329.8 349.2L329.8 346.0L329.8 342.8L329.8 339.5L329.8 336.3L329.8 333.1L329.9 329.8L329.9 326.6L329.9 323.3L330.0 320.1L330.0 316.9L330.1 313.6L330.1 310.4L330.2 307.2L330.3 304.0L330.4 300.7L330.5 297.5L330.6 294.3L330.6 291.1L330.8 287.9L330.9 284.7L331.0 281.5L331.1 278.3L331.2 275.1L331.4 271.9L331.5 268.7L331.6 265.5M327.5 423.7L327.4 420.4L327.3 417.0L327.2 413.7L327.1 410.3L326.9 407.0L326.8 403.6L326.8 400.2L326.7 396.9L326.6 393.5L326.5 390.1L326.4 386.7L326.4 383.3L326.3 380.0L326.2 376.6L326.2 373.2L326.1 369.8L326.1 366.4L326.1 363.0L326.0 359.6L326.0 356.2L326.0 352.8L326.0 349.5L326.0 346.1L326.0 342.7L326.0 339.3L326.0 335.9L326.0 332.5L326.0 329.1L326.1 325.7L326.1 322.3L326.1 318.9L326.2 315.5L326.2 312.1L326.3 308.8L326.3 305.4L326.4 302.0L326.5 298.6L326.6 295.2L326.7 291.9L326.7 288.5L326.8 285.1L326.9 281.8L327.0 278.4L327.1 275.0L327.3 271.7L327.4 268.3L327.5 265.0L327.6 261.6M323.5 427.4L323.4 423.9L323.2 420.4L323.1 416.9L323.0 413.4L323.0 409.9L322.9 406.3L322.8 402.8L322.7 399.3L322.6 395.8L322.5 392.2L322.5 388.7L322.4 385.1L322.4 381.6L322.3 378.1L322.3 374.5L322.2 371.0L322.2 367.4L322.2 363.9L322.1 360.3L322.1 356.8L322.1 353.2L322.1 349.7L322.1 346.1L322.1 342.6L322.1 339.0L322.1 335.5L322.1 331.9L322.1 328.4L322.1 324.8L322.2 321.3L322.2 317.7L322.3 314.2L322.3 310.6L322.4 307.1L322.4 303.5L322.5 300.0L322.5 296.5L322.6 292.9L322.7 289.4L322.8 285.9L322.8 282.3L322.9 278.8L323.0 275.3L323.1 271.8L323.2 268.2L323.3 264.7L323.4 261.2L323.6 257.7M319.3 431.2L319.2 427.6L319.1 423.9L319.1 420.2L319.0 416.5L318.9 412.8L318.8 409.1L318.7 405.4L318.7 401.8L318.6 398.1L318.5 394.4L318.5 390.7L318.4 387.0L318.4 383.3L318.3 379.6L318.3 375.8L318.2 372.1L318.2 368.4L318.2 364.7L318.2 361.0L318.1 357.3L318.1 353.6L318.1 349.9L318.1 346.2L318.1 342.5L318.1 338.7L318.1 335.0L318.1 331.3L318.2 327.6L318.2 323.9L318.2 320.2L318.2 316.5L318.3 312.8L318.3 309.1L318.4 305.4L318.4 301.7L318.5 298.0L318.5 294.3L318.6 290.6L318.7 286.9L318.7 283.2L318.8 279.5L318.9 275.8L319.0 272.1L319.0 268.4L319.1 264.7L319.2 261.1L319.3 257.4L319.4 253.7M315.2 435.1L315.1 431.2L315.0 427.4L314.9 423.5L314.8 419.7L314.8 415.8L314.7 412.0L314.6 408.1L314.6 404.3L314.5 400.4L314.5 396.5L314.4 392.7L314.4 388.8L314.3 384.9L314.3 381.1L314.2 377.2L314.2 373.3L314.2 369.5L314.2 365.6L314.1 361.7L314.1 357.8L314.1 354.0L314.1 350.1L314.1 346.2L314.1 342.3L314.1 338.5L314.1 334.6L314.1 330.7L314.1 326.8L314.2 323.0L314.2 319.1L314.2 315.2L314.2 311.4L314.3 307.5L314.3 303.6L314.4 299.8L314.4 295.9L314.5 292.0L314.5 288.2L314.6 284.3L314.6 280.4L314.7 276.6L314.8 272.7L314.8 268.9L314.9 265.0L315.0 261.2L315.1 257.3L315.1 253.5L315.2 249.7M310.9 438.9L310.9 434.9L310.8 430.9L310.7 426.9L310.7 422.9L310.6 418.9L310.5 414.8L310.5 410.8L310.4 406.8L310.4 402.8L310.3 398.7L310.3 394.7L310.3 390.7L310.2 386.6L310.2 382.6L310.2 378.6L310.1 374.5L310.1 370.5L310.1 366.5L310.1 362.4L310.1 358.4L310.0 354.4L310.0 350.3L310.0 346.3L310.0 342.2L310.0 338.2L310.0 334.2L310.0 330.1L310.1 326.1L310.1 322.0L310.1 318.0L310.1 314.0L310.1 309.9L310.2 305.9L310.2 301.9L310.2 297.8L310.3 293.8L310.3 289.8L310.4 285.7L310.4 281.7L310.5 277.7L310.5 273.7L310.6 269.6L310.6 265.6L310.7 261.6L310.8 257.6L310.8 253.6L310.9 249.6L311.0 245.5M306.6 442.9L306.6 438.7L306.5 434.5L306.5 430.3L306.4 426.1L306.4 421.9L306.3 417.7L306.3 413.6L306.2 409.4L306.2 405.2L306.2 401.0L306.1 396.8L306.1 392.6L306.1 388.4L306.0 384.2L306.0 380.0L306.0 375.8L306.0 371.6L306.0 367.4L305.9 363.2L305.9 358.9L305.9 354.7L305.9 350.5L305.9 346.3L305.9 342.1L305.9 337.9L305.9 333.7L305.9 329.5L305.9 325.3L306.0 321.1L306.0 316.9L306.0 312.7L306.0 308.5L306.0 304.3L306.1 300.1L306.1 295.9L306.1 291.7L306.2 287.5L306.2 283.3L306.2 279.1L306.3 274.9L306.3 270.7L306.4 266.5L306.4 262.3L306.5 258.1L306.5 253.9L306.6 249.8L306.6 245.6L306.7 241.4M302.3 446.8L302.3 442.5L302.2 438.1L302.2 433.8L302.1 429.4L302.1 425.0L302.1 420.7L302.0 416.3L302.0 412.0L302.0 407.6L301.9 403.2L301.9 398.9L301.9 394.5L301.9 390.1L301.9 385.7L301.8 381.4L301.8 377.0L301.8 372.6L301.8 368.3L301.8 363.9L301.8 359.5L301.8 355.1L301.8 350.8L301.8 346.4L301.8 342.0L301.8 337.6L301.8 333.3L301.8 328.9L301.8 324.5L301.8 320.1L301.8 315.8L301.8 311.4L301.8 307.0L301.8 302.7L301.9 298.3L301.9 293.9L301.9 289.5L301.9 285.2L302.0 280.8L302.0 276.4L302.0 272.1L302.1 267.7L302.1 263.3L302.1 259.0L302.2 254.6L302.2 250.3L302.3 245.9L302.3 241.5L302.3 237.2M297.9 450.9L297.9 446.3L297.9 441.8L297.9 437.3L297.8 432.7L297.8 428.2L297.8 423.6L297.8 419.1L297.7 414.6L297.7 410.0L297.7 405.5L297.7 401.0L297.7 396.4L297.6 391.9L297.6 387.3L297.6 382.8L297.6 378.2L297.6 373.7L297.6 369.2L297.6 364.6L297.6 360.1L297.6 355.5L297.6 351.0L297.6 346.4L297.6 341.9L297.6 337.4L297.6 332.8L297.6 328.3L297.6 323.7L297.6 319.2L297.6 314.6L297.6 310.1L297.6 305.6L297.6 301.0L297.6 296.5L297.7 291.9L297.7 287.4L297.7 282.8L297.7 278.3L297.7 273.8L297.8 269.2L297.8 264.7L297.8 260.2L297.8 255.6L297.9 251.1L297.9 246.6L297.9 242.0L297.9 237.5L298.0 233.0M293.5 454.9L293.5 450.2L293.5 445.5L293.5 440.8L293.5 436.1L293.5 431.3L293.4 426.6L293.4 421.9L293.4 417.2L293.4 412.5L293.4 407.8L293.4 403.1L293.4 398.4L293.4 393.6L293.4 388.9L293.4 384.2L293.4 379.5L293.3 374.8L293.3 370.1L293.3 365.4L293.3 360.6L293.3 355.9L293.3 351.2L293.3 346.5L293.3 341.8L293.3 337.1L293.3 332.4L293.3 327.6L293.3 322.9L293.3 318.2L293.3 313.5L293.4 308.8L293.4 304.1L293.4 299.4L293.4 294.6L293.4 289.9L293.4 285.2L293.4 280.5L293.4 275.8L293.4 271.1L293.4 266.4L293.4 261.7L293.5 256.9L293.5 252.2L293.5 247.5L293.5 242.8L293.5 238.1L293.5 233.4L293.6 228.7M289.1 459.0L289.1 454.1L289.1 449.2L289.1 444.3L289.1 439.4L289.1 434.5L289.1 429.6L289.1 424.8L289.1 419.9L289.1 415.0L289.1 410.1L289.1 405.2L289.1 400.3L289.1 395.4L289.1 390.5L289.1 385.7L289.1 380.8L289.1 375.9L289.1 371.0L289.1 366.1L289.1 361.2L289.1 356.3L289.1 351.4L289.1 346.6L289.1 341.7L289.1 336.8L289.1 331.9L289.1 327.0L289.1 322.1L289.1 317.2L289.1 312.3L289.1 307.5L289.1 302.6L289.1 297.7L289.1 292.8L289.1 287.9L289.1 283.0L289.1 278.1L289.1 273.2L289.1 268.4L289.1 263.5L289.1 258.6L289.1 253.7L289.1 248.8L289.1 243.9L289.1 239.0L289.1 234.2L289.1 229.3L289.1 224.4M284.6 463.1L284.6 458.0L284.7 452.9L284.7 447.9L284.7 442.8L284.7 437.7L284.7 432.7L284.7 427.6L284.7 422.5L284.7 417.5L284.7 412.4L284.7 407.4L284.7 402.3L284.8 397.2L284.8 392.2L284.8 387.1L284.8 382.0L284.8 377.0L284.8 371.9L284.8 366.9L284.8 361.8L284.8 356.7L284.8 351.7L284.8 346.6L284.8 341.6L284.8 336.5L284.8 331.4L284.8 326.4L284.8 321.3L284.8 316.2L284.8 311.2L284.8 306.1L284.8 301.1L284.8 296.0L284.8 290.9L284.7 285.9L284.7 280.8L284.7 275.8L284.7 270.7L284.7 265.6L284.7 260.6L284.7 255.5L284.7 250.4L284.7 245.4L284.7 240.3L284.7 235.2L284.6 230.2L284.6 225.1L284.6 220.0M280.1 467.2L280.2 461.9L280.2 456.7L280.2 451.4L280.2 446.2L280.3 441.0L280.3 435.7L280.3 430.5L280.3 425.2L280.3 420.0L280.4 414.7L280.4 409.5L280.4 404.3L280.4 399.0L280.4 393.8L280.4 388.6L280.4 383.3L280.4 378.1L280.5 372.8L280.5 367.6L280.5 362.4L280.5 357.1L280.5 351.9L280.5 346.7L280.5 341.4L280.5 336.2L280.5 331.0L280.5 325.7L280.5 320.5L280.5 315.3L280.4 310.0L280.4 304.8L280.4 299.5L280.4 294.3L280.4 289.1L280.4 283.8L280.4 278.6L280.4 273.4L280.3 268.1L280.3 262.9L280.3 257.6L280.3 252.4L280.3 247.2L280.2 241.9L280.2 236.7L280.2 231.4L280.2 226.2L280.1 220.9L280.1 215.7M275.6 471.3L275.7 465.9L275.7 460.5L275.7 455.0L275.8 449.6L275.8 444.2L275.8 438.8L275.9 433.3L275.9 427.9L275.9 422.5L276.0 417.1L276.0 411.7L276.0 406.3L276.0 400.9L276.1 395.4L276.1 390.0L276.1 384.6L276.1 379.2L276.1 373.8L276.1 368.4L276.1 363.0L276.1 357.6L276.1 352.1L276.1 346.7L276.1 341.3L276.1 335.9L276.1 330.5L276.1 325.1L276.1 319.7L276.1 314.3L276.1 308.9L276.1 303.4L276.1 298.0L276.1 292.6L276.0 287.2L276.0 281.8L276.0 276.4L276.0 271.0L275.9 265.5L275.9 260.1L275.9 254.7L275.9 249.3L275.8 243.9L275.8 238.4L275.8 233.0L275.7 227.6L275.7 222.2L275.6 216.7L275.6 211.3M271.1 475.5L271.2 469.9L271.2 464.3L271.3 458.6L271.3 453.0L271.3 447.4L271.4 441.8L271.4 436.2L271.5 430.6L271.5 425.1L271.5 419.5L271.6 413.9L271.6 408.3L271.6 402.7L271.7 397.1L271.7 391.5L271.7 385.9L271.7 380.3L271.7 374.7L271.8 369.1L271.8 363.6L271.8 358.0L271.8 352.4L271.8 346.8L271.8 341.2L271.8 335.6L271.8 330.0L271.8 324.4L271.8 318.9L271.7 313.3L271.7 307.7L271.7 302.1L271.7 296.5L271.7 290.9L271.6 285.3L271.6 279.7L271.6 274.1L271.6 268.5L271.5 262.9L271.5 257.3L271.4 251.7L271.4 246.1L271.4 240.5L271.3 234.9L271.3 229.3L271.2 223.7L271.2 218.1L271.1 212.5L271.0 206.9M266.5 479.6L266.6 473.9L266.7 468.1L266.7 462.3L266.8 456.5L266.9 450.7L266.9 444.9L267.0 439.1L267.0 433.4L267.1 427.6L267.1 421.8L267.2 416.1L267.2 410.3L267.2 404.5L267.3 398.7L267.3 393.0L267.3 387.2L267.3 381.4L267.4 375.7L267.4 369.9L267.4 364.1L267.4 358.4L267.4 352.6L267.4 346.8L267.4 341.1L267.4 335.3L267.4 329.6L267.4 323.8L267.4 318.0L267.4 312.3L267.3 306.5L267.3 300.7L267.3 295.0L267.3 289.2L267.2 283.4L267.2 277.7L267.2 271.9L267.1 266.1L267.1 260.3L267.0 254.6L267.0 248.8L266.9 243.0L266.9 237.2L266.8 231.4L266.8 225.7L266.7 219.9L266.6 214.1L266.6 208.3L266.5 202.5M262.0 483.8L262.1 477.9L262.1 471.9L262.2 465.9L262.3 460.0L262.4 454.0L262.4 448.0L262.5 442.1L262.6 436.1L262.6 430.2L262.7 424.2L262.7 418.2L262.8 412.3L262.8 406.3L262.8 400.4L262.9 394.5L262.9 388.5L262.9 382.6L263.0 376.6L263.0 370.7L263.0 364.7L263.0 358.8L263.0 352.8L263.0 346.9L263.0 341.0L263.0 335.0L263.0 329.1L263.0 323.1L263.0 317.2L263.0 311.3L262.9 305.3L262.9 299.4L262.9 293.4L262.9 287.5L262.8 281.5L262.8 275.6L262.7 269.6L262.7 263.7L262.6 257.7L262.6 251.8L262.5 245.8L262.4 239.8L262.4 233.9L262.3 227.9L262.2 222.0L262.2 216.0L262.1 210.0L262.0 204.0L261.9 198.1" fill="none" stroke="#0a5514" stroke-width="0.75" stroke-opacity="0.6"/>
<g mask="url(#mk2)"><path d="M406.5 338.0L407.0 337.5L407.5 337.1L408.0 336.7L408.5 336.4L409.1 336.1L409.6 335.8L410.2 335.6L410.8 335.4L411.4 335.2L412.1 335.1L412.7 335.0L413.3 335.0L414.0 335.0L414.6 335.0L415.2 335.1L415.8 335.2L416.5 335.4L417.1 335.6L417.6 335.8L418.2 336.1L418.8 336.4L419.3 336.8L419.8 337.2L420.3 337.6M405.5 337.0L406.1 336.5L406.6 336.0L407.2 335.6L407.8 335.2L408.4 334.9L409.1 334.5L409.8 334.3L410.4 334.1L411.1 333.9L411.8 333.7L412.6 333.6L413.3 333.6L414.0 333.6L414.7 333.7L415.4 333.8L416.2 333.9L416.9 334.1L417.5 334.3L418.2 334.6L418.9 334.9L419.5 335.3L420.1 335.7L420.7 336.1L421.2 336.6M404.4 335.9L405.0 335.3L405.6 334.8L406.3 334.3L407.0 333.9L407.7 333.5L408.5 333.1L409.2 332.8L410.0 332.5L410.8 332.3L411.6 332.2L412.4 332.1L413.2 332.0L414.1 332.0L414.9 332.1L415.7 332.2L416.5 332.4L417.3 332.6L418.1 332.8L418.8 333.2L419.6 333.5L420.3 333.9L421.0 334.4L421.6 334.9L422.3 335.4M403.1 334.7L403.8 334.0L404.5 333.4L405.3 332.9L406.1 332.4L406.9 331.9L407.7 331.5L408.6 331.1L409.5 330.8L410.4 330.6L411.3 330.4L412.3 330.3L413.2 330.3L414.1 330.3L415.1 330.3L416.0 330.4L416.9 330.6L417.8 330.9L418.7 331.2L419.6 331.5L420.4 331.9L421.2 332.4L422.0 332.9L422.8 333.5L423.5 334.1M401.7 333.3L402.5 332.5L403.3 331.8L404.1 331.2L405.0 330.6L406.0 330.1L406.9 329.6L407.9 329.2L408.9 328.9L410.0 328.6L411.0 328.4L412.1 328.3L413.1 328.2L414.2 328.2L415.3 328.3L416.3 328.5L417.4 328.7L418.4 328.9L419.4 329.3L420.4 329.7L421.4 330.2L422.3 330.7L423.2 331.3L424.0 331.9L424.8 332.6M399.4 331.1L400.4 330.4L401.4 329.7L402.4 329.0L403.5 328.4L404.6 327.9L405.7 327.4L406.9 327.0L408.1 326.7L409.3 326.4L410.5 326.2L411.8 326.1L413.0 326.0L414.3 326.0L415.5 326.1L416.7 326.2L418.0 326.5L419.2 326.7L420.4 327.1L421.5 327.5L422.7 328.0L423.8 328.5L424.8 329.1L425.9 329.7L426.9 330.4M396.7 328.5L397.9 327.8L399.1 327.1L400.4 326.4L401.6 325.9L403.0 325.4L404.3 324.9L405.7 324.5L407.1 324.2L408.5 323.9L410.0 323.7L411.4 323.6L412.9 323.5L414.3 323.5L415.8 323.6L417.2 323.7L418.7 324.0L420.1 324.2L421.5 324.6L422.9 325.0L424.2 325.4L425.5 325.9L426.8 326.5L428.1 327.2L429.3 327.9M393.7 325.5L395.1 324.8L396.6 324.2L398.0 323.6L399.6 323.0L401.1 322.5L402.7 322.1L404.3 321.7L406.0 321.4L407.6 321.1L409.3 320.9L411.0 320.8L412.7 320.7L414.4 320.7L416.1 320.8L417.8 320.9L419.4 321.1L421.1 321.4L422.7 321.7L424.4 322.1L426.0 322.6L427.5 323.1L429.0 323.6L430.5 324.3L432.0 324.9M390.3 322.2L392.0 321.5L393.7 320.9L395.4 320.3L397.2 319.8L399.1 319.3L400.9 318.9L402.8 318.5L404.7 318.2L406.7 317.9L408.6 317.8L410.6 317.6L412.5 317.6L414.5 317.6L416.4 317.6L418.4 317.8L420.3 318.0L422.3 318.2L424.2 318.5L426.0 318.9L427.9 319.4L429.7 319.8L431.5 320.4L433.3 321.0L435.0 321.6M386.4 318.5L388.4 317.9L390.5 317.3L392.5 316.7L394.6 316.2L396.8 315.7L398.9 315.3L401.1 314.9L403.3 314.6L405.6 314.4L407.8 314.2L410.1 314.1L412.3 314.0L414.6 314.0L416.8 314.1L419.1 314.2L421.3 314.4L423.5 314.7L425.7 315.0L427.9 315.3L430.1 315.8L432.2 316.2L434.3 316.8L436.4 317.3L438.4 318.0M382.2 314.4L384.5 313.8L386.9 313.2L389.3 312.6L391.7 312.1L394.2 311.7L396.7 311.3L399.2 311.0L401.8 310.7L404.3 310.5L406.9 310.3L409.5 310.2L412.1 310.1L414.7 310.1L417.2 310.2L419.8 310.3L422.4 310.5L425.0 310.7L427.5 311.0L430.0 311.4L432.5 311.8L435.0 312.2L437.4 312.7L439.8 313.3L442.2 313.9M377.5 309.8L380.2 309.2L382.9 308.7L385.7 308.2L388.5 307.7L391.4 307.3L394.2 306.9L397.1 306.6L400.0 306.3L403.0 306.1L405.9 305.9L408.9 305.8L411.8 305.8L414.8 305.8L417.7 305.8L420.7 305.9L423.6 306.1L426.5 306.3L429.5 306.6L432.3 306.9L435.2 307.3L438.1 307.7L440.9 308.2L443.6 308.7L446.4 309.3M372.3 304.8L375.4 304.2L378.6 303.7L381.8 303.2L385.0 302.8L388.2 302.4L391.5 302.0L394.8 301.7L398.1 301.5L401.5 301.3L404.8 301.1L408.2 301.0L411.5 301.0L414.9 301.0L418.3 301.0L421.6 301.1L424.9 301.3L428.3 301.5L431.6 301.8L434.9 302.1L438.2 302.4L441.4 302.8L444.7 303.3L447.8 303.8L451.0 304.3M366.6 299.3L370.2 298.8L373.8 298.3L377.4 297.9L381.1 297.4L384.8 297.1L388.6 296.7L392.3 296.5L396.1 296.2L399.8 296.0L403.6 295.9L407.4 295.8L411.2 295.7L415.0 295.7L418.8 295.8L422.6 295.9L426.4 296.0L430.2 296.2L433.9 296.5L437.7 296.8L441.4 297.1L445.1 297.5L448.8 297.9L452.4 298.4L456.0 298.9M360.4 293.4L364.5 292.9L368.6 292.4L372.8 292.0L376.9 291.6L381.1 291.3L385.3 291.0L389.6 290.7L393.8 290.5L398.1 290.3L402.3 290.2L406.6 290.1L410.9 290.1L415.2 290.1L419.4 290.1L423.7 290.2L428.0 290.4L432.2 290.5L436.5 290.8L440.7 291.0L444.9 291.3L449.1 291.7L453.3 292.1L457.4 292.5L461.5 293.0M353.8 287.0L358.5 286.6L363.1 286.1L367.8 285.8L372.4 285.4L377.2 285.1L381.9 284.8L386.6 284.6L391.4 284.4L396.2 284.2L400.9 284.1L405.7 284.0L410.5 284.0L415.3 284.0L420.1 284.0L424.9 284.1L429.7 284.3L434.4 284.4L439.2 284.6L443.9 284.9L448.7 285.1L453.4 285.5L458.1 285.8L462.7 286.2L467.4 286.6M346.8 280.2L352.0 279.8L357.2 279.4L362.4 279.1L367.7 278.8L372.9 278.5L378.2 278.3L383.5 278.1L388.8 277.9L394.1 277.7L399.5 277.6L404.8 277.6L410.1 277.5L415.5 277.5L420.8 277.6L426.2 277.6L431.5 277.8L436.8 277.9L442.1 278.1L447.4 278.3L452.7 278.5L457.9 278.8L463.2 279.1L468.4 279.5L473.6 279.9M339.4 273.0L345.2 272.7L351.0 272.4L356.8 272.1L362.6 271.8L368.5 271.6L374.3 271.3L380.2 271.2L386.1 271.0L392.0 270.9L397.9 270.8L403.8 270.7L409.7 270.7L415.7 270.7L421.6 270.7L427.5 270.8L433.4 270.9L439.3 271.0L445.2 271.2L451.0 271.4L456.9 271.6L462.8 271.8L468.6 272.1L474.4 272.4L480.2 272.7M331.6 265.5L338.0 265.2L344.4 264.9L350.9 264.7L357.3 264.5L363.8 264.3L370.3 264.1L376.8 263.9L383.3 263.8L389.8 263.7L396.3 263.6L402.8 263.6L409.3 263.5L415.8 263.5L422.3 263.6L428.9 263.6L435.4 263.7L441.9 263.8L448.4 263.9L454.9 264.1L461.3 264.3L467.8 264.5L474.2 264.7L480.7 265.0L487.1 265.3M323.6 257.7L330.6 257.5L337.7 257.2L344.8 257.0L351.8 256.9L358.9 256.7L366.1 256.5L373.2 256.4L380.3 256.3L387.4 256.2L394.6 256.2L401.7 256.1L408.9 256.1L416.0 256.1L423.2 256.1L430.3 256.2L437.4 256.2L444.6 256.3L451.7 256.4L458.8 256.6L465.9 256.7L473.0 256.9L480.1 257.1L487.2 257.3L494.3 257.5M315.2 249.7L323.0 249.5L330.7 249.3L338.4 249.1L346.2 249.0L353.9 248.9L361.7 248.8L369.5 248.7L377.3 248.6L385.0 248.5L392.8 248.5L400.6 248.4L408.4 248.4L416.2 248.4L424.0 248.4L431.8 248.5L439.6 248.5L447.4 248.6L455.1 248.7L462.9 248.8L470.7 248.9L478.4 249.0L486.2 249.2L493.9 249.3L501.7 249.5M306.7 241.4L315.1 241.3L323.5 241.2L331.9 241.0L340.4 240.9L348.8 240.9L357.2 240.8L365.7 240.7L374.1 240.7L382.6 240.6L391.0 240.6L399.5 240.6L407.9 240.6L416.4 240.6L424.9 240.6L433.3 240.6L441.8 240.6L450.2 240.7L458.7 240.7L467.1 240.8L475.6 240.9L484.0 241.0L492.4 241.1L500.8 241.2L509.3 241.3M298.0 233.0L307.1 232.9L316.2 232.8L325.3 232.8L334.4 232.7L343.6 232.7L352.7 232.6L361.8 232.6L370.9 232.6L380.1 232.6L389.2 232.5L398.3 232.5L407.5 232.5L416.6 232.5L425.7 232.5L434.9 232.5L444.0 232.6L453.1 232.6L462.3 232.6L471.4 232.6L480.5 232.7L489.7 232.7L498.8 232.8L507.9 232.8L517.0 232.9M289.1 224.4L298.9 224.4L308.7 224.4L318.6 224.4L328.4 224.4L338.2 224.4L348.0 224.4L357.9 224.4L367.7 224.4L377.5 224.3L387.3 224.3L397.2 224.3L407.0 224.3L416.8 224.3L426.6 224.3L436.5 224.3L446.3 224.4L456.1 224.4L465.9 224.4L475.8 224.4L485.6 224.4L495.4 224.4L505.2 224.4L515.1 224.4L524.9 224.4M280.1 215.7L290.7 215.7L301.2 215.8L311.7 215.8L322.3 215.9L332.8 215.9L343.3 216.0L353.9 216.0L364.4 216.0L374.9 216.0L385.5 216.1L396.0 216.1L406.5 216.1L417.0 216.1L427.5 216.1L438.1 216.1L448.6 216.0L459.1 216.0L469.6 216.0L480.2 216.0L490.7 215.9L501.2 215.9L511.8 215.8L522.3 215.8L532.9 215.7M271.0 206.9L282.3 207.0L293.6 207.1L304.9 207.2L316.1 207.3L327.4 207.4L338.6 207.5L349.8 207.6L361.1 207.6L372.3 207.6L383.5 207.7L394.8 207.7L406.0 207.7L417.2 207.7L428.5 207.7L439.7 207.7L450.9 207.6L462.2 207.6L473.4 207.5L484.6 207.5L495.9 207.4L507.1 207.3L518.4 207.2L529.6 207.1L540.9 207.0M261.9 198.1L273.9 198.2L285.9 198.4L297.9 198.6L309.9 198.7L321.9 198.8L333.8 198.9L345.8 199.0L357.7 199.1L369.7 199.2L381.6 199.2L393.6 199.3L405.5 199.3L417.4 199.3L429.4 199.3L441.3 199.2L453.3 199.2L465.2 199.1L477.2 199.0L489.1 198.9L501.1 198.8L513.1 198.7L525.0 198.6L537.0 198.4L549.0 198.2M420.5 351.8L420.0 352.3L419.5 352.7L418.9 353.1L418.4 353.4L417.8 353.7L417.2 354.0L416.6 354.2L415.9 354.3L415.3 354.5L414.6 354.6L414.0 354.6L413.3 354.6L412.7 354.6L412.0 354.5L411.4 354.4L410.7 354.2L410.1 354.0L409.5 353.7L408.9 353.4L408.4 353.1L407.8 352.7L407.3 352.3L406.8 351.9L406.4 351.4M421.4 352.8L420.9 353.3L420.3 353.8L419.7 354.2L419.0 354.6L418.4 354.9L417.7 355.2L417.0 355.5L416.3 355.7L415.5 355.8L414.8 355.9L414.0 356.0L413.3 356.0L412.5 356.0L411.8 355.9L411.1 355.7L410.3 355.5L409.6 355.3L408.9 355.0L408.3 354.7L407.6 354.3L407.0 353.9L406.4 353.4L405.9 352.9L405.3 352.4M422.5 353.9L421.9 354.5L421.2 355.0L420.5 355.5L419.8 356.0L419.0 356.4L418.2 356.7L417.4 357.0L416.6 357.2L415.8 357.4L414.9 357.5L414.1 357.6L413.2 357.6L412.4 357.5L411.5 357.4L410.7 357.2L409.9 357.0L409.1 356.7L408.3 356.4L407.5 356.0L406.8 355.6L406.1 355.1L405.4 354.6L404.8 354.0L404.2 353.4M423.8 355.2L423.0 355.9L422.3 356.5L421.5 357.0L420.6 357.5L419.8 358.0L418.9 358.4L418.0 358.7L417.0 358.9L416.1 359.1L415.1 359.3L414.2 359.3L413.2 359.3L412.2 359.3L411.3 359.2L410.3 359.0L409.4 358.7L408.5 358.4L407.6 358.0L406.7 357.6L405.8 357.1L405.0 356.6L404.3 356.0L403.6 355.3L402.9 354.6M425.2 356.7L424.3 357.4L423.5 358.1L422.6 358.7L421.6 359.3L420.6 359.8L419.6 360.2L418.6 360.6L417.5 360.9L416.4 361.1L415.3 361.3L414.2 361.4L413.1 361.4L412.0 361.3L410.9 361.2L409.9 360.9L408.8 360.7L407.7 360.3L406.7 359.9L405.7 359.4L404.8 358.8L403.9 358.2L403.0 357.5L402.2 356.8L401.4 356.0M427.2 358.7L426.2 359.5L425.1 360.2L424.1 360.8L422.9 361.4L421.8 361.9L420.6 362.3L419.4 362.7L418.1 363.0L416.9 363.2L415.6 363.4L414.3 363.5L413.0 363.5L411.7 363.4L410.5 363.3L409.2 363.0L408.0 362.8L406.7 362.4L405.5 362.0L404.4 361.5L403.2 360.9L402.1 360.3L401.1 359.6L400.1 358.9L399.1 358.1M429.6 361.2L428.4 361.9L427.1 362.6L425.8 363.2L424.5 363.8L423.1 364.3L421.7 364.7L420.3 365.1L418.8 365.4L417.3 365.6L415.9 365.7L414.4 365.8L412.9 365.8L411.4 365.7L409.9 365.6L408.4 365.4L407.0 365.1L405.5 364.8L404.1 364.3L402.7 363.9L401.4 363.3L400.1 362.7L398.8 362.0L397.6 361.3L396.4 360.5M432.3 364.0L430.8 364.7L429.3 365.3L427.8 365.9L426.2 366.5L424.6 367.0L422.9 367.4L421.3 367.7L419.6 368.0L417.9 368.2L416.2 368.4L414.4 368.4L412.7 368.4L411.0 368.4L409.3 368.2L407.5 368.0L405.9 367.8L404.2 367.4L402.5 367.0L400.9 366.6L399.3 366.0L397.8 365.4L396.3 364.8L394.8 364.1L393.4 363.3M435.3 367.1L433.6 367.8L431.8 368.4L430.0 369.0L428.1 369.5L426.3 370.0L424.3 370.4L422.4 370.7L420.5 371.0L418.5 371.2L416.5 371.3L414.5 371.4L412.5 371.4L410.5 371.3L408.5 371.2L406.6 371.0L404.6 370.8L402.7 370.4L400.8 370.0L398.9 369.6L397.0 369.1L395.2 368.5L393.4 367.9L391.7 367.2L390.0 366.4M438.7 370.5L436.7 371.2L434.6 371.8L432.5 372.4L430.3 372.9L428.1 373.3L425.9 373.7L423.7 374.0L421.4 374.3L419.2 374.5L416.9 374.6L414.6 374.7L412.3 374.7L410.0 374.7L407.7 374.5L405.5 374.3L403.2 374.1L401.0 373.8L398.8 373.4L396.6 373.0L394.4 372.5L392.3 371.9L390.2 371.3L388.2 370.7L386.2 369.9M442.5 374.4L440.1 375.1L437.7 375.6L435.2 376.2L432.7 376.7L430.2 377.1L427.7 377.5L425.1 377.8L422.5 378.0L419.9 378.2L417.3 378.3L414.7 378.4L412.1 378.4L409.5 378.4L406.8 378.2L404.2 378.1L401.7 377.8L399.1 377.5L396.5 377.1L394.0 376.7L391.5 376.3L389.1 375.7L386.6 375.1L384.3 374.5L381.9 373.8M446.7 378.7L443.9 379.3L441.1 379.9L438.3 380.4L435.4 380.8L432.5 381.2L429.6 381.6L426.7 381.9L423.7 382.1L420.8 382.3L417.8 382.4L414.8 382.5L411.8 382.5L408.8 382.5L405.9 382.3L402.9 382.2L399.9 381.9L397.0 381.6L394.1 381.3L391.2 380.9L388.3 380.5L385.5 380.0L382.7 379.4L379.9 378.8L377.2 378.2M451.3 383.4L448.1 384.0L444.9 384.5L441.6 385.0L438.4 385.4L435.1 385.8L431.8 386.1L428.4 386.4L425.1 386.7L421.7 386.8L418.3 386.9L414.9 387.0L411.5 387.0L408.1 387.0L404.8 386.8L401.4 386.7L398.0 386.5L394.7 386.2L391.4 385.9L388.1 385.5L384.8 385.1L381.5 384.6L378.3 384.1L375.2 383.5L372.0 382.9M456.3 388.6L452.7 389.1L449.0 389.6L445.3 390.0L441.6 390.4L437.9 390.8L434.1 391.1L430.3 391.4L426.5 391.6L422.7 391.7L418.9 391.9L415.0 391.9L411.2 391.9L407.4 391.9L403.6 391.8L399.8 391.6L396.0 391.4L392.2 391.2L388.4 390.9L384.7 390.5L380.9 390.1L377.3 389.7L373.6 389.2L370.0 388.7L366.4 388.1M461.7 394.2L457.6 394.6L453.5 395.1L449.3 395.5L445.1 395.9L440.9 396.2L436.6 396.5L432.4 396.7L428.1 396.9L423.8 397.1L419.5 397.2L415.2 397.2L410.9 397.2L406.6 397.2L402.3 397.1L398.0 397.0L393.7 396.8L389.5 396.5L385.2 396.3L381.0 395.9L376.8 395.6L372.6 395.2L368.4 394.7L364.3 394.2L360.2 393.7M467.6 400.2L462.9 400.6L458.2 401.0L453.5 401.4L448.8 401.7L444.1 402.0L439.3 402.3L434.5 402.5L429.8 402.7L425.0 402.8L420.2 402.9L415.3 402.9L410.5 402.9L405.7 402.9L400.9 402.8L396.1 402.7L391.3 402.5L386.5 402.3L381.8 402.1L377.0 401.8L372.3 401.4L367.6 401.1L362.9 400.7L358.3 400.2L353.7 399.8M473.8 406.5L468.6 406.9L463.3 407.3L458.1 407.6L452.8 407.9L447.5 408.2L442.2 408.4L436.9 408.6L431.6 408.8L426.2 408.9L420.9 409.0L415.5 409.0L410.1 409.0L404.8 409.0L399.4 408.9L394.1 408.8L388.7 408.7L383.4 408.5L378.1 408.2L372.8 408.0L367.5 407.7L362.3 407.4L357.0 407.0L351.8 406.6L346.7 406.2M480.3 413.3L474.6 413.6L468.7 413.9L462.9 414.2L457.0 414.5L451.2 414.7L445.3 414.9L439.4 415.1L433.4 415.2L427.5 415.3L421.6 415.4L415.7 415.5L409.7 415.5L403.8 415.4L397.9 415.4L392.0 415.3L386.0 415.1L380.1 415.0L374.2 414.8L368.4 414.5L362.5 414.3L356.7 414.0L350.8 413.7L345.0 413.3L339.3 413.0M487.2 420.3L480.8 420.6L474.4 420.9L467.9 421.1L461.4 421.4L455.0 421.6L448.5 421.7L441.9 421.9L435.4 422.0L428.9 422.1L422.4 422.1L415.8 422.2L409.3 422.2L402.8 422.2L396.3 422.1L389.7 422.0L383.2 421.9L376.7 421.8L370.2 421.6L363.7 421.4L357.2 421.2L350.8 420.9L344.3 420.7L337.9 420.4L331.5 420.1M494.4 427.7L487.3 427.9L480.2 428.1L473.1 428.3L466.0 428.5L458.9 428.7L451.8 428.8L444.6 428.9L437.5 429.0L430.3 429.1L423.2 429.1L416.0 429.2L408.9 429.2L401.7 429.1L394.6 429.1L387.4 429.0L380.3 428.9L373.1 428.8L366.0 428.7L358.9 428.5L351.8 428.4L344.7 428.2L337.6 427.9L330.5 427.7L323.5 427.4M501.7 435.2L494.0 435.4L486.3 435.6L478.5 435.7L470.7 435.9L463.0 436.0L455.2 436.1L447.4 436.2L439.6 436.3L431.8 436.3L424.0 436.4L416.2 436.4L408.4 436.4L400.6 436.4L392.8 436.3L385.0 436.3L377.2 436.2L369.4 436.1L361.7 436.0L353.9 435.9L346.1 435.8L338.4 435.6L330.6 435.4L322.9 435.3L315.2 435.1M509.3 443.0L500.9 443.1L492.5 443.2L484.0 443.3L475.6 443.4L467.2 443.5L458.7 443.6L450.3 443.6L441.8 443.7L433.3 443.7L424.9 443.8L416.4 443.8L407.9 443.8L399.5 443.8L391.0 443.7L382.6 443.7L374.1 443.6L365.7 443.6L357.2 443.5L348.8 443.4L340.3 443.3L331.9 443.2L323.5 443.1L315.0 443.0L306.6 442.9M517.0 450.9L507.9 451.0L498.8 451.0L489.7 451.1L480.6 451.1L471.4 451.2L462.3 451.2L453.2 451.3L444.0 451.3L434.9 451.3L425.7 451.3L416.6 451.3L407.5 451.3L398.3 451.3L389.2 451.3L380.1 451.3L370.9 451.3L361.8 451.2L352.7 451.2L343.5 451.1L334.4 451.1L325.3 451.0L316.2 451.0L307.1 450.9L297.9 450.9M524.9 459.0L515.1 459.0L505.2 459.0L495.4 459.0L485.6 459.0L475.8 459.0L465.9 459.0L456.1 459.0L446.3 459.0L436.5 459.0L426.6 459.0L416.8 459.0L407.0 459.0L397.2 459.0L387.3 459.0L377.5 459.0L367.7 459.0L357.9 459.0L348.0 459.0L338.2 459.0L328.4 459.0L318.6 459.0L308.7 459.0L298.9 459.0L289.1 459.0M532.8 467.1L522.3 467.1L511.8 467.0L501.2 467.0L490.7 466.9L480.2 466.9L469.6 466.9L459.1 466.8L448.6 466.8L438.1 466.8L427.5 466.8L417.0 466.8L406.5 466.8L396.0 466.8L385.5 466.8L374.9 466.8L364.4 466.8L353.9 466.8L343.4 466.9L332.8 466.9L322.3 467.0L311.8 467.0L301.2 467.1L290.7 467.1L280.1 467.2M540.9 475.4L529.6 475.2L518.3 475.1L507.1 475.0L495.8 474.9L484.6 474.9L473.4 474.8L462.1 474.7L450.9 474.7L439.7 474.7L428.4 474.6L417.2 474.6L406.0 474.6L394.8 474.6L383.6 474.7L372.3 474.7L361.1 474.7L349.9 474.8L338.6 474.9L327.4 474.9L316.1 475.0L304.9 475.1L293.6 475.2L282.4 475.3L271.1 475.5M549.0 483.7L537.0 483.5L525.0 483.3L513.0 483.2L501.0 483.0L489.1 482.9L477.1 482.8L465.2 482.7L453.2 482.6L441.3 482.6L429.4 482.6L417.4 482.5L405.5 482.5L393.6 482.6L381.6 482.6L369.7 482.6L357.8 482.7L345.8 482.8L333.9 482.9L321.9 483.0L309.9 483.1L298.0 483.3L286.0 483.5L274.0 483.6L262.0 483.8" fill="none" stroke="#0a5514" stroke-width="0.75" stroke-opacity="0.6"/></g>
<path d="M419.8 338.0L425.1 332.3L549.0 198.2M420.1 338.3L425.6 332.7L548.9 204.5M420.3 338.5L426.0 333.2L548.8 210.7M420.5 338.7L426.4 333.6L548.7 216.9M420.7 339.0L426.8 334.1L548.7 223.1M420.9 339.2L427.1 334.5L548.6 229.4M421.1 339.5L427.5 335.0L548.5 235.6M421.3 339.8L427.8 335.5L548.4 241.8M421.5 340.0L428.2 336.0L548.3 248.0M421.6 340.3L428.5 336.5L548.3 254.2M421.8 340.6L428.7 337.1L548.2 260.4M421.9 340.9L429.0 337.6L548.1 266.6M422.1 341.2L429.2 338.2L548.1 272.8M422.2 341.5L429.5 338.7L548.0 279.0M422.3 341.8L429.7 339.3L548.0 285.2M422.4 342.1L429.9 339.8L547.9 291.4M422.5 342.4L430.0 340.4L547.9 297.6M422.6 342.7L430.2 341.0L547.9 303.8M422.6 343.1L430.3 341.6L547.8 310.0M422.7 343.4L430.4 342.2L547.8 316.2M422.7 343.7L430.5 342.8L547.8 322.4M422.8 344.0L430.5 343.4L547.8 328.6M422.8 344.4L430.6 344.0L547.8 334.8M422.8 344.7L430.6 344.6L547.8 341.0M422.8 345.0L430.6 345.2L547.8 347.2M422.8 345.3L430.6 345.8L547.8 353.3M422.8 345.6L430.5 346.4L547.8 359.5M422.7 346.0L430.5 347.0L547.8 365.7M422.7 346.3L430.4 347.6L547.8 371.9M422.6 346.6L430.3 348.2L547.8 378.1M422.6 346.9L430.1 348.7L547.9 384.3M422.5 347.2L430.0 349.3L547.9 390.5M422.4 347.6L429.8 349.9L547.9 396.7M422.3 347.9L429.6 350.5L548.0 402.9M422.2 348.2L429.4 351.0L548.0 409.1M422.0 348.5L429.2 351.6L548.1 415.3M421.9 348.8L428.9 352.1L548.1 421.5M421.8 349.1L428.7 352.7L548.2 427.7M421.6 349.3L428.4 353.2L548.3 433.9M421.4 349.6L428.1 353.7L548.3 440.1M421.3 349.9L427.8 354.2L548.4 446.3M421.1 350.2L427.4 354.7L548.5 452.5M420.9 350.4L427.1 355.2L548.6 458.8M420.7 350.7L426.7 355.7L548.7 465.0M420.5 350.9L426.3 356.1L548.8 471.2M420.3 351.2L425.9 356.5L548.9 477.4M406.8 351.0L401.1 356.3L262.0 483.8M406.6 350.8L400.7 355.9L262.1 477.9M406.4 350.6L400.4 355.5L262.1 471.9M406.3 350.4L400.0 355.1L262.2 465.9M406.1 350.1L399.7 354.6L262.3 460.0M405.9 349.9L399.4 354.2L262.4 454.0M405.8 349.6L399.1 353.7L262.4 448.0M405.6 349.4L398.9 353.3L262.5 442.1M405.5 349.1L398.6 352.8L262.6 436.1M405.4 348.9L398.4 352.3L262.6 430.2M405.2 348.6L398.1 351.8L262.7 424.2M405.1 348.3L397.9 351.4L262.7 418.2M405.0 348.1L397.7 350.9L262.8 412.3M404.9 347.8L397.5 350.4L262.8 406.3M404.8 347.5L397.4 349.8L262.8 400.4M404.7 347.3L397.2 349.3L262.9 394.5M404.7 347.0L397.1 348.8L262.9 388.5M404.6 346.7L397.0 348.3L262.9 382.6M404.5 346.4L396.9 347.8L263.0 376.6M404.5 346.1L396.8 347.2L263.0 370.7M404.5 345.8L396.7 346.7L263.0 364.7M404.4 345.5L396.7 346.2L263.0 358.8M404.4 345.3L396.6 345.6L263.0 352.8M404.4 345.0L396.6 345.1L263.0 346.9M404.4 344.7L396.6 344.6L263.0 341.0M404.4 344.4L396.6 344.0L263.0 335.0M404.4 344.1L396.6 343.5L263.0 329.1M404.5 343.8L396.7 343.0L263.0 323.1M404.5 343.5L396.8 342.4L263.0 317.2M404.5 343.2L396.8 341.9L263.0 311.3M404.6 343.0L396.9 341.4L262.9 305.3M404.7 342.7L397.1 340.9L262.9 299.4M404.7 342.4L397.2 340.3L262.9 293.4M404.8 342.1L397.3 339.8L262.9 287.5M404.9 341.8L397.5 339.3L262.8 281.5M405.0 341.6L397.7 338.8L262.8 275.6M405.1 341.3L397.9 338.3L262.7 269.6M405.2 341.0L398.1 337.8L262.7 263.7M405.3 340.8L398.3 337.3L262.6 257.7M405.5 340.5L398.6 336.9L262.6 251.8M405.6 340.3L398.8 336.4L262.5 245.8M405.7 340.0L399.1 335.9L262.4 239.8M405.9 339.8L399.4 335.5L262.4 233.9M406.1 339.5L399.7 335.0L262.3 227.9M406.2 339.3L400.0 334.6L262.2 222.0M406.4 339.1L400.3 334.2L262.2 216.0M406.6 338.8L400.7 333.8L262.1 210.0M406.8 338.6L401.0 333.4L262.0 204.0" fill="none" stroke="#0a5514" stroke-width="0.75" stroke-opacity="0.42"/>
</g>
<path d="M288.9 404.2V224.1H525.5" fill="none" stroke="#0a5514" stroke-width="0.75" stroke-opacity="0.7"/>
<circle cx="413.6" cy="344.8" r="9.2" fill="#3d4b78"/>
<path d="M419.4 338.1L518.2 230.7" stroke="#f02f45" stroke-width="1.35" fill="none"/>
<g font-family='"Liberation Sans", Arial, sans-serif' font-size="3.6" fill="#b8361a" fill-opacity="0.85">
<text x="421.6" y="339.3">2</text>
<text x="423.3" y="337.4">3</text>
<text x="425.4" y="335.1">4</text>
<text x="427.7" y="332.6">5</text>
<text x="430.2" y="329.9">6</text>
<text x="432.9" y="327.0">7</text>
<text x="435.6" y="324.0">8</text>
<text x="438.5" y="320.9">9</text>
<text x="441.4" y="317.7">10</text>
<text x="444.5" y="314.4">11</text>
<text x="447.6" y="311.0">12</text>
<text x="450.8" y="307.5">13</text>
<text x="454.1" y="303.9">14</text>
<text x="457.4" y="300.3">15</text>
<text x="460.8" y="296.6">16</text>
<text x="464.3" y="292.9">17</text>
<text x="467.8" y="289.0">18</text>
<text x="471.4" y="285.1">19</text>
<text x="475.0" y="281.2">20</text>
<text x="478.7" y="277.2">21</text>
<text x="482.4" y="273.2">22</text>
<text x="486.1" y="269.1">23</text>
<text x="490.0" y="264.9">24</text>
<text x="493.8" y="260.8">25</text>
<text x="497.7" y="256.5">26</text>
<text x="501.6" y="252.2">27</text>
<text x="505.6" y="247.9">28</text>
<text x="509.6" y="243.6">29</text>
<text x="513.7" y="239.2">30</text>
<text x="517.7" y="234.7">31</text>
<text x="519.7" y="231.5" font-size="3.4">Path-1: 40</text>
<text x="433.4" y="337.6">1</text>
</g>
</g>
<g font-family='"Liberation Serif", "Times New Roman", serif' font-size="13.6" fill="#000">
<text x="70.2" y="209.2" textLength="117.6" lengthAdjust="spacingAndGlyphs">(<tspan font-weight="bold">a</tspan>) Rock permeability</text>
<text x="331.6" y="208.7" textLength="167.0" lengthAdjust="spacingAndGlyphs">(<tspan font-weight="bold">b</tspan>) Disturbance damage factor</text>
<text x="37.1" y="427.7" textLength="184.0" lengthAdjust="spacingAndGlyphs">(<tspan font-weight="bold">c</tspan>) Equivalent plastic deformation</text>
<text x="347.3" y="427.0" textLength="132.7" lengthAdjust="spacingAndGlyphs">(<tspan font-weight="bold">d</tspan>) Node extraction path</text>
</g>
</g>
</svg>
</body></html>
